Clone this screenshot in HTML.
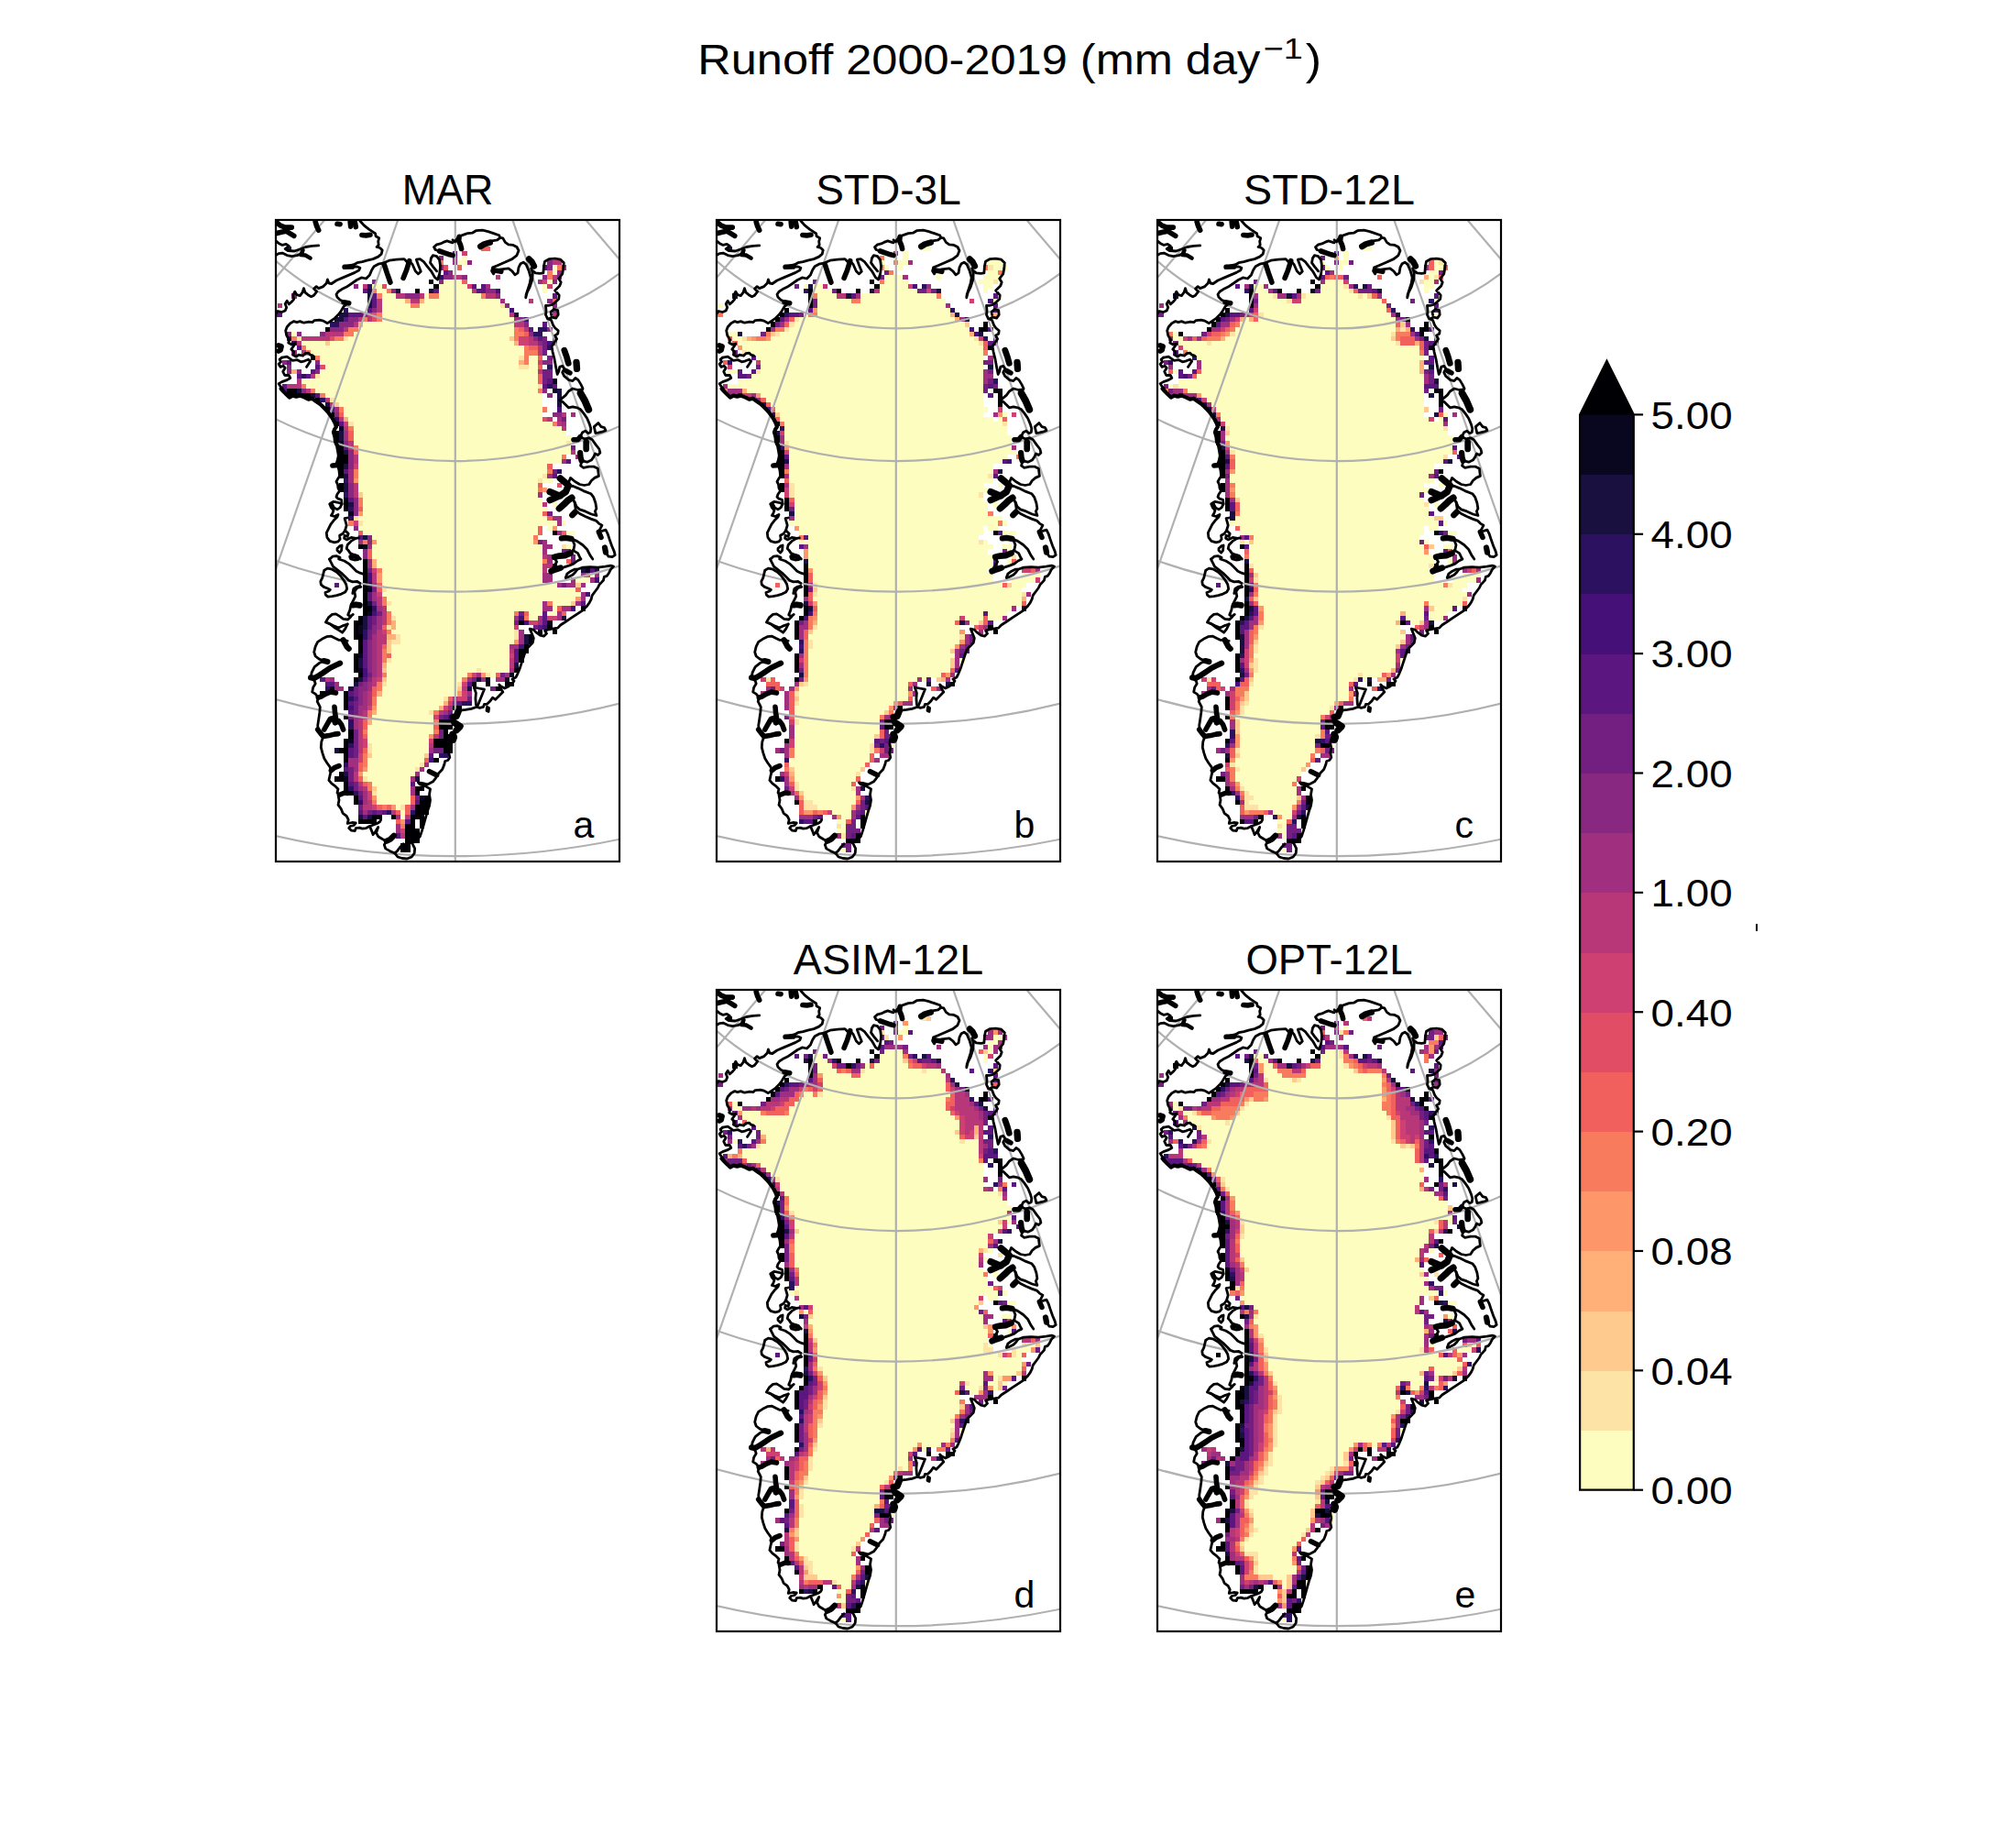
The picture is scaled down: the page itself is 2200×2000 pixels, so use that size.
<!DOCTYPE html>
<html><head><meta charset="utf-8"><title>Runoff 2000-2019</title>
<style>
html,body{margin:0;padding:0;background:#fff;}
body{width:2200px;height:2000px;overflow:hidden;font-family:"Liberation Sans",sans-serif;}
svg{display:block;position:absolute;left:0;top:0;}
text{font-family:"Liberation Sans",sans-serif;fill:#000;}
</style></head><body>
<svg xmlns="http://www.w3.org/2000/svg" xmlns:xlink="http://www.w3.org/1999/xlink" width="2200" height="2000" viewBox="0 0 2200 2000">
<defs>
<clipPath id="pc"><rect x="0" y="0" width="375" height="700"/></clipPath>

<g id="grat" fill="none" stroke="#b0b0b0" stroke-width="2.2" clip-path="url(#pc)"><circle cx="195.8" cy="-178.8" r="297.2"/><circle cx="195.8" cy="-178.8" r="441.9"/><circle cx="195.8" cy="-178.8" r="584.4"/><circle cx="195.8" cy="-178.8" r="728.6"/><circle cx="195.8" cy="-178.8" r="873.0"/><path d="M195.8 -5V705"/><path d="M135.0 -5L-113.5 705"/><path d="M256.6 -5L505.1 705"/><path d="M52.4 1L0 63"/><path d="M52.4 1L57.5 -5"/><path d="M339.2 1L375 43"/><path d="M339.2 1L334 -5"/></g>
<g id="coast" fill="none" stroke="#000" stroke-width="2.8" stroke-linejoin="round" stroke-linecap="round" clip-path="url(#pc)"><path d="M91.9 1.0 L95.9 5.6 L101.5 10.2 L106.1 13.2 L108.6 14.7 L109.1 17.8 L112.7 19.8 L111.7 23.4 L112.2 27.4 L110.1 29.5 L113.7 30.5 L116.2 33.0 L115.2 37.1 L111.7 40.1 L106.1 42.6 L99.5 44.2 L94.4 45.7 L88.8 46.7 L85.3 48.7 L80.2 49.8 L75.1 51.3 L81.2 51.6 L88.3 50.8 L91.9 52.3 L90.9 54.8 L86.3 57.4 L79.2 60.4 L72.1 63.4 L66.0 66.0 L60.9 69.5 L57.9 69.0 L56.4 65.0 L55.3 69.0 L51.8 72.6 L46.7 74.6 L44.2 72.6 L41.6 75.1 L44.7 78.2 L41.6 82.2 L38.6 83.7 L35.1 81.7 L32.0 79.2 L30.5 74.6 L29.0 79.2 L26.4 82.7 L22.9 81.7 L20.8 78.2 L18.8 82.2 L19.8 86.3 L16.8 89.8 L14.3 91.9 L12.2 88.3 L10.2 91.4 L11.7 95.4 L10.2 99.0 L6.6 100.5 L2.1 99.5 L0.0 102.5"/><path d="M93.9 16.5 L98.5 16.9 L103.0 16.3" stroke-width="5.6"/><path d="M75.1 51.3 L83.3 51.0" stroke-width="5.6"/><path d="M0.0 2.1 L5.1 6.1 L10.2 8.1 L17.3 8.1" stroke-width="5.6"/><path d="M0.0 14.7 L6.1 13.2 L11.2 12.2 L19.8 17.3" stroke-width="5.6"/><path d="M0.0 22.9 L3.1 25.4 L7.1 27.4 L11.2 26.4 L14.3 28.4 L10.2 31.5 L13.2 33.5 L20.3 34.0 L27.4 31.5 L32.5 29.5 L39.6 28.4 L46.7 27.9"/><path d="M29.5 33.0 L27.4 38.1 L32.5 38.6 L37.6 41.6" stroke-width="4.5"/><path d="M0.0 38.6 L3.1 36.6 L7.1 36.1 L12.2 38.6 L17.3 39.6 L23.4 38.6 L29.5 36.1"/><path d="M43.2 2.1 L44.7 7.1 L46.7 11.2" stroke-width="5.6"/><path d="M67.0 4.3 L70.1 4.7" stroke-width="5.6"/><path d="M81.2 2.1 L81.7 7.1" stroke-width="5.6"/><path d="M86.3 2.6 L87.3 7.6" stroke-width="5.6"/><path d="M79.2 90.5 L74.1 94.4 L71.1 99.5 L68.0 103.5 L64.5 107.1 L59.4 110.6 L56.4 112.7 L51.8 110.1 L47.7 109.1 L42.2 109.6 L40.1 111.6 L36.1 111.1 L30.5 112.2 L26.4 110.6 L22.9 111.6 L19.8 110.6 L15.8 112.7 L12.2 116.7 L10.7 120.8 L11.7 125.9 L14.8 130.9 L13.7 134.0 L17.3 136.0 L20.8 135.0 L18.8 138.5 L16.8 141.1 L19.8 144.1 L18.8 147.2 L22.4 149.2 L24.9 147.2 L29.5 148.2 L32.0 145.6 L35.6 145.1 L37.6 147.2 L40.6 148.2"/><path d="M6.6 150.2 L4.1 152.2 L5.6 154.8 L3.1 157.3 L5.1 160.4 L8.2 159.3 L10.2 161.4 L7.7 165.4 L9.7 169.5 L14.3 169.5 L15.8 172.5 L12.2 174.6 L6.6 176.6 L3.1 178.6 L5.1 181.7 L7.1 184.0"/><path d="M6.6 150.2 L12.2 149.2 L18.3 153.3 L23.4 152.7 L27.4 154.8 L31.5 153.8 L35.6 152.2 L37.6 154.3 L35.6 157.3 L33.5 160.4"/><path d="M3.1 137.0 L6.1 138.0 L5.1 142.1 L3.1 143.1" stroke-width="5.6"/><path d="M74.1 89.8 L79.7 90.8" stroke-width="5.6"/><path d="M77.2 90.3 L70.1 87.3 L67.0 84.3 L66.0 81.2 L68.0 78.2 L72.1 75.6 L77.2 73.1 L83.3 69.0 L88.3 65.5 L93.4 62.9 L98.5 64.0 L102.5 59.9 L104.6 54.8 L107.1 50.8 L111.7 48.2 L116.7 47.2 L123.8 44.2 L132.0 43.2 L140.1 42.6 L143.1 45.7 L145.7 44.7 L149.2 48.7 L152.3 55.8 L155.3 58.9 L158.3 56.3 L155.3 48.7 L153.3 43.2 L157.3 42.6 L161.4 45.7 L165.4 50.8 L169.5 55.8 L173.6 62.9 L176.6 65.0 L178.6 58.9 L179.6 50.8 L178.6 43.7 L175.6 39.6 L171.5 38.6 L169.5 41.6 L168.5 46.7 L171.5 50.8 L175.6 55.8"/><path d="M118.3 48.7 L121.3 57.9 L124.9 68.0" stroke-width="5.6"/><path d="M145.7 44.7 L142.6 54.8 L139.1 63.4" stroke-width="5.6"/><path d="M193.0 24.9 L189.8 23.9 L186.8 22.9 L182.7 24.4 L179.6 25.9 L175.6 26.9 L172.5 29.5 L174.1 32.5 L178.6 34.0"/><path d="M178.6 34.0 L184.7 36.1 L189.8 37.8 L193.0 38.6" stroke-width="5.6"/><path d="M193.0 21.8 L195.5 23.9 L197.1 21.3 L200.1 18.3 L204.2 16.3 L209.2 14.7 L214.3 14.2 L218.4 11.7 L225.5 11.2 L231.6 12.7 L237.6 14.7 L243.7 16.8 L244.8 19.3 L241.7 21.8 L235.6 22.9 L229.5 24.4 L225.5 26.9"/><path d="M223.4 28.9 L227.5 26.4 L233.6 24.6" stroke-width="6.7"/><path d="M244.8 19.3 L247.8 19.8 L250.3 24.4 L253.9 26.9 L259.0 27.4 L263.0 29.5 L265.0 33.5 L263.0 38.6 L257.9 42.6 L249.8 46.2 L241.7 49.8 L236.6 51.8 L235.6 55.8 L237.6 58.9 L239.7 54.8 L245.8 53.8 L253.9 52.8 L257.9 55.8 L261.0 59.9 L264.0 57.9 L265.0 51.8 L267.1 47.7 L270.1 46.2 L273.2 48.7 L276.2 55.8 L278.2 62.9 L277.2 69.0 L275.2 75.1 L273.2 81.2 L272.7 84.8 L274.2 79.2 L277.2 73.1 L279.8 65.0 L280.3 57.9 L278.7 52.8"/><path d="M237.6 54.8 L245.8 56.3" stroke-width="5.6"/><path d="M200.1 18.3 L199.6 22.9 L201.6 27.4 L202.6 31.5" stroke-width="5.6"/><path d="M276.2 42.6 L279.3 45.7 L281.8 50.3" stroke-width="6.7"/><path d="M280.8 55.8 L283.3 57.9 L288.4 58.4 L291.9 57.9 L292.4 50.8 L293.5 45.2 L298.5 42.6 L304.6 42.1 L310.7 43.2 L314.3 46.7 L313.8 52.8 L312.7 58.9 L308.7 64.0 L311.2 68.0 L309.7 72.1 L304.6 77.1 L306.6 79.2 L309.2 82.2 L308.7 86.3 L305.6 89.3 L301.6 92.4 L297.5 93.4 L294.5 93.4 L295.0 99.5 L294.5 103.5 L296.5 107.6 L300.6 109.6 L302.6 114.7 L304.6 117.7 L308.2 120.8 L307.7 124.3 L304.6 125.9 L306.6 129.9 L303.6 134.0 L301.1 138.0 L302.1 144.1 L304.1 152.2 L305.6 160.4 L307.2 168.5 L308.7 165.4 L309.7 160.4 L312.7 159.3 L314.8 162.4 L312.7 166.4 L314.8 170.5 L319.8 174.6 L323.9 175.6 L326.9 172.5 L330.0 174.6 L333.0 179.6 L335.1 184.0"/><path d="M300.6 103.5 L300.1 100.5 L303.6 97.4 L307.7 98.5 L308.2 103.5 L305.6 107.1 L301.6 106.1 L298.5 107.6"/><path d="M314.8 142.1 L317.3 149.2 L319.3 156.3" stroke-width="6.7"/><path d="M328.0 155.3 L328.5 162.4" stroke-width="7.3"/><path d="M316.3 164.4 L320.9 166.9" stroke-width="5.6"/><path d="M5.6 184.0 L8.2 187.0 L12.2 191.1 L14.8 193.6 L18.3 191.6 L22.4 192.6 L26.4 191.6 L31.5 193.6 L35.6 195.7 L39.6 194.7 L43.7 197.7 L48.8 201.3 L52.8 205.3 L56.4 208.9 L59.4 212.9 L61.9 216.5 L64.5 221.5 L66.0 225.6 L64.0 228.6 L63.0 231.7 L64.5 236.8 L65.0 241.8 L67.0 245.9 L68.0 251.0 L69.0 257.1 L68.0 262.1 L67.0 265.2" stroke-width="4.2"/><path d="M61.9 268.0 L68.0 267.4" stroke-width="5.6"/><path d="M67.0 265.2 L69.0 273.3 L69.6 279.4 L68.0 281.9 L66.0 285.5 L67.5 288.5 L68.0 292.6 L69.6 295.6 L67.0 299.2 L66.0 302.2 L68.0 304.2 L71.6 305.3 L72.1 309.8 L70.1 313.9 L67.0 315.9 L63.5 313.9 L60.9 308.8 L58.9 310.3 L60.4 313.9 L63.0 316.9 L61.9 320.0 L60.4 322.5 L64.0 323.5 L68.0 321.5 L67.0 324.0 L63.0 328.1 L59.9 332.1 L57.4 337.2 L55.3 341.3 L55.9 346.4 L58.9 350.4 L64.0 351.9 L68.0 350.9 L70.1 348.4 L69.6 344.3 L73.1 342.3 L75.6 338.7 L77.2 333.2 L76.1 329.1 L75.1 325.6 L78.2 325.0"/><path d="M58.9 309.8 L63.0 307.3 L68.0 308.3 L72.1 309.8"/><path d="M75.6 338.7 L79.2 342.3 L78.2 345.3 L75.1 344.3 L74.6 347.4 L77.2 348.9 L82.2 346.4 L87.3 347.4 L90.4 346.9"/><path d="M87.3 347.4 L82.2 350.4 L78.2 354.5 L77.2 358.5 L79.2 360.6 L81.2 363.6 L85.3 365.6 L89.3 366.6 L92.4 370.0"/><path d="M67.0 358.5 L70.1 355.5 L72.1 355.0 L71.6 360.6 L69.6 363.1 L67.0 360.6 L67.0 358.5"/><path d="M58.9 370.0 L61.9 367.2 L66.0 366.6 L70.1 368.2"/><path d="M82.2 367.7 L85.3 366.6 L88.3 367.7" stroke-width="5.6"/><path d="M334.7 185.0 L329.6 185.5 L324.0 184.0 L319.4 187.0 L316.4 191.1 L312.8 194.1 L309.8 196.7 L312.8 198.2 L315.9 201.3 L319.4 204.8 L324.0 203.8 L328.6 204.8 L332.6 206.8 L336.2 211.4 L339.7 216.5 L342.3 222.6 L343.8 227.6 L343.3 231.7 L340.8 232.7 L337.7 230.2 L334.7 231.7 L332.1 236.8 L336.7 238.8 L341.8 237.8 L345.3 239.8 L348.9 244.9 L352.9 250.0 L353.9 254.0 L351.4 256.6 L348.4 255.0 L346.8 258.6 L344.3 262.1 L339.7 264.2 L335.7 263.1 L332.6 259.1"/><path d="M332.1 236.8 L329.6 239.8 L325.0 239.8" stroke-width="5.6"/><path d="M332.1 254.0 L332.6 259.1 L333.6 262.6" stroke-width="6.2"/><path d="M333.6 264.2 L332.6 268.2 L335.7 270.3 L341.8 269.2 L347.3 269.2 L351.4 271.3 L351.9 275.3 L352.4 279.4 L347.9 281.4 L344.3 284.5 L341.8 288.5 L336.7 289.5 L331.6 288.5 L326.5 285.5 L321.5 281.4 L319.9 285.5 L318.4 289.5 L324.5 290.5 L329.6 292.6 L335.7 295.6 L343.8 298.7 L346.8 302.7 L348.9 308.8 L349.9 314.9 L348.4 317.9 L349.9 322.5 L344.3 321.0 L337.7 317.9 L331.6 315.9 L328.1 312.9 L326.0 307.8 L323.0 303.2"/><path d="M323.0 303.2 L318.9 305.8 L314.4 310.3 L309.3 314.9" stroke-width="7.3"/><path d="M326.0 307.8 L327.1 314.9 L326.5 319.0"/><path d="M326.5 319.0 L323.5 322.0" stroke-width="6.7"/><path d="M327.1 316.9 L331.6 320.5 L337.7 323.5 L343.8 326.1 L349.4 328.1 L352.4 331.1 L356.0 333.2 L353.9 337.2 L352.4 340.3"/><path d="M352.4 340.3 L355.0 346.4" stroke-width="5.6"/><path d="M356.0 339.3 L360.0 338.2 L362.1 342.3 L364.1 348.4 L366.6 355.5 L369.2 361.6 L370.2 365.6 L367.1 367.7 L363.1 367.2 L360.0 362.6"/><path d="M360.0 362.6 L359.0 357.5" stroke-width="6.2"/><path d="M310.3 281.9 L319.4 289.5 L316.4 296.6 L310.3 300.7 L299.1 305.8" stroke-width="7.3"/><path d="M299.1 296.6 L306.3 299.7 L310.3 300.7" stroke-width="7.3"/><path d="M347.3 225.6 L351.9 221.5 L355.0 225.6 L358.5 226.6 L360.0 229.7 L356.0 231.2 L351.9 232.2 L348.9 232.7 L347.3 225.6"/><path d="M332.6 189.1 L337.2 197.2 L341.3 206.8" stroke-width="7.8"/><path d="M338.7 242.3 L338.7 250.0" stroke-width="6.7"/><path d="M311.8 347.4 L316.4 346.9 L322.5 347.9" stroke-width="6.2"/><path d="M322.5 347.9 L328.6 350.4 L334.7 354.5 L339.7 359.5 L342.8 365.6 L345.8 370.0"/><path d="M323.5 348.4 L326.0 354.5 L325.0 359.5 L321.5 363.6"/><path d="M321.5 363.6 L315.4 366.1 L309.3 366.6 L304.2 367.7" stroke-width="6.7"/><path d="M324.5 360.6 L329.6 363.6 L332.6 370.0"/><path d="M52.8 382.2 L56.4 380.1 L61.5 381.2 L66.5 384.2 L70.6 388.3 L73.6 392.3 L76.7 397.4 L77.7 402.5 L75.7 406.0 L71.6 408.1 L66.5 409.6 L61.5 410.6 L56.9 411.1 L54.4 409.1 L53.9 406.5 L57.9 405.0 L59.4 403.5 L56.4 402.0 L52.3 400.4 L49.3 397.9 L48.8 394.4 L50.8 390.3 L51.8 386.2 L52.8 382.2"/><path d="M58.4 370.0 L60.5 374.1 L62.5 378.1 L67.6 382.2 L72.6 386.2 L76.7 390.3 L79.7 393.3 L83.8 394.9 L88.9 394.4 L91.9 396.4"/><path d="M68.6 370.0 L74.7 372.0 L79.7 375.1 L83.8 379.1 L87.9 383.2 L91.9 385.2 L95.0 386.2"/><path d="M81.8 370.0 L85.8 371.0 L89.9 370.5"/><path d="M92.9 400.4 L88.9 401.5 L85.8 405.5 L83.8 407.5 L84.8 402.5 L87.9 400.4 L91.9 399.4"/><path d="M85.8 405.5 L86.8 410.6 L84.3 415.7 L81.8 420.7 L80.8 425.8 L78.7 430.9 L81.8 432.4 L84.3 430.4"/><path d="M84.3 420.2 L87.3 419.7 L91.4 420.4" stroke-width="6.7"/><path d="M81.8 432.9 L78.7 436.0 L73.6 435.4 L69.6 432.4 L65.5 429.9 L61.5 430.4 L57.4 433.9 L54.4 439.0 L59.4 441.0 L64.5 445.1 L69.6 448.1 L72.6 450.2 L75.7 446.1 L78.2 441.0"/><path d="M78.2 441.0 L73.6 442.6 L68.6 445.1 L62.5 442.6 L57.4 440.0"/><path d="M78.2 459.3 L73.6 458.3 L68.6 458.3 L64.5 456.3 L60.5 454.2 L55.4 454.7 L50.3 457.3 L45.7 460.3 L43.2 465.4 L41.7 471.5 L43.2 476.0 L47.3 479.1 L52.3 481.1"/><path d="M73.6 458.3 L75.7 462.3 L77.7 465.9 L79.7 467.9" stroke-width="6.2"/><path d="M52.3 481.1 L56.4 482.1" stroke-width="6.2"/><path d="M52.3 481.1 L47.3 483.6 L42.2 487.7 L39.1 493.8 L38.1 499.4"/><path d="M38.1 499.4 L42.2 499.9 L47.3 496.8 L53.4 492.8 L59.4 488.7 L65.5 485.7 L70.1 483.6" stroke-width="6.2"/><path d="M38.1 499.4 L42.2 502.9 L43.2 506.0 L40.7 510.0 L39.7 515.1 L43.2 517.1 L46.3 521.2"/><path d="M46.3 521.2 L49.3 520.2 L54.4 517.1 L59.4 515.1 L65.5 516.1" stroke-width="5.6"/><path d="M46.3 521.2 L45.2 525.3 L48.3 531.3 L47.8 537.4 L46.8 544.5 L45.7 551.6 L46.3 556.0"/><path d="M64.0 531.3 L64.5 537.4 L65.5 543.5 L65.0 548.6" stroke-width="5.6"/><path d="M52.8 556.0 L56.4 549.6 L59.4 544.5 L62.5 543.5 L64.5 548.6 L68.6 546.6 L71.6 550.6 L73.6 556.0" stroke-width="5.6"/><path d="M304.6 370.0 L306.6 373.0 L304.6 376.1 L302.6 379.1"/><path d="M300.6 383.2 L305.6 381.2 L310.7 379.6" stroke-width="6.7"/><path d="M310.7 379.6 L313.8 379.1 L319.8 377.1 L324.9 375.1 L329.0 372.0 L333.0 370.0"/><path d="M316.3 390.3 L317.8 386.2 L321.9 383.2 L325.9 381.2 L329.0 381.2 L335.1 379.1 L343.2 378.6 L351.3 379.1 L359.4 378.1 L365.5 377.1 L368.5 378.1 L365.5 381.2 L363.5 385.2 L361.4 388.3 L358.4 389.3 L357.4 393.3 L355.4 395.4 L353.3 397.4 L351.3 401.5 L348.3 405.5 L345.2 409.6 L344.2 413.6 L342.2 417.7 L339.1 421.8 L335.1 425.8 L329.0 429.9 L322.9 433.9 L316.8 438.0 L310.7 442.0 L307.7 445.1 L301.6 446.1 L296.5 447.1 L293.5 448.1 L295.5 451.2 L292.4 454.2 L288.4 453.2 L284.3 450.2 L281.3 447.1 L277.2 446.1 L279.3 451.2 L281.3 456.3 L280.3 461.3 L277.2 464.4 L274.2 467.4 L272.1 471.5 L270.1 477.6 L268.1 483.6 L266.1 489.7 L264.0 494.8 L262.0 498.9 L257.9 500.9 L260.0 502.9 L257.9 506.0 L253.9 509.0 L249.8 511.0 L245.8 509.0 L243.7 507.0 L245.8 512.1 L247.8 515.1 L243.7 519.2 L239.7 523.2 L236.6 521.2 L233.6 525.3 L230.5 528.3 L227.5 528.3 L226.5 531.3 L222.4 532.4 L219.4 531.3"/><path d="M316.3 390.3 L319.8 389.3 L323.9 387.3 L326.9 384.2 L329.0 381.2"/><path d="M216.3 510.0 L221.4 511.0 L227.5 512.1 L225.5 517.1 L223.4 522.2 L221.4 527.3 L219.4 531.3 L213.3 533.4 L207.2 534.4 L203.1 534.9 L199.1 536.4"/><path d="M216.3 510.0 L218.4 516.1 L217.9 522.2 L218.4 528.3 L219.4 531.3"/><path d="M193.0 542.5 L197.1 541.5 L199.1 536.4" stroke-width="7.3"/><path d="M195.0 548.6 L201.1 552.6 L197.1 556.7" stroke-width="7.3"/><path d="M230.5 531.3 L230.0 535.4 L232.1 536.4 L232.6 532.4 L230.5 531.3"/><path d="M45.7 556.0 L48.8 560.1 L51.8 563.6 L57.9 562.6 L64.0 561.1 L68.0 560.6" stroke-width="5.6"/><path d="M51.8 563.6 L49.8 569.2 L49.3 575.3 L50.8 581.4 L52.8 587.5 L55.9 592.5 L58.9 596.6 L60.4 600.6"/><path d="M60.4 600.6 L64.0 597.6 L69.0 595.6" stroke-width="5.6"/><path d="M60.4 600.6 L58.9 606.7 L57.9 611.3 L60.9 614.9 L65.0 617.9 L68.0 620.9 L67.0 625.0 L70.1 627.0"/><path d="M70.1 627.0 L75.1 625.0 L78.2 625.5" stroke-width="5.6"/><path d="M68.0 627.0 L69.0 633.1 L68.0 638.2 L71.1 642.3 L73.1 647.3 L77.2 650.4 L79.2 654.4 L78.2 658.5 L83.3 657.5 L87.3 658.0 L85.3 660.5 L81.2 661.5 L79.7 663.6 L82.2 666.1 L86.3 666.6 L87.3 663.6 L91.4 663.1 L94.4 664.1 L98.5 663.6 L102.5 661.5 L106.6 660.0 L110.6 658.5 L113.7 656.5 L114.7 654.4"/><path d="M102.5 661.5 L104.6 666.6 L106.1 670.7 L108.6 667.6 L111.7 662.5 L109.6 668.6 L111.7 672.7 L116.7 675.7 L120.8 677.8"/><path d="M120.8 677.8 L124.9 675.7 L128.9 671.7" stroke-width="6.2"/><path d="M120.8 677.8 L118.3 681.8 L119.8 685.9 L124.9 688.9 L129.9 691.0 L133.0 687.9 L136.0 683.9 L139.1 680.8"/><path d="M129.9 691.0 L133.0 695.0 L138.0 696.5 L143.1 697.0 L148.2 695.0 L151.2 691.0 L151.7 685.9 L149.2 680.8 L146.2 677.8"/><path d="M151.2 678.8 L157.3 672.7 L159.4 666.6 L161.4 659.5 L163.4 652.4 L165.4 645.3 L167.5 639.2 L168.5 633.1 L167.5 627.0 L168.5 620.9 L163.4 617.9 L157.3 615.9 L155.3 613.8 L159.4 614.3 L165.4 615.9 L171.5 612.8 L174.6 608.8 L175.6 605.7"/><path d="M167.5 601.7 L171.5 603.7 L175.6 605.7" stroke-width="5.6"/><path d="M175.6 605.7 L177.6 603.7 L181.7 599.6 L183.7 594.6 L184.7 590.5 L187.8 589.5 L189.8 586.4 L188.8 581.4 L189.8 576.3 L188.8 571.2 L189.8 566.1 L191.8 562.1 L193.0 560.1"/><path d="M193.0 561.1 L194.5 564.1 L193.5 567.2" stroke-width="7.3"/></g>
</defs>
<g id="panel-a">
<clipPath id="clip-a"><rect x="301" y="240" width="375" height="700"/></clipPath>
<g clip-path="url(#clip-a)" shape-rendering="crispEdges"><path fill="#fcfdbf" d="M417 320H432V326H417ZM463 320H468V326H463ZM479 320H525V326H479ZM417 331H448V336H417ZM458 331H546V336H458ZM417 341H556V346H417ZM504 279H510V284H504ZM499 284H510V289H499ZM603 289H608V295H603ZM603 295H608V300H603ZM484 305H504V310H484ZM597 305H603V310H597ZM406 310H417V315H406ZM479 310H510V315H479ZM592 310H597V315H592ZM411 315H422V320H411ZM479 315H515V320H479ZM592 315H597V320H592ZM417 326H442V331H417ZM463 326H546V331H463ZM417 336H556V341H417ZM417 346H561V351H417ZM396 351H561V357H396ZM391 357H561V362H391ZM318 362H324V367H318ZM386 362H561V367H386ZM380 367H556V372H380ZM329 372H355V377H329ZM360 372H561V377H360ZM334 377H572V382H334ZM339 382H572V388H339ZM349 388H566V393H349ZM577 388H587V393H577ZM349 393H566V398H349ZM577 393H587V398H577ZM355 398H566V403H355ZM577 398H587V403H577ZM349 403H587V408H349ZM349 408H587V413H349ZM329 413H587V419H329ZM334 419H587V424H334ZM344 424H587V429H344ZM355 429H592V434H355ZM365 434H592V439H365ZM370 439H592V444H370ZM375 444H592V450H375ZM375 450H592V455H375ZM380 455H592V460H380ZM386 460H603V465H386ZM386 465H613V470H386ZM386 470H618V475H386ZM386 475H623V481H386ZM386 481H618V486H386ZM391 486H623V491H391ZM391 491H623V496H391ZM391 496H613V501H391ZM391 501H613V506H391ZM391 506H597V512H391ZM391 512H597V517H391ZM391 517H592V522H391ZM391 522H587V527H391ZM592 522H603V527H592ZM391 527H587V532H391ZM391 532H587V537H391ZM396 537H587V543H396ZM396 543H592V548H396ZM396 548H592V553H396ZM603 548H608V553H603ZM396 553H597V558H396ZM396 558H592V563H396ZM391 563H597V568H391ZM396 568H608V574H396ZM613 568H618V574H613ZM391 574H587V579H391ZM597 574H603V579H597ZM396 579H587V584H396ZM618 579H628V584H618ZM406 584H582V589H406ZM411 589H582V594H411ZM406 594H592V599H406ZM618 594H623V599H618ZM406 599H592V605H406ZM406 605H592V610H406ZM411 610H592V615H411ZM411 615H592V620H411ZM417 620H592V625H417ZM417 625H592V630H417ZM644 625H649V630H644ZM417 630H592V636H417ZM628 630H644V636H628ZM417 636H608V641H417ZM422 641H628V646H422ZM417 646H634V651H417ZM422 651H628V656H422ZM427 656H592V661H427ZM603 656H623V661H603ZM422 661H592V667H422ZM603 661H608V667H603ZM427 667H561V672H427ZM577 667H592V672H577ZM597 667H608V672H597ZM432 672H561V677H432ZM577 672H587V677H577ZM432 677H561V682H432ZM432 682H561V687H432ZM427 687H561V692H427ZM437 692H561V698H437ZM437 698H561V703H437ZM427 703H556V708H427ZM427 708H556V713H427ZM427 713H556V718H427ZM427 718H556V723H427ZM422 723H556V729H422ZM422 729H520V734H422ZM525 729H556V734H525ZM422 734H510V739H422ZM535 734H541V739H535ZM422 739H504V744H422ZM422 744H499V749H422ZM417 749H499V754H417ZM417 754H499V760H417ZM411 760H484V765H411ZM411 765H484V770H411ZM411 770H479V775H411ZM411 775H468V780H411ZM406 780H473V785H406ZM406 785H473V791H406ZM401 791H473V796H401ZM401 796H473V801H401ZM401 801H468V806H401ZM401 806H468V811H401ZM406 811H468V816H406ZM406 816H468V822H406ZM406 822H463V827H406ZM401 827H463V832H401ZM401 832H458V837H401ZM401 837H453V842H401ZM396 842H453V847H396ZM401 847H448V853H401ZM406 853H448V858H406ZM411 858H448V863H411ZM411 863H448V868H411ZM411 868H448V873H411ZM411 873H448V878H411ZM432 878H437V884H432ZM437 884H442V889H437ZM437 889H442V894H437Z"/>
<path fill="#fde3a5" d="M546 331H551V336H546ZM324 367H329V372H324ZM375 367H380V372H375ZM566 388H572V393H566ZM566 398H577V403H566ZM344 408H349V413H344ZM587 419H592V424H587ZM360 434H365V439H360ZM380 460H386V465H380ZM618 481H623V486H618ZM592 517H597V522H592ZM587 522H592V527H587ZM386 563H391V568H386ZM391 568H396V574H391ZM613 594H618V599H613ZM417 641H422V646H417ZM422 656H427V661H422ZM427 672H432V677H427ZM422 682H427V687H422ZM561 687H566V692H561ZM432 692H437V698H432ZM561 692H566V698H561ZM427 698H437V703H427ZM422 718H427V723H422ZM520 729H525V734H520ZM530 734H535V739H530ZM417 744H422V749H417ZM499 744H504V749H499ZM484 760H489V765H484ZM468 775H473V780H468ZM401 811H406V816H401ZM401 816H406V822H401ZM458 832H463V837H458ZM453 837H458V842H453ZM396 847H401V853H396ZM406 863H411V868H406ZM437 878H442V884H437Z"/>
<path fill="#feca8d" d="M556 367H561V372H556ZM355 372H360V377H355ZM365 439H370V444H365ZM391 537H396V543H391ZM628 636H634V641H628ZM623 656H628V661H623ZM422 698H427V703H422ZM422 703H427V708H422ZM422 708H427V713H422ZM417 729H422V734H417ZM417 739H422V744H417ZM499 749H504V754H499ZM401 822H406V827H401ZM463 822H468V827H463ZM406 858H411V863H406Z"/>
<path fill="#feb078" d="M442 326H448V331H442ZM458 326H463V331H458ZM391 351H396V357H391ZM561 372H566V377H561ZM566 393H572V398H566ZM318 403H324V408H318ZM375 455H380V460H375ZM406 610H411V615H406ZM406 615H411V620H406ZM427 677H432V682H427ZM427 682H432V687H427ZM422 692H432V698H422ZM417 723H422V729H417ZM411 754H417V760H411ZM484 765H489V770H484ZM479 770H484V775H479ZM406 775H411V780H406ZM401 785H406V791H401Z"/>
<path fill="#fd9668" d="M386 522H391V527H386ZM592 532H597V537H592ZM391 558H396V563H391ZM603 574H608V579H603ZM406 589H411V594H406ZM582 589H587V594H582ZM411 625H417V630H411ZM411 630H417V636H411ZM628 651H634V656H628ZM561 698H566V703H561ZM525 734H530V739H525ZM499 754H504V760H499ZM406 770H411V775H406ZM468 801H473V806H468ZM396 837H401V842H396ZM391 842H396V847H391ZM406 868H411V873H406ZM427 878H432V884H427ZM437 894H442V899H437Z"/>
<path fill="#f97b5d" d="M411 320H417V326H411ZM468 320H479V326H468ZM525 320H530V326H525ZM448 331H458V336H448ZM411 341H417V346H411ZM479 284H484V289H479ZM608 289H613V295H608ZM597 295H603V300H597ZM597 300H603V305H597ZM406 315H411V320H406ZM422 315H427V320H422ZM396 346H401V351H396ZM411 346H417V351H411ZM380 357H391V362H380ZM561 357H566V362H561ZM375 362H386V367H375ZM561 362H572V367H561ZM318 367H324V372H318ZM365 367H375V372H365ZM561 367H566V372H561ZM329 377H334V382H329ZM572 377H577V382H572ZM334 382H339V388H334ZM572 382H587V388H572ZM344 388H349V393H344ZM572 388H577V393H572ZM572 393H577V398H572ZM329 419H334V424H329ZM339 424H344V429H339ZM587 424H592V429H587ZM349 429H355V434H349ZM370 444H375V450H370ZM592 444H597V450H592ZM603 460H608V465H603ZM380 465H386V470H380ZM386 486H391V491H386ZM613 496H618V501H613ZM386 512H391V517H386ZM597 512H603V517H597ZM386 517H391V522H386ZM587 532H592V537H587ZM391 543H396V548H391ZM391 548H396V553H391ZM380 568H386V574H380ZM582 584H587V589H582ZM396 589H401V594H396ZM592 610H597V615H592ZM411 620H417V625H411ZM417 651H422V656H417ZM417 656H422V661H417ZM597 656H603V661H597ZM422 667H427V672H422ZM561 667H566V672H561ZM422 672H427V677H422ZM572 672H577V677H572ZM422 677H427V682H422ZM422 687H427V692H422ZM417 708H422V713H417ZM417 713H422V718H417ZM417 718H422V723H417ZM417 734H422V739H417ZM510 734H515V739H510ZM504 739H510V744H504ZM411 744H417V749H411ZM411 749H417V754H411ZM406 760H411V765H406ZM406 765H411V770H406ZM401 775H406V780H401ZM473 775H479V780H473ZM401 780H406V785H401ZM473 785H479V791H473ZM396 796H401V801H396ZM473 796H479V801H473ZM396 822H401V827H396ZM396 827H401V832H396ZM396 832H401V837H396ZM401 853H406V858H401ZM401 858H406V863H401ZM406 873H411V878H406ZM417 878H422V884H417ZM437 899H442V904H437Z"/>
<path fill="#f1605d" d="M525 269H535V274H525ZM499 289H504V295H499ZM504 305H510V310H504ZM603 326H608V331H603ZM566 357H572V362H566ZM572 362H577V367H572ZM577 377H587V382H577ZM587 388H592V393H587ZM587 398H592V403H587ZM587 408H592V413H587ZM587 413H592V419H587ZM370 450H375V455H370ZM380 470H386V475H380ZM380 475H386V481H380ZM386 491H391V496H386ZM597 506H603V512H597ZM587 527H592V532H587ZM391 553H396V558H391ZM592 558H597V563H592ZM597 563H603V568H597ZM587 574H592V579H587ZM391 579H396V584H391ZM587 579H592V584H587ZM613 579H618V584H613ZM401 599H406V605H401ZM401 605H406V610H401ZM618 610H623V615H618ZM411 636H417V641H411ZM411 641H417V646H411ZM628 641H634V646H628ZM608 661H613V667H608ZM572 667H577V672H572ZM613 667H618V672H613ZM417 682H422V687H417ZM417 703H422V708H417ZM422 713H427V718H422ZM541 734H546V739H541ZM406 749H411V754H406ZM406 754H411V760H406ZM489 760H494V765H489ZM396 785H401V791H396ZM396 791H401V796H396ZM473 791H479V796H473ZM396 801H401V806H396ZM396 816H401V822H396ZM463 827H468V832H463ZM391 832H396V837H391ZM391 837H396V842H391ZM391 847H396V853H391ZM396 853H401V858H396ZM448 868H453V873H448ZM448 873H453V878H448ZM411 878H417V884H411ZM422 878H427V884H422ZM442 878H448V884H442ZM432 884H437V889H432ZM442 884H448V889H442ZM432 894H437V899H432Z"/>
<path fill="#e24d66" d="M406 341H411V346H406ZM484 289H489V295H484ZM417 310H422V315H417ZM406 346H411V351H406ZM360 367H365V372H360ZM349 398H355V403H349ZM592 455H597V460H592ZM608 527H613V532H608Z"/>
<path fill="#cd4071" d="M592 305H597V310H592ZM510 310H515V315H510ZM597 310H603V315H597ZM566 367H577V372H566ZM566 372H577V377H566ZM587 393H592V398H587ZM504 274H510V279H504ZM375 460H380V465H375ZM386 506H391V512H386ZM386 568H391V574H386ZM406 620H411V625H406ZM639 625H644V630H639ZM411 646H417V651H411ZM597 672H608V677H597ZM577 677H587V682H577ZM561 682H566V687H561ZM417 687H422V692H417ZM556 713H561V718H556ZM515 734H520V739H515ZM411 739H417V744H411ZM504 744H510V749H504ZM504 754H510V760H504ZM499 760H510V765H499ZM489 765H494V770H489ZM401 770H406V775H401ZM484 770H489V775H484ZM473 780H479V785H473ZM396 806H401V811H396ZM468 806H473V811H468ZM396 811H401V816H396ZM391 822H396V827H391ZM391 827H396V832H391ZM401 863H406V868H401ZM401 868H406V873H401ZM406 878H411V884H406ZM437 904H442V909H437Z"/>
<path fill="#b73779" d="M432 320H442V326H432ZM458 320H463V326H458ZM530 320H541V326H530ZM303 331H308V336H303ZM411 331H417V336H411ZM401 341H406V346H401ZM556 341H561V346H556ZM603 341H608V346H603ZM603 284H613V289H603ZM494 300H504V305H494ZM541 300H546V305H541ZM603 300H608V305H603ZM396 310H401V315H396ZM515 315H520V320H515ZM411 326H417V331H411ZM448 326H458V331H448ZM577 326H582V331H577ZM411 336H417V341H411ZM391 346H396V351H391ZM401 346H406V351H401ZM386 351H391V357H386ZM561 351H572V357H561ZM375 357H380V362H375ZM572 357H577V362H572ZM355 362H375V367H355ZM329 367H360V372H329ZM577 367H582V372H577ZM324 372H329V377H324ZM577 372H587V377H577ZM587 377H592V382H587ZM329 382H334V388H329ZM587 382H592V388H587ZM587 403H592V408H587ZM339 408H344V413H339ZM324 413H329V419H324ZM313 419H329V424H313ZM334 424H339V429H334ZM355 434H360V439H355ZM360 439H365V444H360ZM613 450H618V455H613ZM370 455H375V460H370ZM597 455H603V460H597ZM608 460H613V465H608ZM375 465H380V470H375ZM613 465H618V470H613ZM380 481H386V486H380ZM380 486H386V491H380ZM623 491H628V496H623ZM386 496H391V501H386ZM386 501H391V506H386ZM386 527H391V532H386ZM386 532H391V537H386ZM386 537H391V543H386ZM592 548H597V553H592ZM592 605H597V610H592ZM592 615H603V620H592ZM592 620H597V625H592ZM406 625H411V630H406ZM406 630H411V636H406ZM411 651H417V656H411ZM411 656H417V661H411ZM417 661H422V667H417ZM417 667H422V672H417ZM417 672H422V677H417ZM417 677H422V682H417ZM411 687H417V692H411ZM411 692H422V698H411ZM411 698H422V703H411ZM411 703H417V708H411ZM411 708H417V713H411ZM556 708H561V713H556ZM411 713H417V718H411ZM411 718H417V723H411ZM556 718H561V723H556ZM411 723H417V729H411ZM556 723H561V729H556ZM411 729H417V734H411ZM411 734H417V739H411ZM355 739H360V744H355ZM406 739H411V744H406ZM406 744H411V749H406ZM504 749H510V754H504ZM401 754H406V760H401ZM401 760H406V765H401ZM401 765H406V770H401ZM396 775H401V780H396ZM479 775H484V780H479ZM396 780H401V785H396ZM391 785H396V791H391ZM391 791H396V796H391ZM391 796H396V801H391ZM391 801H396V806H391ZM473 801H479V806H473ZM391 806H396V811H391ZM391 811H396V816H391ZM468 811H473V816H468ZM391 816H396V822H391ZM386 842H391V847H386ZM386 847H391V853H386ZM391 853H396V858H391ZM396 858H401V863H396ZM401 873H406V878H401ZM396 878H406V884H396ZM427 884H432V889H427ZM442 889H448V894H442ZM437 909H442V915H437Z"/>
<path fill="#a02f7f" d="M613 289H618V295H613ZM587 305H592V310H587ZM530 310H535V315H530ZM546 326H551V331H546ZM561 346H566V351H561ZM365 444H370V450H365ZM623 450H628V455H623ZM608 455H613V460H608ZM613 460H618V465H613ZM375 470H380V475H375ZM375 475H380V481H375ZM628 496H634V501H628ZM613 501H618V506H613ZM380 512H386V517H380ZM380 517H386V522H380ZM597 517H603V522H597ZM380 522H386V527H380ZM587 537H592V543H587ZM603 563H613V568H603ZM608 568H613V574H608ZM608 579H613V584H608ZM391 589H396V594H391ZM592 589H597V594H592ZM401 594H406V599H401ZM592 594H603V599H592ZM592 599H597V605H592ZM597 605H603V610H597ZM401 610H406V615H401ZM597 610H603V615H597ZM401 615H406V620H401ZM592 625H603V630H592ZM634 625H639V630H634ZM649 625H654V630H649ZM592 630H603V636H592ZM623 630H628V636H623ZM644 630H649V636H644ZM406 636H411V641H406ZM608 636H613V641H608ZM618 636H628V641H618ZM634 636H639V641H634ZM406 646H411V651H406ZM634 646H639V651H634ZM406 651H411V656H406ZM634 651H639V656H634ZM592 656H597V661H592ZM628 656H634V661H628ZM411 661H417V667H411ZM592 661H603V667H592ZM613 661H623V667H613ZM608 667H613V672H608ZM411 672H417V677H411ZM561 672H566V677H561ZM587 672H592V677H587ZM608 672H613V677H608ZM411 677H417V682H411ZM587 677H592V682H587ZM411 682H417V687H411ZM566 687H572V692H566ZM406 692H411V698H406ZM566 692H572V698H566ZM406 698H411V703H406ZM566 698H572V703H566ZM406 703H411V708H406ZM556 703H566V708H556ZM406 708H411V713H406ZM406 713H411V718H406ZM406 718H411V723H406ZM406 723H411V729H406ZM406 729H411V734H406ZM556 729H561V734H556ZM406 734H411V739H406ZM520 734H525V739H520ZM551 734H556V739H551ZM360 739H365V744H360ZM510 739H515V744H510ZM525 739H530V744H525ZM541 739H551V744H541ZM365 744H370V749H365ZM401 744H406V749H401ZM365 749H375V754H365ZM401 749H406V754H401ZM396 754H401V760H396ZM510 754H515V760H510ZM396 760H401V765H396ZM494 760H499V765H494ZM396 765H401V770H396ZM391 770H401V775H391ZM489 770H494V775H489ZM391 775H396V780H391ZM484 775H489V780H484ZM386 780H396V785H386ZM386 785H391V791H386ZM386 791H391V796H386ZM468 816H473V822H468ZM380 827H391V832H380ZM380 832H391V837H380ZM463 832H468V837H463ZM386 837H391V842H386ZM458 837H463V842H458ZM453 842H458V847H453ZM448 847H453V853H448ZM391 858H396V863H391ZM448 858H453V863H448ZM396 863H401V868H396ZM448 863H453V868H448ZM396 868H401V873H396ZM396 873H401V878H396ZM448 878H453V884H448ZM396 884H401V889H396ZM432 889H437V894H432ZM432 899H437V904H432ZM432 904H437V909H432Z"/>
<path fill="#892881" d="M318 320H324V326H318ZM442 320H458V326H442ZM541 320H546V326H541ZM551 331H556V336H551ZM603 331H608V336H603ZM396 341H401V346H396ZM479 279H484V284H479ZM494 279H499V284H494ZM494 284H499V289H494ZM510 284H515V289H510ZM597 284H603V289H597ZM479 289H484V295H479ZM597 289H603V295H597ZM489 295H494V300H489ZM608 295H613V300H608ZM484 300H494V305H484ZM504 300H510V305H504ZM592 300H597V305H592ZM608 300H613V305H608ZM406 305H411V310H406ZM479 305H484V310H479ZM603 305H608V310H603ZM386 310H391V315H386ZM427 315H432V320H427ZM530 315H541V320H530ZM597 326H603V331H597ZM406 336H411V341H406ZM603 336H608V341H603ZM380 346H391V351H380ZM566 346H572V351H566ZM370 351H386V357H370ZM572 351H577V357H572ZM360 357H375V362H360ZM597 357H603V362H597ZM313 362H318V367H313ZM324 362H329V367H324ZM349 362H355V367H349ZM577 362H582V367H577ZM582 367H587V372H582ZM603 367H608V372H603ZM587 372H592V377H587ZM603 372H608V377H603ZM318 382H324V388H318ZM308 393H313V398H308ZM344 393H349V398H344ZM592 393H603V398H592ZM313 398H318V403H313ZM313 403H318V408H313ZM324 403H329V408H324ZM344 403H349V408H344ZM329 424H334V429H329ZM592 424H597V429H592ZM597 429H603V434H597ZM365 450H370V455H365ZM603 450H613V455H603ZM375 481H380V486H375ZM380 491H386V496H380ZM380 496H386V501H380ZM380 501H386V506H380ZM380 506H386V512H380ZM380 527H386V532H380ZM380 532H386V537H380ZM380 537H386V543H380ZM386 543H391V548H386ZM386 548H391V553H386ZM386 553H391V558H386ZM386 558H391V563H386ZM386 574H391V579H386ZM401 584H406V589H401ZM401 589H406V594H401ZM396 599H401V605H396ZM396 605H401V610H396ZM406 682H411V687H406ZM406 687H411V692H406ZM401 698H406V703H401ZM401 703H406V708H401ZM401 708H406V713H401ZM401 713H406V718H401ZM401 718H406V723H401ZM401 723H406V729H401ZM401 729H406V734H401ZM401 739H406V744H401ZM396 744H401V749H396ZM391 749H401V754H391ZM391 754H396V760H391ZM391 760H396V765H391ZM391 765H396V770H391Z"/>
<path fill="#721f81" d="M592 367H597V372H592ZM592 372H597V377H592ZM592 377H597V382H592ZM592 382H597V388H592ZM597 388H603V393H597ZM592 403H603V408H592ZM592 408H603V413H592ZM592 413H597V419H592ZM613 455H618V460H613ZM623 486H628V491H623ZM603 512H608V517H603ZM597 558H603V563H597ZM587 589H592V594H587ZM613 599H623V605H613ZM623 605H628V610H623ZM623 610H628V615H623ZM401 620H406V625H401ZM613 636H618V641H613ZM406 641H411V646H406ZM406 656H411V661H406ZM411 667H417V672H411ZM566 667H572V672H566ZM406 672H411V677H406ZM406 677H411V682H406ZM561 677H566V682H561ZM582 682H587V687H582ZM401 687H406V692H401ZM401 692H406V698H401ZM401 734H406V739H401ZM546 734H551V739H546ZM515 739H520V744H515ZM391 744H396V749H391ZM386 749H391V754H386ZM535 749H541V754H535ZM386 754H391V760H386ZM510 760H515V765H510ZM386 765H391V770H386ZM494 765H499V770H494ZM386 770H391V775H386ZM386 775H391V780H386ZM489 775H494V780H489ZM380 780H386V785H380ZM479 780H484V785H479ZM386 796H391V801H386ZM479 796H484V801H479ZM386 801H391V806H386ZM479 801H484V806H479ZM386 806H391V811H386ZM386 811H391V816H386ZM386 816H391V822H386ZM473 816H484V822H473ZM386 822H391V827H386ZM380 837H386V842H380ZM380 842H386V847H380ZM380 847H386V853H380ZM386 853H391V858H386ZM386 858H391V863H386ZM391 863H396V868H391ZM453 868H458V873H453ZM391 878H396V884H391ZM401 884H406V889H401ZM411 884H417V889H411Z"/>
<path fill="#5c167f" d="M406 320H411V326H406ZM603 320H608V326H603ZM406 331H411V336H406ZM298 341H308V346H298ZM380 341H396V346H380ZM592 289H597V295H592ZM484 295H489V300H484ZM515 310H520V315H515ZM525 310H530V315H525ZM396 315H401V320H396ZM473 315H479V320H473ZM520 315H530V320H520ZM406 326H411V331H406ZM401 336H406V341H401ZM375 346H380V351H375ZM592 351H597V357H592ZM577 357H582V362H577ZM587 367H592V372H587ZM324 377H329V382H324ZM313 393H318V398H313ZM344 398H349V403H344ZM339 403H344V408H339ZM324 408H329V413H324ZM334 408H339V413H334ZM597 413H603V419H597ZM308 419H313V424H308ZM592 419H597V424H592ZM603 419H608V424H603ZM494 274H499V279H494ZM308 424H313V429H308ZM344 429H349V434H344ZM360 444H365V450H360ZM370 460H375V465H370ZM375 486H380V491H375ZM618 501H623V506H618ZM375 512H380V517H375ZM603 517H608V522H603ZM380 543H386V548H380ZM391 584H396V589H391ZM644 620H649V625H644ZM365 636H370V641H365ZM401 646H406V651H401ZM401 651H406V656H401ZM634 656H639V661H634ZM592 667H597V672H592ZM401 672H406V677H401ZM592 672H597V677H592ZM401 677H406V682H401ZM592 677H597V682H592ZM401 682H406V687H401ZM587 682H592V687H587ZM396 698H401V703H396ZM396 703H401V708H396ZM396 708H401V713H396ZM561 708H566V713H561ZM396 713H401V718H396ZM561 713H566V718H561ZM396 718H401V723H396ZM561 718H566V723H561ZM396 723H401V729H396ZM349 739H355V744H349ZM396 739H401V744H396ZM355 744H365V749H355ZM510 744H515V749H510ZM380 754H386V760H380ZM386 760H391V765H386ZM380 765H386V770H380ZM499 765H504V770H499ZM380 775H386V780H380ZM484 780H489V785H484ZM380 816H386V822H380ZM380 822H386V827H380ZM468 822H473V827H468ZM375 837H380V842H375ZM380 853H386V858H380ZM448 853H453V858H448ZM391 868H396V873H391ZM453 873H458V878H453ZM391 884H396V889H391ZM406 884H411V889H406ZM417 884H422V889H417ZM396 889H401V894H396ZM442 894H448V899H442ZM432 909H437V915H432Z"/>
<path fill="#451077" d="M541 315H546V320H541ZM556 336H561V341H556ZM572 346H577V351H572ZM597 372H603V377H597ZM608 444H613V450H608ZM401 625H406V630H401ZM401 630H406V636H401ZM649 630H654V636H649ZM639 646H644V651H639ZM623 661H628V667H623ZM406 667H411V672H406ZM566 672H572V677H566ZM572 677H577V682H572ZM592 682H597V687H592ZM566 703H572V708H566ZM396 729H401V734H396ZM396 734H401V739H396ZM380 770H386V775H380ZM489 780H494V785H489ZM468 827H473V832H468Z"/>
<path fill="#2d1161" d="M479 300H484V305H479ZM401 310H406V315H401ZM375 336H380V341H375ZM360 351H370V357H360ZM587 357H597V362H587ZM582 362H592V367H582ZM313 367H318V372H313ZM318 372H324V377H318ZM597 377H603V382H597ZM597 398H603V403H597ZM329 408H334V413H329ZM597 419H603V424H597ZM349 434H355V439H349ZM365 455H370V460H365ZM608 512H613V517H608ZM375 522H380V527H375ZM375 537H380V543H375ZM380 553H386V558H380ZM380 563H386V568H380ZM406 661H411V667H406ZM396 687H401V692H396ZM396 692H401V698H396ZM355 749H360V754H355ZM380 760H386V765H380ZM504 765H515V770H504ZM380 785H386V791H380ZM380 791H386V796H380ZM380 811H386V816H380ZM479 822H489V827H479ZM375 832H380V837H375ZM380 858H386V863H380ZM386 863H391V868H386ZM391 873H396V878H391ZM422 884H427V889H422ZM448 884H453V889H448Z"/>
<path fill="#19103f" d="M313 269H318V274H313ZM401 320H406V326H401ZM401 331H406V336H401ZM370 341H380V346H370ZM561 341H566V346H561ZM401 315H406V320H401ZM432 315H437V320H432ZM468 315H473V320H468ZM401 326H406V331H401ZM365 346H375V351H365ZM324 424H329V429H324ZM608 424H613V429H608ZM339 429H344V434H339ZM608 429H613V434H608ZM608 434H613V439H608ZM355 439H360V444H355ZM608 439H613V444H608ZM370 470H375V475H370ZM370 475H375V481H370ZM375 491H380V496H375ZM375 506H380V512H375ZM375 517H380V522H375ZM375 527H380V532H375ZM375 532H380V537H375ZM380 548H386V553H380ZM396 584H401V589H396ZM603 615H608V620H603ZM634 620H639V625H634ZM649 620H654V625H649ZM401 636H406V641H401ZM401 656H406V661H401ZM396 672H401V677H396ZM613 672H618V677H613ZM396 677H401V682H396ZM396 682H401V687H396ZM572 692H577V698H572ZM572 698H577V703H572ZM391 718H396V723H391ZM391 723H396V729H391ZM561 723H566V729H561ZM391 739H396V744H391ZM520 739H525V744H520ZM386 744H391V749H386ZM380 749H386V754H380ZM510 749H515V754H510ZM365 816H370V822H365ZM375 842H380V847H375ZM453 847H458V853H453ZM391 889H396V894H391ZM401 889H406V894H401Z"/>
<path fill="#090720" d="M603 413H608V419H603ZM603 424H608V429H603ZM370 465H375V470H370ZM370 481H375V486H370ZM380 558H386V563H380ZM396 594H401V599H396ZM639 620H644V625H639ZM401 641H406V646H401ZM401 667H406V672H401ZM597 677H603V682H597ZM391 682H396V687H391ZM391 687H396V692H391ZM391 713H396V718H391ZM391 729H396V734H391ZM556 734H561V739H556ZM530 739H535V744H530ZM551 739H556V744H551ZM360 749H365V754H360ZM380 806H386V811H380ZM375 847H380V853H375ZM453 863H458V868H453ZM458 868H463V873H458Z"/>
<path fill="#000004" d="M468 305H473V310H468ZM473 310H479V315H473ZM453 315H458V320H453ZM355 357H360V362H355ZM339 388H344V393H339ZM313 424H324V429H313ZM313 429H339V434H313ZM344 434H349V439H344ZM355 444H360V450H355ZM360 450H365V455H360ZM365 460H370V465H365ZM365 470H370V475H365ZM365 475H370V481H365ZM365 481H370V486H365ZM370 486H375V491H370ZM370 491H375V496H370ZM370 496H380V501H370ZM370 501H380V506H370ZM370 506H375V512H370ZM370 512H375V517H370ZM370 517H375V522H370ZM370 527H375V532H370ZM370 532H375V537H370ZM375 543H380V548H375ZM375 548H380V553H375ZM375 553H380V558H375ZM603 579H608V584H603ZM391 594H396V599H391ZM396 610H401V615H396ZM396 615H401V620H396ZM396 620H401V625H396ZM396 625H401V630H396ZM396 630H401V636H396ZM396 636H401V641H396ZM396 641H401V646H396ZM396 646H401V651H396ZM396 651H401V656H396ZM396 656H401V661H396ZM396 661H406V667H396ZM634 661H639V667H634ZM396 667H401V672H396ZM391 672H396V677H391ZM386 677H396V682H386ZM566 677H572V682H566ZM386 682H391V687H386ZM597 682H603V687H597ZM386 687H391V692H386ZM587 687H592V692H587ZM603 687H608V692H603ZM386 692H396V698H386ZM577 692H582V698H577ZM391 698H396V703H391ZM577 698H582V703H577ZM391 703H396V708H391ZM572 703H577V708H572ZM391 708H396V713H391ZM566 708H577V713H566ZM386 713H391V718H386ZM566 713H572V718H566ZM386 718H391V723H386ZM566 718H572V723H566ZM386 723H391V729H386ZM386 729H391V734H386ZM561 729H566V734H561ZM391 734H396V739H391ZM386 739H391V744H386ZM515 744H520V749H515ZM530 744H535V749H530ZM551 744H561V749H551ZM541 749H546V754H541ZM349 754H355V760H349ZM375 754H380V760H375ZM375 760H380V765H375ZM375 765H380V770H375ZM375 770H380V775H375ZM494 770H504V775H494ZM375 780H380V785H375ZM479 785H494V791H479ZM479 791H494V796H479ZM380 796H386V801H380ZM484 796H489V801H484ZM380 801H386V806H380ZM484 801H494V806H484ZM375 806H380V811H375ZM473 806H494V811H473ZM375 811H380V816H375ZM473 811H494V816H473ZM370 816H380V822H370ZM484 816H494V822H484ZM375 822H380V827H375ZM375 827H380V832H375ZM473 827H479V832H473ZM370 842H375V847H370ZM365 847H375V853H365ZM375 853H380V858H375ZM375 858H380V863H375ZM453 858H463V863H453ZM380 863H386V868H380ZM386 868H391V873H386ZM463 868H468V873H463ZM386 873H391V878H386ZM458 873H468V878H458ZM453 878H468V884H453ZM453 884H468V889H453ZM406 889H417V894H406ZM427 889H432V894H427ZM448 889H463V894H448ZM391 894H411V899H391ZM448 894H453V899H448ZM458 894H463V899H458ZM442 899H453V904H442ZM458 899H463V904H458ZM442 904H458V909H442ZM442 909H458V915H442ZM442 915H458V920H442ZM437 920H448V925H437ZM437 925H448V930H437Z"/></g>
<use xlink:href="#grat" href="#grat" x="301" y="240"/>
<use xlink:href="#coast" href="#coast" x="301" y="240"/>
<rect x="301" y="240" width="375" height="700" fill="none" stroke="#000" stroke-width="2.2"/>
</g>
<g id="panel-b">
<clipPath id="clip-b"><rect x="782" y="240" width="375" height="700"/></clipPath>
<g clip-path="url(#clip-b)" shape-rendering="crispEdges"><path fill="#fcfdbf" d="M1006 269H1016V274H1006ZM892 320H913V326H892ZM939 320H1022V326H939ZM784 331H789V336H784ZM892 331H1032V336H892ZM877 341H882V346H877ZM892 341H1037V346H892ZM975 279H980V284H975ZM985 279H991V284H985ZM960 284H965V289H960ZM980 284H991V289H980ZM1078 284H1094V289H1078ZM965 289H970V295H965ZM980 289H985V295H980ZM1084 289H1099V295H1084ZM1078 295H1089V300H1078ZM965 300H985V305H965ZM1022 300H1027V305H1022ZM1073 300H1094V305H1073ZM965 305H991V310H965ZM1068 305H1084V310H1068ZM877 310H882V315H877ZM887 310H898V315H887ZM960 310H991V315H960ZM1073 310H1084V315H1073ZM887 315H908V320H887ZM960 315H1001V320H960ZM1073 315H1078V320H1073ZM892 326H929V331H892ZM939 326H1032V331H939ZM1084 326H1089V331H1084ZM892 336H1037V341H892ZM872 346H1042V351H872ZM867 351H1053V357H867ZM861 357H1058V362H861ZM794 362H805V367H794ZM851 362H1058V367H851ZM799 367H810V372H799ZM841 367H1063V372H841ZM805 372H1068V377H805ZM810 377H1073V382H810ZM815 382H1073V388H815ZM825 388H1073V393H825ZM830 393H1073V398H830ZM830 398H1073V403H830ZM794 403H805V408H794ZM830 403H1073V408H830ZM820 408H1073V413H820ZM805 413H1073V419H805ZM794 419H1073V424H794ZM985 274H991V279H985ZM815 424H1073V429H815ZM830 429H1073V434H830ZM836 434H1073V439H836ZM841 439H1073V444H841ZM846 444H1078V450H846ZM851 450H1073V455H851ZM1094 450H1099V455H1094ZM851 455H1084V460H851ZM1089 455H1094V460H1089ZM856 460H1094V465H856ZM856 465H1099V470H856ZM856 470H1099V475H856ZM856 475H1104V481H856ZM861 481H1104V486H861ZM861 486H1104V491H861ZM861 491H1109V496H861ZM861 496H1099V501H861ZM861 501H1094V506H861ZM861 506H1084V512H861ZM861 512H1084V517H861ZM861 517H1078V522H861ZM861 522H1084V527H861ZM867 527H1073V532H867ZM1089 527H1094V532H1089ZM867 532H1078V537H867ZM867 537H1068V543H867ZM867 543H1073V548H867ZM867 548H1078V553H867ZM1084 548H1089V553H1084ZM867 553H1078V558H867ZM867 558H1078V563H867ZM867 563H1094V568H867ZM861 568H1089V574H861ZM1094 568H1099V574H1094ZM872 574H1073V579H872ZM1078 574H1089V579H1078ZM872 579H1073V584H872ZM1094 579H1109V584H1094ZM882 584H1068V589H882ZM872 589H1068V594H872ZM1073 589H1078V594H1073ZM882 594H1084V599H882ZM1094 594H1104V599H1094ZM882 599H1078V605H882ZM1099 599H1104V605H1099ZM882 605H1084V610H882ZM882 610H1084V615H882ZM1099 610H1104V615H1099ZM882 615H1084V620H882ZM887 620H1078V625H887ZM887 625H1084V630H887ZM1115 625H1135V630H1115ZM887 630H1084V636H887ZM1104 630H1130V636H1104ZM892 636H1094V641H892ZM1104 636H1120V641H1104ZM892 641H1115V646H892ZM892 646H1115V651H892ZM887 651H1115V656H887ZM892 656H1115V661H892ZM892 661H1104V667H892ZM892 667H1073V672H892ZM1078 667H1099V672H1078ZM892 672H1047V677H892ZM1053 672H1073V677H1053ZM1078 672H1094V677H1078ZM892 677H1042V682H892ZM1058 677H1068V682H1058ZM892 682H1047V687H892ZM887 687H1047V692H887ZM882 692H1047V698H882ZM887 698H1047V703H887ZM887 703H1042V708H887ZM882 708H1037V713H882ZM882 713H1042V718H882ZM882 718H1037V723H882ZM1047 718H1053V723H1047ZM882 723H1037V729H882ZM882 729H1037V734H882ZM882 734H1027V739H882ZM882 739H1001V744H882ZM1006 739H1011V744H1006ZM882 744H991V749H882ZM872 749H991V754H872ZM872 754H991V760H872ZM872 760H991V765H872ZM872 765H975V770H872ZM867 770H970V775H867ZM867 775H965V780H867ZM867 780H960V785H867ZM872 785H960V791H872ZM867 791H960V796H867ZM867 796H960V801H867ZM867 801H954V806H867ZM867 806H954V811H867ZM867 811H949V816H867ZM970 811H975V816H970ZM867 816H949V822H867ZM867 822H949V827H867ZM861 827H949V832H861ZM861 832H944V837H861ZM867 837H939V842H867ZM867 842H934V847H867ZM867 847H934V853H867ZM872 853H929V858H872ZM872 858H929V863H872ZM877 863H934V868H877ZM877 868H934V873H877ZM887 873H934V878H887ZM892 878H929V884H892ZM908 884H929V889H908ZM944 884H949V889H944ZM918 889H929V894H918ZM913 894H923V899H913ZM918 899H923V904H918ZM913 904H923V909H913ZM918 925H923V930H918Z"/>
<path fill="#fde3a5" d="M1078 289H1084V295H1078ZM1084 305H1089V310H1084ZM867 346H872V351H867ZM861 351H867V357H861ZM856 357H861V362H856ZM846 362H851V367H846ZM810 367H815V372H810ZM1063 367H1068V372H1063ZM1068 372H1073V377H1068ZM810 382H815V388H810ZM825 403H830V408H825ZM1094 460H1099V465H1094ZM856 481H861V486H856ZM1078 517H1084V522H1078ZM861 527H867V532H861ZM861 532H867V537H861ZM861 537H867V543H861ZM1068 537H1073V543H1068ZM1068 589H1073V594H1068ZM1104 605H1109V610H1104ZM887 636H892V641H887ZM887 646H892V651H887ZM1115 646H1120V651H1115ZM887 682H892V687H887ZM1047 692H1053V698H1047ZM882 698H887V703H882ZM882 703H887V708H882ZM836 739H841V744H836ZM877 744H882V749H877ZM867 754H872V760H867ZM867 765H872V770H867ZM867 785H872V791H867ZM949 811H954V816H949ZM949 816H954V822H949ZM934 842H939V847H934ZM867 853H872V858H867ZM867 858H872V863H867ZM929 858H934V863H929ZM877 873H887V878H877ZM877 878H892V884H877ZM913 899H918V904H913ZM918 909H923V915H918Z"/>
<path fill="#feca8d" d="M1053 351H1058V357H1053ZM841 362H846V367H841ZM846 450H851V455H846ZM1099 636H1104V641H1099ZM887 641H892V646H887ZM1068 677H1073V682H1068ZM882 687H887V692H882ZM1037 708H1042V713H1037ZM1037 718H1042V723H1037ZM1037 723H1042V729H1037ZM1022 739H1027V744H1022ZM872 744H877V749H872ZM867 760H872V765H867ZM965 775H970V780H965ZM954 801H960V806H954ZM861 837H867V842H861ZM939 837H944V842H939ZM872 863H877V868H872Z"/>
<path fill="#feb078" d="M1037 341H1042V346H1037ZM1084 341H1089V346H1084ZM1042 346H1047V351H1042ZM1058 362H1063V367H1058ZM815 367H820V372H815ZM810 424H815V429H810ZM1115 651H1120V656H1115ZM887 677H892V682H887ZM1027 739H1032V744H1027ZM861 842H867V847H861Z"/>
<path fill="#fd9668" d="M960 289H965V295H960ZM887 336H892V341H887ZM820 367H825V372H820ZM836 367H841V372H836ZM805 377H810V382H805ZM825 429H830V434H825ZM1089 450H1094V455H1089ZM856 486H861V491H856ZM867 574H872V579H867ZM877 599H882V605H877ZM877 605H882V610H877ZM882 620H887V625H882ZM887 656H892V661H887ZM887 672H892V677H887ZM1047 687H1053V692H1047ZM1047 698H1053V703H1047ZM1042 703H1047V708H1042ZM1032 734H1037V739H1032ZM877 739H882V744H877ZM867 749H872V754H867ZM991 754H996V760H991ZM975 765H980V770H975ZM970 770H975V775H970ZM861 847H867V853H861ZM872 868H877V873H872ZM934 868H939V873H934ZM929 878H934V884H929ZM877 884H887V889H877ZM913 889H918V894H913Z"/>
<path fill="#f97b5d" d="M887 320H892V326H887ZM1022 320H1027V326H1022ZM779 341H789V346H779ZM882 341H892V346H882ZM960 279H965V284H960ZM975 284H980V289H975ZM1073 289H1078V295H1073ZM970 295H975V300H970ZM1089 295H1094V300H1089ZM960 305H965V310H960ZM929 326H939V331H929ZM846 357H856V362H846ZM836 362H841V367H836ZM825 367H836V372H825ZM1073 382H1078V388H1073ZM789 424H794V429H789ZM851 460H856V465H851ZM1109 496H1115V501H1109ZM856 512H861V517H856ZM1078 558H1084V563H1078ZM1089 568H1094V574H1089ZM872 584H877V589H872ZM887 667H892V672H887ZM882 672H887V677H882ZM882 677H887V682H882ZM882 682H887V687H882ZM877 698H882V703H877ZM877 703H882V708H877ZM877 708H882V713H877ZM877 713H882V718H877ZM877 718H882V723H877ZM877 723H882V729H877ZM877 729H882V734H877ZM877 734H882V739H877ZM970 775H975V780H970ZM960 780H965V785H960ZM861 816H867V822H861ZM954 816H960V822H954ZM861 822H867V827H861ZM856 837H861V842H856ZM892 884H898V889H892Z"/>
<path fill="#f1605d" d="M861 346H867V351H861ZM856 351H861V357H856ZM794 367H799V372H794ZM799 372H805V377H799ZM1073 372H1078V377H1073ZM1073 377H1078V382H1073ZM789 393H794V398H789ZM830 434H836V439H830ZM836 439H841V444H836ZM841 444H846V450H841ZM846 455H851V460H846ZM1094 455H1099V460H1094ZM856 522H861V527H856ZM861 543H867V548H861ZM1104 610H1109V615H1104ZM1125 620H1130V625H1125ZM882 625H887V630H882ZM882 630H887V636H882ZM846 636H851V641H846ZM1094 636H1099V641H1094ZM882 646H887V651H882ZM882 651H887V656H882ZM1115 656H1120V661H1115ZM887 661H892V667H887ZM1073 672H1078V677H1073ZM1042 677H1047V682H1042ZM1073 677H1078V682H1073ZM1063 682H1068V687H1063ZM877 687H882V692H877ZM877 692H882V698H877ZM1037 729H1042V734H1037ZM1027 734H1032V739H1027ZM841 739H846V744H841ZM836 744H851V749H836ZM991 744H996V749H991ZM846 749H851V754H846ZM1016 749H1022V754H1016ZM861 754H867V760H861ZM861 760H867V765H861ZM991 760H996V765H991ZM861 765H867V770H861ZM980 765H985V770H980ZM861 770H867V775H861ZM861 775H867V780H861ZM861 780H867V785H861ZM960 796H965V801H960ZM960 801H965V806H960ZM949 822H954V827H949ZM949 827H954V832H949ZM856 832H861V837H856ZM944 832H949V837H944ZM934 847H939V853H934ZM861 853H867V858H861ZM929 853H934V858H929ZM867 863H872V868H867ZM872 873H877V878H872ZM934 873H939V878H934ZM872 878H877V884H872ZM872 884H877V889H872ZM887 884H892V889H887ZM898 884H903V889H898ZM923 894H929V899H923Z"/>
<path fill="#cd4071" d="M991 310H996V315H991ZM1011 315H1016V320H1011ZM1058 326H1063V331H1058ZM1068 367H1073V372H1068ZM825 393H830V398H825ZM794 398H799V403H794ZM810 429H820V434H810ZM1089 444H1094V450H1089ZM1104 450H1109V455H1104ZM851 470H856V475H851ZM856 491H861V496H856ZM856 532H861V537H856ZM856 537H861V543H856ZM861 548H867V553H861ZM1115 620H1125V625H1115ZM1130 630H1135V636H1130ZM882 656H887V661H882ZM1047 672H1053V677H1047ZM1068 682H1073V687H1068ZM872 718H877V723H872ZM830 739H836V744H830ZM851 749H856V754H851ZM861 785H867V791H861ZM861 806H867V811H861ZM861 811H867V816H861ZM960 816H965V822H960ZM856 842H861V847H856ZM861 858H867V863H861ZM903 884H908V889H903Z"/>
<path fill="#b73779" d="M913 320H923V326H913ZM898 310H903V315H898ZM954 315H960V320H954Z"/>
<path fill="#a02f7f" d="M934 320H939V326H934ZM1032 331H1037V336H1032ZM991 284H996V289H991ZM985 300H991V305H985ZM1011 310H1016V315H1011ZM856 346H861V351H856ZM1047 346H1053V351H1047ZM851 351H856V357H851ZM841 357H846V362H841ZM1078 388H1084V393H1078ZM1073 403H1078V408H1073ZM1073 408H1084V413H1073ZM1073 413H1078V419H1073ZM789 419H794V424H789ZM975 274H980V279H975ZM794 424H810V429H794ZM794 429H805V434H794ZM820 429H825V434H820ZM825 434H830V439H825ZM1084 450H1089V455H1084ZM851 475H856V481H851ZM851 481H856V486H851ZM1104 486H1109V491H1104ZM856 506H861V512H856ZM1084 512H1089V517H1084ZM856 517H861V522H856ZM856 527H861V532H856ZM861 563H867V568H861ZM877 594H882V599H877ZM1130 620H1135V625H1130ZM882 636H887V641H882ZM1120 646H1125V651H1120ZM877 651H882V656H877ZM1104 661H1109V667H1104ZM1094 672H1099V677H1094ZM877 677H882V682H877ZM1053 677H1058V682H1053ZM872 682H882V687H872ZM1073 682H1078V687H1073ZM872 687H877V692H872ZM1068 687H1073V692H1068ZM872 692H877V698H872ZM1053 692H1058V698H1053ZM1053 698H1058V703H1053ZM1047 703H1053V708H1047ZM1042 708H1047V713H1042ZM872 713H877V718H872ZM1042 713H1047V718H1042ZM1042 718H1047V723H1042ZM872 723H877V729H872ZM1042 723H1047V729H1042ZM1037 734H1042V739H1037ZM1001 739H1006V744H1001ZM1032 739H1037V744H1032ZM867 744H872V749H867ZM996 744H1001V749H996ZM836 749H841V754H836ZM861 749H867V754H861ZM991 749H996V754H991ZM1022 749H1027V754H1022ZM830 754H836V760H830ZM856 754H861V760H856ZM996 754H1001V760H996ZM856 760H861V765H856ZM856 765H861V770H856ZM985 765H996V770H985ZM856 770H861V775H856ZM975 770H980V775H975ZM965 780H975V785H965ZM861 791H867V796H861ZM861 796H867V801H861ZM861 801H867V806H861ZM856 811H861V816H856ZM846 816H851V822H846ZM856 816H861V822H856ZM856 822H861V827H856ZM960 822H970V827H960ZM954 827H960V832H954ZM851 842H856V847H851ZM856 847H861V853H856ZM856 853H861V858H856ZM934 858H939V863H934ZM861 863H867V868H861ZM934 863H939V868H934ZM867 868H872V873H867ZM939 868H944V873H939ZM934 878H939V884H934ZM929 884H934V889H929ZM872 889H887V894H872ZM908 889H913V894H908ZM929 889H934V894H929ZM913 909H918V915H913Z"/>
<path fill="#721f81" d="M887 331H892V336H887ZM872 341H877V346H872ZM965 295H970V300H965ZM960 300H965V305H960ZM887 305H892V310H887ZM867 310H872V315H867ZM908 315H913V320H908ZM1001 315H1011V320H1001ZM1016 315H1022V320H1016ZM887 326H892V331H887ZM846 351H851V357H846ZM830 362H836V367H830ZM799 382H805V388H799ZM1073 393H1084V398H1073ZM825 398H830V403H825ZM1078 403H1084V408H1078ZM815 408H820V413H815ZM1078 413H1084V419H1078ZM1073 419H1078V424H1073ZM1084 419H1089V424H1084ZM1073 424H1078V429H1073ZM861 553H867V558H861ZM1094 599H1099V605H1094ZM882 641H887V646H882ZM872 677H877V682H872ZM1058 692H1063V698H1058ZM1058 698H1063V703H1058ZM1053 703H1058V708H1053ZM1047 708H1053V713H1047ZM872 729H877V734H872ZM872 739H877V744H872ZM841 749H846V754H841ZM856 780H861V785H856ZM960 785H965V791H960ZM965 796H970V801H965ZM965 801H975V806H965ZM960 806H965V811H960ZM954 811H960V816H954ZM965 811H970V816H965ZM851 816H856V822H851ZM965 816H975V822H965ZM856 858H861V863H856ZM939 873H944V878H939ZM939 878H944V884H939ZM934 884H939V889H934ZM887 889H892V894H887ZM929 894H934V899H929ZM923 899H934V904H923ZM923 904H939V909H923ZM923 909H929V915H923ZM918 920H929V925H918ZM923 925H929V930H923Z"/>
<path fill="#5c167f" d="M929 320H934V326H929ZM1084 320H1089V326H1084ZM1084 331H1089V336H1084ZM861 341H872V346H861ZM882 336H887V341H882ZM1084 336H1089V341H1084ZM851 346H856V351H851ZM1078 357H1084V362H1078ZM1084 367H1089V372H1084ZM1078 372H1089V377H1078ZM820 388H825V393H820ZM805 403H810V408H805ZM820 403H825V408H820ZM805 408H815V413H805ZM1078 419H1084V424H1078ZM1078 429H1084V434H1078ZM836 444H841V450H836ZM856 496H861V501H856ZM1094 501H1099V506H1094ZM1084 517H1089V522H1084ZM1089 579H1094V584H1089ZM877 584H882V589H877ZM872 594H877V599H872ZM1084 610H1089V615H1084ZM1084 615H1089V620H1084ZM1073 667H1078V672H1073ZM1078 677H1084V682H1078ZM1053 708H1058V713H1053ZM1047 713H1053V718H1047ZM1042 729H1047V734H1042ZM1011 739H1016V744H1011ZM960 791H965V796H960ZM954 806H960V811H954ZM965 806H975V811H965ZM944 878H949V884H944ZM939 884H944V889H939ZM892 889H898V894H892ZM934 889H939V894H934ZM877 894H887V899H877ZM929 909H934V915H929Z"/>
<path fill="#451077" d="M996 310H1001V315H996ZM1078 326H1084V331H1078ZM1058 357H1063V362H1058ZM1063 362H1068V367H1063ZM1099 501H1104V506H1099ZM882 667H887V672H882ZM877 672H882V677H877ZM872 703H877V708H872Z"/>
<path fill="#2d1161" d="M856 341H861V346H856ZM1006 310H1011V315H1006ZM877 315H882V320H877ZM1037 336H1042V341H1037ZM1073 367H1078V372H1073ZM794 393H799V398H794ZM1084 413H1089V419H1084ZM805 429H810V434H805ZM830 439H836V444H830ZM841 450H846V455H841ZM851 465H856V470H851ZM851 486H856V491H851ZM872 698H877V703H872ZM872 708H877V713H872ZM960 811H965V816H960ZM856 827H861V832H856ZM851 847H856V853H851ZM944 868H949V873H944ZM872 894H877V899H872Z"/>
<path fill="#19103f" d="M794 269H799V274H794ZM799 320H805V326H799ZM923 320H929V326H923ZM1042 341H1047V346H1042ZM882 310H887V315H882ZM949 315H954V320H949ZM1022 315H1027V320H1022ZM1053 346H1058V351H1053ZM805 362H810V367H805ZM1068 362H1073V367H1068ZM1078 398H1084V403H1078ZM846 470H851V475H846ZM856 501H861V506H856ZM1089 512H1094V517H1089ZM861 558H867V563H861ZM877 610H882V615H877ZM877 656H882V661H877ZM882 661H887V667H882ZM1115 661H1120V667H1115ZM1047 677H1053V682H1047ZM872 734H877V739H872ZM1011 744H1016V749H1011ZM1032 744H1037V749H1032ZM939 858H944V863H939ZM944 873H949V878H944Z"/>
<path fill="#000004" d="M882 320H887V326H882ZM882 331H887V336H882ZM851 341H856V346H851ZM949 305H954V310H949ZM954 310H960V315H954ZM882 315H887V320H882ZM913 315H918V320H913ZM934 315H939V320H934ZM882 326H887V331H882ZM856 336H861V341H856ZM846 346H851V351H846ZM841 351H846V357H841ZM1073 351H1078V357H1073ZM836 357H841V362H836ZM1068 357H1078V362H1068ZM1078 377H1084V382H1078ZM1084 424H1094V429H1084ZM1089 429H1094V434H1089ZM1089 434H1094V439H1089ZM1089 439H1094V444H1089ZM846 460H851V465H846ZM846 475H851V481H846ZM846 481H851V486H846ZM851 491H856V496H851ZM851 496H856V501H851ZM851 501H856V506H851ZM851 506H856V512H851ZM851 512H856V517H851ZM851 517H856V522H851ZM851 527H856V532H851ZM851 532H856V537H851ZM856 543H861V548H856ZM856 548H861V553H856ZM856 553H861V558H856ZM1084 579H1089V584H1084ZM877 615H882V620H877ZM877 620H882V625H877ZM877 625H882V630H877ZM877 630H882V636H877ZM877 636H882V641H877ZM877 641H882V646H877ZM877 646H882V651H877ZM877 661H882V667H877ZM877 667H882V672H877ZM872 672H877V677H872ZM867 677H872V682H867ZM867 682H872V687H867ZM1078 682H1084V687H1078ZM867 687H872V692H867ZM1084 687H1089V692H1084ZM867 692H872V698H867ZM867 713H872V718H867ZM867 718H872V723H867ZM867 723H872V729H867ZM867 729H872V734H867ZM867 739H872V744H867ZM1037 744H1042V749H1037ZM980 770H985V775H980ZM965 785H975V791H965ZM965 791H975V796H965ZM856 806H861V811H856ZM846 847H851V853H846ZM867 873H872V878H867ZM939 889H944V894H939ZM887 894H892V899H887ZM939 894H944V899H939ZM939 899H944V904H939ZM934 909H939V915H934ZM923 915H939V920H923Z"/></g>
<use xlink:href="#grat" href="#grat" x="782" y="240"/>
<use xlink:href="#coast" href="#coast" x="782" y="240"/>
<rect x="782" y="240" width="375" height="700" fill="none" stroke="#000" stroke-width="2.2"/>
</g>
<g id="panel-c">
<clipPath id="clip-c"><rect x="1263" y="240" width="375" height="700"/></clipPath>
<g clip-path="url(#clip-c)" shape-rendering="crispEdges"><path fill="#fcfdbf" d="M1487 269H1497V274H1487ZM1373 320H1389V326H1373ZM1425 320H1482V326H1425ZM1487 320H1492V326H1487ZM1373 331H1513V336H1373ZM1379 341H1518V346H1379ZM1565 341H1570V346H1565ZM1466 279H1472V284H1466ZM1441 284H1446V289H1441ZM1461 284H1472V289H1461ZM1565 284H1570V289H1565ZM1446 289H1451V295H1446ZM1461 289H1466V295H1461ZM1565 289H1575V295H1565ZM1559 295H1570V300H1559ZM1559 300H1565V305H1559ZM1446 305H1466V310H1446ZM1554 305H1565V310H1554ZM1368 310H1379V315H1368ZM1441 310H1466V315H1441ZM1554 310H1565V315H1554ZM1368 315H1384V320H1368ZM1441 315H1472V320H1441ZM1554 315H1559V320H1554ZM1373 326H1404V331H1373ZM1420 326H1508V331H1420ZM1565 326H1570V331H1565ZM1373 336H1513V341H1373ZM1358 346H1363V351H1358ZM1373 346H1523V351H1373ZM1353 351H1523V357H1353ZM1348 357H1523V362H1348ZM1280 362H1286V367H1280ZM1348 362H1518V367H1348ZM1280 367H1291V372H1280ZM1337 367H1518V372H1337ZM1286 372H1317V377H1286ZM1322 372H1523V377H1322ZM1291 377H1549V382H1291ZM1296 382H1549V388H1296ZM1306 388H1554V393H1306ZM1311 393H1549V398H1311ZM1311 398H1549V403H1311ZM1280 403H1286V408H1280ZM1311 403H1549V408H1311ZM1306 408H1554V413H1306ZM1286 413H1554V419H1286ZM1275 419H1280V424H1275ZM1286 419H1554V424H1286ZM1466 274H1472V279H1466ZM1296 424H1554V429H1296ZM1311 429H1554V434H1311ZM1317 434H1554V439H1317ZM1322 439H1554V444H1322ZM1327 444H1554V450H1327ZM1332 450H1554V455H1332ZM1575 450H1580V455H1575ZM1332 455H1559V460H1332ZM1570 455H1575V460H1570ZM1337 460H1575V465H1337ZM1342 465H1575V470H1342ZM1342 470H1580V475H1342ZM1337 475H1585V481H1337ZM1342 481H1585V486H1342ZM1342 486H1585V491H1342ZM1348 491H1585V496H1348ZM1348 496H1575V501H1348ZM1348 501H1575V506H1348ZM1348 506H1565V512H1348ZM1348 512H1565V517H1348ZM1342 517H1559V522H1342ZM1342 522H1565V527H1342ZM1348 527H1554V532H1348ZM1570 527H1575V532H1570ZM1348 532H1559V537H1348ZM1348 537H1549V543H1348ZM1353 543H1554V548H1353ZM1353 548H1554V553H1353ZM1565 548H1570V553H1565ZM1353 553H1559V558H1353ZM1353 558H1559V563H1353ZM1348 563H1565V568H1348ZM1342 568H1570V574H1342ZM1575 568H1580V574H1575ZM1353 574H1554V579H1353ZM1559 574H1570V579H1559ZM1353 579H1554V584H1353ZM1580 579H1590V584H1580ZM1368 584H1549V589H1368ZM1358 589H1363V594H1358ZM1368 589H1549V594H1368ZM1554 589H1559V594H1554ZM1363 594H1554V599H1363ZM1575 594H1585V599H1575ZM1363 599H1554V605H1363ZM1363 605H1565V610H1363ZM1363 610H1565V615H1363ZM1580 610H1585V615H1580ZM1368 615H1559V620H1368ZM1368 620H1559V625H1368ZM1373 625H1565V630H1373ZM1596 625H1616V630H1596ZM1373 630H1565V636H1373ZM1585 630H1611V636H1585ZM1373 636H1575V641H1373ZM1585 636H1601V641H1585ZM1373 641H1596V646H1373ZM1373 646H1601V651H1373ZM1373 651H1596V656H1373ZM1373 656H1554V661H1373ZM1559 656H1596V661H1559ZM1379 661H1554V667H1379ZM1565 661H1585V667H1565ZM1379 667H1528V672H1379ZM1534 667H1554V672H1534ZM1559 667H1580V672H1559ZM1379 672H1528V677H1379ZM1534 672H1554V677H1534ZM1559 672H1575V677H1559ZM1379 677H1523V682H1379ZM1539 677H1549V682H1539ZM1379 682H1528V687H1379ZM1373 687H1528V692H1373ZM1373 692H1534V698H1373ZM1373 698H1528V703H1373ZM1373 703H1523V708H1373ZM1373 708H1523V713H1373ZM1368 713H1523V718H1368ZM1373 718H1523V723H1373ZM1528 718H1534V723H1528ZM1373 723H1523V729H1373ZM1373 729H1518V734H1373ZM1368 734H1482V739H1368ZM1487 734H1508V739H1487ZM1368 739H1477V744H1368ZM1487 739H1492V744H1487ZM1368 744H1472V749H1368ZM1363 749H1472V754H1363ZM1363 754H1472V760H1363ZM1363 760H1472V765H1363ZM1363 765H1456V770H1363ZM1358 770H1451V775H1358ZM1358 775H1451V780H1358ZM1348 780H1441V785H1348ZM1353 785H1441V791H1353ZM1353 791H1441V796H1353ZM1353 796H1441V801H1353ZM1353 801H1435V806H1353ZM1353 806H1435V811H1353ZM1353 811H1435V816H1353ZM1451 811H1456V816H1451ZM1353 816H1435V822H1353ZM1353 822H1430V827H1353ZM1348 827H1430V832H1348ZM1348 832H1425V837H1348ZM1353 837H1420V842H1353ZM1348 842H1420V847H1348ZM1348 847H1415V853H1348ZM1353 853H1410V858H1353ZM1358 858H1415V863H1358ZM1363 863H1415V868H1363ZM1368 868H1415V873H1368ZM1363 873H1415V878H1363ZM1373 878H1410V884H1373ZM1389 884H1410V889H1389ZM1425 884H1430V889H1425ZM1399 889H1410V894H1399ZM1394 894H1404V899H1394ZM1399 899H1404V904H1399ZM1394 904H1404V909H1394ZM1399 909H1404V915H1399ZM1399 925H1404V930H1399Z"/>
<path fill="#fde3a5" d="M1389 320H1394V326H1389ZM1420 320H1425V326H1420ZM1482 320H1487V326H1482ZM1373 341H1379V346H1373ZM1570 284H1575V289H1570ZM1565 300H1570V305H1565ZM1549 305H1554V310H1549ZM1466 310H1472V315H1466ZM1472 315H1477V320H1472ZM1404 326H1410V331H1404ZM1528 357H1534V362H1528ZM1342 362H1348V367H1342ZM1518 362H1523V367H1518ZM1317 372H1322V377H1317ZM1523 372H1528V377H1523ZM1280 419H1286V424H1280ZM1337 465H1342V470H1337ZM1575 465H1580V470H1575ZM1342 491H1348V496H1342ZM1575 496H1580V501H1575ZM1554 548H1559V553H1554ZM1353 589H1358V594H1353ZM1363 615H1368V620H1363ZM1559 615H1565V620H1559ZM1368 630H1373V636H1368ZM1580 636H1585V641H1580ZM1596 651H1601V656H1596ZM1373 682H1379V687H1373ZM1368 703H1373V708H1368ZM1368 708H1373V713H1368ZM1368 718H1373V723H1368ZM1368 723H1373V729H1368ZM1368 729H1373V734H1368ZM1482 734H1487V739H1482ZM1317 739H1322V744H1317ZM1477 739H1482V744H1477ZM1363 744H1368V749H1363ZM1358 765H1363V770H1358ZM1353 770H1358V775H1353ZM1451 770H1456V775H1451ZM1353 775H1358V780H1353ZM1435 801H1441V806H1435ZM1348 816H1353V822H1348ZM1342 832H1348V837H1342ZM1348 837H1353V842H1348ZM1353 858H1358V863H1353ZM1358 863H1363V868H1358ZM1358 868H1368V873H1358ZM1358 873H1363V878H1358ZM1358 878H1373V884H1358ZM1394 899H1399V904H1394Z"/>
<path fill="#feca8d" d="M1492 320H1497V326H1492ZM1528 351H1534V357H1528ZM1518 367H1523V372H1518ZM1554 444H1559V450H1554ZM1337 470H1342V475H1337ZM1348 543H1353V548H1348ZM1565 563H1575V568H1565ZM1363 589H1368V594H1363ZM1559 594H1565V599H1559ZM1368 625H1373V630H1368ZM1368 651H1373V656H1368ZM1559 661H1565V667H1559ZM1549 677H1554V682H1549ZM1528 687H1534V692H1528ZM1368 698H1373V703H1368ZM1528 698H1534V703H1528ZM1523 703H1528V708H1523ZM1363 723H1368V729H1363ZM1363 739H1368V744H1363ZM1358 754H1363V760H1358ZM1358 760H1363V765H1358ZM1353 765H1358V770H1353ZM1348 785H1353V791H1348ZM1348 791H1353V796H1348ZM1348 796H1353V801H1348ZM1348 822H1353V827H1348ZM1420 837H1425V842H1420ZM1415 868H1420V873H1415Z"/>
<path fill="#feb078" d="M1456 279H1461V284H1456ZM1554 300H1559V305H1554ZM1353 346H1358V351H1353ZM1363 346H1368V351H1363ZM1523 357H1528V362H1523ZM1534 357H1539V362H1534ZM1332 367H1337V372H1332ZM1544 372H1549V377H1544ZM1549 393H1554V398H1549ZM1549 398H1554V403H1549ZM1549 403H1554V408H1549ZM1528 667H1534V672H1528ZM1523 677H1528V682H1523ZM1518 729H1523V734H1518ZM1503 739H1513V744H1503ZM1456 765H1461V770H1456Z"/>
<path fill="#fd9668" d="M1337 362H1342V367H1337ZM1306 429H1311V434H1306ZM1337 481H1342V486H1337ZM1342 512H1348V517H1342ZM1342 532H1348V537H1342ZM1554 599H1559V605H1554ZM1373 661H1379V667H1373ZM1373 677H1379V682H1373ZM1368 692H1373V698H1368ZM1363 718H1368V723H1363ZM1363 729H1368V734H1363ZM1513 734H1518V739H1513ZM1472 754H1477V760H1472ZM1353 760H1358V765H1353ZM1348 775H1353V780H1348ZM1348 801H1353V806H1348ZM1348 806H1353V811H1348ZM1348 811H1353V816H1348ZM1342 827H1348V832H1342ZM1425 832H1430V837H1425ZM1348 853H1353V858H1348ZM1410 878H1415V884H1410ZM1358 884H1363V889H1358ZM1394 889H1399V894H1394Z"/>
<path fill="#f97b5d" d="M1451 300H1456V305H1451ZM1348 351H1353V357H1348ZM1342 357H1348V362H1342ZM1275 362H1280V367H1275ZM1332 362H1337V367H1332ZM1523 362H1539V367H1523ZM1317 367H1332V372H1317ZM1523 367H1528V372H1523ZM1291 382H1296V388H1291ZM1549 382H1554V388H1549ZM1270 424H1275V429H1270ZM1291 424H1296V429H1291ZM1327 450H1332V455H1327ZM1342 496H1348V501H1342ZM1342 527H1348V532H1342ZM1342 537H1348V543H1342ZM1348 558H1353V563H1348ZM1363 584H1368V589H1363ZM1358 605H1363V610H1358ZM1368 636H1373V641H1368ZM1575 636H1580V641H1575ZM1368 646H1373V651H1368ZM1554 656H1559V661H1554ZM1373 667H1379V672H1373ZM1373 672H1379V677H1373ZM1368 682H1373V687H1368ZM1368 687H1373V692H1368ZM1363 703H1368V708H1363ZM1363 708H1368V713H1363ZM1363 713H1368V718H1363ZM1363 734H1368V739H1363ZM1348 749H1363V754H1348ZM1348 754H1358V760H1348ZM1472 760H1477V765H1472ZM1348 765H1353V770H1348ZM1348 770H1353V775H1348ZM1342 780H1348V785H1342ZM1441 780H1446V785H1441ZM1441 796H1446V801H1441ZM1441 801H1446V806H1441ZM1435 816H1441V822H1435ZM1430 822H1435V827H1430ZM1342 837H1348V842H1342ZM1342 842H1348V847H1342ZM1342 847H1348V853H1342ZM1410 853H1415V858H1410ZM1348 858H1353V863H1348ZM1353 863H1358V868H1353ZM1415 873H1420V878H1415ZM1363 884H1379V889H1363Z"/>
<path fill="#f1605d" d="M1497 320H1503V326H1497ZM1368 341H1373V346H1368ZM1559 284H1565V289H1559ZM1559 289H1565V295H1559ZM1575 289H1580V295H1575ZM1446 300H1451V305H1446ZM1456 300H1466V305H1456ZM1503 300H1508V305H1503ZM1570 300H1575V305H1570ZM1477 315H1482V320H1477ZM1508 326H1513V331H1508ZM1513 336H1518V341H1513ZM1368 346H1373V351H1368ZM1342 351H1348V357H1342ZM1523 351H1528V357H1523ZM1337 357H1342V362H1337ZM1322 362H1332V367H1322ZM1301 367H1306V372H1301ZM1311 367H1317V372H1311ZM1528 367H1544V372H1528ZM1528 372H1544V377H1528ZM1549 372H1554V377H1549ZM1549 377H1554V382H1549ZM1275 403H1280V408H1275ZM1306 403H1311V408H1306ZM1301 408H1306V413H1301ZM1570 450H1575V455H1570ZM1585 491H1590V496H1585ZM1342 501H1348V506H1342ZM1342 506H1348V512H1342ZM1348 548H1353V553H1348ZM1348 553H1353V558H1348ZM1348 574H1353V579H1348ZM1554 594H1559V599H1554ZM1358 599H1363V605H1358ZM1580 599H1585V605H1580ZM1363 620H1368V625H1363ZM1606 620H1611V625H1606ZM1368 641H1373V646H1368ZM1363 651H1368V656H1363ZM1368 656H1373V661H1368ZM1596 656H1601V661H1596ZM1544 682H1549V687H1544ZM1363 687H1368V692H1363ZM1363 692H1368V698H1363ZM1363 698H1368V703H1363ZM1508 734H1513V739H1508ZM1358 739H1363V744H1358ZM1317 744H1332V749H1317ZM1353 744H1363V749H1353ZM1472 744H1477V749H1472ZM1327 749H1332V754H1327ZM1497 749H1503V754H1497ZM1348 760H1353V765H1348ZM1461 765H1466V770H1461ZM1342 775H1348V780H1342ZM1451 775H1456V780H1451ZM1342 816H1348V822H1342ZM1441 816H1446V822H1441ZM1342 822H1348V827H1342ZM1430 827H1435V832H1430ZM1337 837H1342V842H1337ZM1353 868H1358V873H1353ZM1353 878H1358V884H1353ZM1353 884H1358V889H1353ZM1379 884H1384V889H1379ZM1404 894H1410V899H1404Z"/>
<path fill="#cd4071" d="M1363 341H1368V346H1363ZM1466 305H1472V310H1466ZM1410 326H1420V331H1410ZM1368 336H1373V341H1368ZM1348 346H1353V351H1348ZM1332 357H1337V362H1332ZM1317 362H1322V367H1317ZM1291 367H1296V372H1291ZM1286 377H1291V382H1286ZM1311 434H1317V439H1311ZM1322 444H1327V450H1322ZM1559 455H1565V460H1559ZM1332 460H1337V465H1332ZM1337 486H1342V491H1337ZM1601 620H1606V625H1601ZM1363 630H1368V636H1363ZM1549 682H1554V687H1549ZM1358 708H1363V713H1358ZM1358 713H1363V718H1358ZM1523 713H1528V718H1523ZM1358 718H1363V723H1358ZM1523 718H1528V723H1523ZM1358 723H1363V729H1358ZM1311 739H1317V744H1311ZM1322 739H1327V744H1322ZM1332 749H1337V754H1332ZM1342 754H1348V760H1342ZM1342 760H1348V765H1342ZM1342 765H1348V770H1342ZM1342 770H1348V775H1342ZM1446 780H1451V785H1446ZM1337 832H1342V837H1337ZM1415 847H1420V853H1415ZM1342 853H1348V858H1342ZM1410 884H1415V889H1410Z"/>
<path fill="#a02f7f" d="M1368 320H1373V326H1368ZM1394 320H1404V326H1394ZM1415 320H1420V326H1415ZM1503 320H1508V326H1503ZM1265 331H1270V336H1265ZM1368 331H1373V336H1368ZM1358 341H1363V346H1358ZM1518 341H1523V346H1518ZM1554 289H1559V295H1554ZM1451 295H1456V300H1451ZM1441 305H1446V310H1441ZM1565 305H1570V310H1565ZM1358 310H1363V315H1358ZM1379 310H1384V315H1379ZM1472 310H1477V315H1472ZM1384 315H1389V320H1384ZM1342 346H1348V351H1342ZM1523 346H1528V351H1523ZM1332 351H1342V357H1332ZM1534 351H1539V357H1534ZM1322 357H1332V362H1322ZM1539 362H1544V367H1539ZM1275 367H1280V372H1275ZM1296 367H1301V372H1296ZM1306 367H1311V372H1306ZM1544 367H1549V372H1544ZM1306 393H1311V398H1306ZM1275 398H1280V403H1275ZM1306 398H1311V403H1306ZM1554 408H1559V413H1554ZM1554 413H1559V419H1554ZM1280 424H1291V429H1280ZM1275 429H1286V434H1275ZM1291 429H1306V434H1291ZM1317 439H1322V444H1317ZM1585 450H1590V455H1585ZM1327 455H1332V460H1327ZM1575 460H1580V465H1575ZM1332 470H1337V475H1332ZM1332 475H1337V481H1332ZM1337 491H1342V496H1337ZM1337 512H1342V517H1337ZM1559 517H1565V522H1559ZM1337 522H1342V527H1337ZM1337 527H1342V532H1337ZM1337 532H1342V537H1337ZM1337 537H1342V543H1337ZM1342 543H1348V548H1342ZM1353 584H1358V589H1353ZM1585 605H1590V610H1585ZM1585 610H1590V615H1585ZM1596 620H1601V625H1596ZM1611 620H1616V625H1611ZM1363 625H1368V630H1363ZM1611 630H1616V636H1611ZM1363 646H1368V651H1363ZM1601 646H1606V651H1601ZM1363 656H1368V661H1363ZM1554 661H1559V667H1554ZM1368 672H1373V677H1368ZM1575 672H1580V677H1575ZM1363 677H1373V682H1363ZM1554 677H1559V682H1554ZM1363 682H1368V687H1363ZM1554 682H1559V687H1554ZM1358 687H1363V692H1358ZM1358 692H1363V698H1358ZM1534 692H1539V698H1534ZM1358 698H1363V703H1358ZM1534 698H1539V703H1534ZM1358 703H1363V708H1358ZM1528 703H1534V708H1528ZM1523 708H1528V713H1523ZM1353 718H1358V723H1353ZM1523 723H1528V729H1523ZM1358 729H1363V734H1358ZM1518 734H1523V739H1518ZM1317 749H1322V754H1317ZM1342 749H1348V754H1342ZM1472 749H1477V754H1472ZM1311 754H1317V760H1311ZM1337 754H1342V760H1337ZM1466 765H1477V770H1466ZM1456 770H1461V775H1456ZM1451 780H1456V785H1451ZM1342 785H1348V791H1342ZM1342 791H1348V796H1342ZM1342 811H1348V816H1342ZM1327 816H1332V822H1327ZM1337 816H1342V822H1337ZM1441 822H1451V827H1441ZM1337 842H1342V847H1337ZM1337 847H1342V853H1337ZM1337 853H1342V858H1337ZM1342 858H1348V863H1342ZM1415 858H1420V863H1415ZM1348 863H1353V868H1348ZM1415 863H1420V868H1415ZM1420 868H1425V873H1420ZM1353 873H1358V878H1353ZM1415 878H1420V884H1415ZM1384 884H1389V889H1384ZM1353 889H1368V894H1353ZM1410 889H1415V894H1410ZM1394 909H1399V915H1394Z"/>
<path fill="#721f81" d="M1513 331H1518V336H1513ZM1260 341H1270V346H1260ZM1353 341H1358V346H1353ZM1441 279H1446V284H1441ZM1456 284H1461V289H1456ZM1472 284H1477V289H1472ZM1441 289H1446V295H1441ZM1570 295H1575V300H1570ZM1466 300H1472V305H1466ZM1368 305H1373V310H1368ZM1492 310H1497V315H1492ZM1435 315H1441V320H1435ZM1482 315H1497V320H1482ZM1368 326H1373V331H1368ZM1539 326H1544V331H1539ZM1337 346H1342V351H1337ZM1528 346H1534V351H1528ZM1311 362H1317V367H1311ZM1549 367H1554V372H1549ZM1280 372H1286V377H1280ZM1554 372H1559V377H1554ZM1554 377H1559V382H1554ZM1554 382H1559V388H1554ZM1270 393H1275V398H1270ZM1554 403H1559V408H1554ZM1296 408H1301V413H1296ZM1559 408H1565V413H1559ZM1559 413H1565V419H1559ZM1270 419H1275V424H1270ZM1275 424H1280V429H1275ZM1554 424H1559V429H1554ZM1570 444H1575V450H1570ZM1332 481H1337V486H1332ZM1565 512H1570V517H1565ZM1337 517H1342V522H1337ZM1549 537H1554V543H1549ZM1575 579H1580V584H1575ZM1549 589H1554V594H1549ZM1554 672H1559V677H1554ZM1549 687H1554V692H1549ZM1539 698H1544V703H1539ZM1534 703H1539V708H1534ZM1523 729H1528V734H1523ZM1358 734H1363V739H1358ZM1513 739H1518V744H1513ZM1322 749H1327V754H1322ZM1477 754H1482V760H1477ZM1441 785H1446V791H1441ZM1446 801H1456V806H1446ZM1435 811H1441V816H1435ZM1332 816H1337V822H1332ZM1446 816H1456V822H1446ZM1332 842H1337V847H1332ZM1420 873H1425V878H1420ZM1415 884H1420V889H1415ZM1368 889H1373V894H1368ZM1404 899H1415V904H1404ZM1404 904H1420V909H1404ZM1404 909H1410V915H1404ZM1399 920H1410V925H1399ZM1404 925H1410V930H1404Z"/>
<path fill="#5c167f" d="M1410 320H1415V326H1410ZM1565 320H1570V326H1565ZM1565 331H1570V336H1565ZM1342 341H1353V346H1342ZM1446 295H1451V300H1446ZM1441 300H1446V305H1441ZM1348 310H1353V315H1348ZM1389 315H1394V320H1389ZM1497 315H1503V320H1497ZM1363 336H1368V341H1363ZM1565 336H1570V341H1565ZM1332 346H1337V351H1332ZM1327 351H1332V357H1327ZM1559 357H1565V362H1559ZM1544 362H1549V367H1544ZM1565 367H1570V372H1565ZM1559 372H1570V377H1559ZM1280 382H1286V388H1280ZM1559 388H1565V393H1559ZM1554 393H1565V398H1554ZM1286 403H1291V408H1286ZM1301 403H1306V408H1301ZM1559 403H1565V408H1559ZM1286 408H1291V413H1286ZM1554 419H1570V424H1554ZM1456 274H1461V279H1456ZM1306 434H1311V439H1306ZM1575 455H1580V460H1575ZM1585 486H1590V491H1585ZM1337 496H1342V501H1337ZM1590 496H1596V501H1590ZM1575 501H1580V506H1575ZM1337 506H1342V512H1337ZM1565 517H1570V522H1565ZM1342 548H1348V553H1342ZM1342 553H1348V558H1342ZM1559 558H1565V563H1559ZM1570 568H1575V574H1570ZM1358 584H1363V589H1358ZM1358 594H1363V599H1358ZM1575 599H1580V605H1575ZM1327 636H1332V641H1327ZM1363 636H1368V641H1363ZM1368 661H1373V667H1368ZM1585 661H1590V667H1585ZM1368 667H1373V672H1368ZM1554 667H1559V672H1554ZM1363 672H1368V677H1363ZM1528 672H1534V677H1528ZM1358 677H1363V682H1358ZM1534 677H1539V682H1534ZM1353 682H1363V687H1353ZM1353 687H1358V692H1353ZM1539 692H1544V698H1539ZM1528 708H1534V713H1528ZM1528 713H1534V718H1528ZM1353 723H1358V729H1353ZM1353 739H1358V744H1353ZM1477 744H1482V749H1477ZM1441 791H1446V796H1441ZM1446 796H1451V801H1446ZM1342 806H1348V811H1342ZM1446 806H1456V811H1446ZM1435 827H1441V832H1435ZM1420 878H1425V884H1420ZM1358 894H1368V899H1358ZM1410 909H1415V915H1410Z"/>
<path fill="#451077" d="M1291 408H1296V413H1291ZM1348 744H1353V749H1348Z"/>
<path fill="#2d1161" d="M1477 310H1482V315H1477ZM1358 315H1363V320H1358ZM1559 326H1565V331H1559ZM1518 336H1523V341H1518ZM1539 357H1544V362H1539ZM1301 388H1306V393H1301ZM1275 393H1280V398H1275ZM1570 579H1575V584H1570ZM1363 641H1368V646H1363ZM1363 667H1368V672H1363ZM1353 677H1358V682H1353ZM1353 713H1358V718H1353ZM1353 729H1358V734H1353ZM1482 739H1487V744H1482ZM1503 749H1508V754H1503ZM1342 796H1348V801H1342ZM1342 801H1348V806H1342ZM1441 806H1446V811H1441ZM1337 811H1342V816H1337ZM1342 863H1348V868H1342ZM1348 868H1353V873H1348ZM1420 884H1425V889H1420ZM1389 889H1394V894H1389ZM1410 894H1415V899H1410Z"/>
<path fill="#19103f" d="M1280 320H1286V326H1280ZM1404 320H1410V326H1404ZM1337 341H1342V346H1337ZM1523 341H1528V346H1523ZM1363 310H1368V315H1363ZM1487 310H1492V315H1487ZM1503 315H1508V320H1503ZM1554 367H1559V372H1554ZM1559 398H1565V403H1559ZM1565 413H1570V419H1565ZM1286 429H1291V434H1286ZM1559 429H1565V434H1559ZM1311 439H1317V444H1311ZM1317 444H1322V450H1317ZM1322 450H1327V455H1322ZM1565 450H1570V455H1565ZM1332 465H1337V470H1332ZM1332 486H1337V491H1332ZM1337 501H1342V506H1337ZM1580 501H1585V506H1580ZM1342 558H1348V563H1342ZM1342 563H1348V568H1342ZM1358 610H1363V615H1358ZM1358 651H1363V656H1358ZM1363 661H1368V667H1363ZM1358 672H1363V677H1358ZM1559 677H1565V682H1559ZM1353 692H1358V698H1353ZM1353 698H1358V703H1353ZM1353 703H1358V708H1353ZM1353 708H1358V713H1353ZM1534 708H1539V713H1534ZM1353 734H1358V739H1353ZM1492 739H1497V744H1492ZM1435 806H1441V811H1435ZM1337 822H1342V827H1337ZM1425 878H1430V884H1425ZM1415 889H1420V894H1415Z"/>
<path fill="#090720" d="M1430 315H1435V320H1430Z"/>
<path fill="#000004" d="M1275 269H1280V274H1275ZM1363 320H1368V326H1363ZM1363 331H1368V336H1363ZM1332 341H1337V346H1332ZM1430 305H1435V310H1430ZM1435 310H1441V315H1435ZM1363 315H1368V320H1363ZM1394 315H1399V320H1394ZM1415 315H1420V320H1415ZM1363 326H1368V331H1363ZM1337 336H1342V341H1337ZM1327 346H1332V351H1327ZM1534 346H1539V351H1534ZM1322 351H1327V357H1322ZM1554 351H1559V357H1554ZM1317 357H1322V362H1317ZM1549 357H1559V362H1549ZM1286 362H1291V367H1286ZM1549 362H1554V367H1549ZM1559 377H1565V382H1559ZM1565 424H1575V429H1565ZM1570 429H1575V434H1570ZM1570 434H1575V439H1570ZM1570 439H1575V444H1570ZM1327 460H1332V465H1327ZM1327 470H1332V475H1327ZM1327 475H1332V481H1327ZM1327 481H1332V486H1327ZM1332 491H1337V496H1332ZM1332 496H1337V501H1332ZM1332 501H1337V506H1332ZM1332 506H1337V512H1332ZM1332 512H1337V517H1332ZM1570 512H1575V517H1570ZM1332 517H1337V522H1332ZM1332 527H1337V532H1332ZM1332 532H1337V537H1332ZM1337 543H1342V548H1337ZM1337 548H1342V553H1337ZM1337 553H1342V558H1337ZM1565 579H1570V584H1565ZM1353 594H1358V599H1353ZM1358 615H1363V620H1358ZM1565 615H1570V620H1565ZM1358 620H1363V625H1358ZM1358 625H1363V630H1358ZM1358 630H1363V636H1358ZM1358 636H1363V641H1358ZM1358 641H1363V646H1358ZM1358 646H1363V651H1358ZM1358 656H1363V661H1358ZM1358 661H1363V667H1358ZM1596 661H1601V667H1596ZM1358 667H1363V672H1358ZM1353 672H1358V677H1353ZM1348 677H1353V682H1348ZM1528 677H1534V682H1528ZM1348 682H1353V687H1348ZM1559 682H1565V687H1559ZM1348 687H1353V692H1348ZM1565 687H1570V692H1565ZM1348 692H1353V698H1348ZM1348 713H1353V718H1348ZM1348 718H1353V723H1348ZM1348 723H1353V729H1348ZM1348 729H1353V734H1348ZM1348 739H1353V744H1348ZM1492 744H1497V749H1492ZM1513 744H1523V749H1513ZM1337 760H1342V765H1337ZM1337 765H1342V770H1337ZM1337 770H1342V775H1337ZM1461 770H1466V775H1461ZM1337 780H1342V785H1337ZM1446 785H1456V791H1446ZM1446 791H1456V796H1446ZM1337 806H1342V811H1337ZM1441 811H1451V816H1441ZM1337 827H1342V832H1337ZM1327 847H1337V853H1327ZM1337 858H1342V863H1337ZM1420 858H1425V863H1420ZM1425 868H1430V873H1425ZM1348 873H1353V878H1348ZM1425 873H1430V878H1425ZM1373 889H1379V894H1373ZM1420 889H1425V894H1420ZM1353 894H1358V899H1353ZM1368 894H1373V899H1368ZM1420 894H1425V899H1420ZM1420 899H1425V904H1420ZM1415 909H1420V915H1415ZM1404 915H1420V920H1404Z"/></g>
<use xlink:href="#grat" href="#grat" x="1263" y="240"/>
<use xlink:href="#coast" href="#coast" x="1263" y="240"/>
<rect x="1263" y="240" width="375" height="700" fill="none" stroke="#000" stroke-width="2.2"/>
</g>
<g id="panel-d">
<clipPath id="clip-d"><rect x="782" y="1080" width="375" height="700"/></clipPath>
<g clip-path="url(#clip-d)" shape-rendering="crispEdges"><path fill="#fcfdbf" d="M892 1160H908V1166H892ZM944 1160H949V1166H944ZM954 1160H991V1166H954ZM898 1171H929V1176H898ZM939 1171H1032V1176H939ZM898 1181H1032V1186H898ZM985 1119H991V1124H985ZM980 1124H991V1129H980ZM1084 1129H1094V1135H1084ZM1078 1135H1089V1140H1078ZM1078 1140H1084V1145H1078ZM965 1145H985V1150H965ZM1078 1145H1084V1150H1078ZM887 1150H898V1155H887ZM960 1150H985V1155H960ZM1073 1150H1078V1155H1073ZM887 1155H903V1160H887ZM960 1155H985V1160H960ZM1073 1155H1078V1160H1073ZM892 1166H913V1171H892ZM944 1166H1006V1171H944ZM1011 1166H1027V1171H1011ZM898 1176H1032V1181H898ZM898 1186H1032V1191H898ZM877 1191H887V1197H877ZM898 1191H1037V1197H898ZM872 1197H1032V1202H872ZM799 1202H805V1207H799ZM867 1202H1032V1207H867ZM799 1207H810V1212H799ZM861 1207H1032V1212H861ZM810 1212H830V1217H810ZM861 1212H1037V1217H861ZM810 1217H1042V1222H810ZM815 1222H1047V1228H815ZM825 1228H1047V1233H825ZM830 1233H1042V1238H830ZM836 1238H1047V1243H836ZM799 1243H805V1248H799ZM836 1243H1047V1248H836ZM1053 1243H1068V1248H1053ZM830 1248H1068V1253H830ZM810 1253H1068V1259H810ZM810 1259H1068V1264H810ZM815 1264H1068V1269H815ZM830 1269H1073V1274H830ZM836 1274H1073V1279H836ZM841 1279H1073V1284H841ZM851 1284H1073V1290H851ZM851 1290H1073V1295H851ZM851 1295H1073V1300H851ZM856 1300H1089V1305H856ZM861 1305H1094V1310H861ZM861 1310H1099V1315H861ZM861 1315H1104V1321H861ZM867 1321H1099V1326H867ZM867 1326H1104V1331H867ZM867 1331H1089V1336H867ZM1099 1331H1104V1336H1099ZM867 1336H1094V1341H867ZM872 1341H1089V1346H872ZM867 1346H1078V1352H867ZM867 1352H1078V1357H867ZM867 1357H1078V1362H867ZM867 1362H1068V1367H867ZM1078 1362H1084V1367H1078ZM867 1367H1068V1372H867ZM867 1372H1068V1377H867ZM1073 1372H1078V1377H1073ZM867 1377H1068V1383H867ZM872 1383H1073V1388H872ZM872 1388H1073V1393H872ZM1084 1388H1089V1393H1084ZM872 1393H1078V1398H872ZM872 1398H1078V1403H872ZM867 1403H1084V1408H867ZM861 1408H867V1414H861ZM872 1408H1089V1414H872ZM1094 1408H1099V1414H1094ZM872 1414H1068V1419H872ZM1078 1414H1089V1419H1078ZM872 1419H1068V1424H872ZM1099 1419H1109V1424H1099ZM887 1424H1063V1429H887ZM877 1429H882V1434H877ZM887 1429H1068V1434H887ZM887 1434H1073V1439H887ZM1094 1434H1104V1439H1094ZM882 1439H1073V1445H882ZM887 1445H1073V1450H887ZM887 1450H1078V1455H887ZM1099 1450H1104V1455H1099ZM887 1455H1078V1460H887ZM892 1460H1078V1465H892ZM892 1465H1073V1470H892ZM1078 1465H1084V1470H1078ZM1120 1465H1130V1470H1120ZM892 1470H1073V1476H892ZM1109 1470H1125V1476H1109ZM892 1476H1089V1481H892ZM1109 1476H1115V1481H1109ZM892 1481H1115V1486H892ZM892 1486H1115V1491H892ZM898 1491H1115V1496H898ZM898 1496H1073V1501H898ZM1084 1496H1109V1501H1084ZM903 1501H1073V1507H903ZM1084 1501H1089V1507H1084ZM903 1507H1047V1512H903ZM1058 1507H1073V1512H1058ZM1078 1507H1089V1512H1078ZM1094 1507H1099V1512H1094ZM903 1512H1047V1517H903ZM1053 1512H1068V1517H1053ZM1084 1512H1089V1517H1084ZM903 1517H1042V1522H903ZM1058 1517H1068V1522H1058ZM903 1522H1047V1527H903ZM903 1527H1047V1532H903ZM903 1532H1047V1538H903ZM898 1538H1047V1543H898ZM898 1543H1042V1548H898ZM898 1548H1037V1553H898ZM898 1553H1042V1558H898ZM892 1558H1037V1563H892ZM1047 1558H1053V1563H1047ZM892 1563H1037V1569H892ZM892 1569H1037V1574H892ZM892 1574H1001V1579H892ZM1006 1574H1027V1579H1006ZM892 1579H996V1584H892ZM1006 1579H1011V1584H1006ZM887 1584H991V1589H887ZM887 1589H991V1594H887ZM887 1594H991V1600H887ZM887 1600H980V1605H887ZM985 1600H991V1605H985ZM882 1605H975V1610H882ZM882 1610H970V1615H882ZM882 1615H965V1620H882ZM877 1620H960V1625H877ZM877 1625H960V1631H877ZM877 1631H960V1636H877ZM872 1636H960V1641H872ZM877 1641H954V1646H877ZM877 1646H954V1651H877ZM877 1651H954V1656H877ZM970 1651H975V1656H970ZM872 1656H954V1662H872ZM872 1662H949V1667H872ZM872 1667H949V1672H872ZM872 1672H944V1677H872ZM872 1677H939V1682H872ZM872 1682H934V1687H872ZM872 1687H929V1693H872ZM872 1693H929V1698H872ZM882 1698H934V1703H882ZM887 1703H934V1708H887ZM887 1708H934V1713H887ZM887 1713H934V1718H887ZM892 1718H929V1724H892ZM913 1724H929V1729H913ZM944 1724H949V1729H944ZM918 1729H929V1734H918ZM913 1734H923V1739H913ZM918 1739H923V1744H918ZM913 1744H923V1749H913ZM918 1765H923V1770H918Z"/>
<path fill="#fde3a5" d="M1006 1109H1011V1114H1006ZM960 1124H965V1129H960ZM965 1129H970V1135H965ZM939 1166H944V1171H939ZM1006 1166H1011V1171H1006ZM892 1191H898V1197H892ZM1047 1243H1053V1248H1047ZM825 1248H830V1253H825ZM846 1284H851V1290H846ZM1089 1300H1094V1305H1089ZM861 1321H867V1326H861ZM1073 1362H1078V1367H1073ZM1089 1367H1094V1372H1089ZM867 1408H872V1414H867ZM1073 1465H1078V1470H1073ZM1115 1465H1120V1470H1115ZM1073 1470H1084V1476H1073ZM1104 1470H1109V1476H1104ZM1089 1476H1094V1481H1089ZM1104 1476H1109V1481H1104ZM892 1491H898V1496H892ZM1089 1501H1094V1507H1089ZM1053 1507H1058V1512H1053ZM1068 1512H1073V1517H1068ZM898 1527H903V1532H898ZM898 1532H903V1538H898ZM892 1553H898V1558H892ZM1037 1558H1042V1563H1037ZM887 1579H892V1584H887ZM882 1589H887V1594H882ZM882 1594H887V1600H882ZM882 1600H887V1605H882ZM980 1600H985V1605H980ZM877 1615H882V1620H877ZM965 1615H970V1620H965ZM872 1625H877V1631H872ZM872 1631H877V1636H872ZM872 1641H877V1646H872ZM872 1646H877V1651H872ZM872 1651H877V1656H872ZM867 1682H872V1687H867ZM867 1687H872V1693H867ZM929 1687H934V1693H929ZM877 1698H882V1703H877ZM877 1703H887V1708H877ZM882 1708H887V1713H882ZM882 1713H887V1718H882ZM908 1724H913V1729H908Z"/>
<path fill="#feca8d" d="M1011 1109H1016V1114H1011ZM1073 1145H1078V1150H1073ZM985 1155H991V1160H985ZM1084 1166H1089V1171H1084ZM1042 1233H1047V1238H1042ZM1063 1238H1068V1243H1063ZM1089 1331H1094V1336H1089ZM867 1341H872V1346H867ZM1068 1419H1073V1424H1068ZM882 1434H887V1439H882ZM1073 1445H1078V1450H1073ZM887 1460H892V1465H887ZM1130 1465H1135V1470H1130ZM1109 1496H1115V1501H1109ZM898 1501H903V1507H898ZM1089 1507H1094V1512H1089ZM1089 1512H1094V1517H1089ZM898 1522H903V1527H898ZM1047 1532H1053V1538H1047ZM892 1548H898V1553H892ZM1037 1548H1042V1553H1037ZM1037 1563H1042V1569H1037ZM887 1574H892V1579H887ZM877 1610H882V1615H877ZM872 1620H877V1625H872ZM867 1667H872V1672H867ZM867 1672H872V1677H867ZM934 1682H939V1687H934ZM877 1708H882V1713H877ZM877 1718H892V1724H877ZM918 1749H923V1755H918Z"/>
<path fill="#feb078" d="M1063 1228H1068V1233H1063ZM1063 1233H1068V1238H1063ZM830 1238H836V1243H830ZM794 1259H799V1264H794ZM805 1259H810V1264H805ZM1068 1362H1073V1367H1068ZM882 1445H887V1450H882ZM836 1579H841V1584H836ZM954 1641H960V1646H954Z"/>
<path fill="#fd9668" d="M892 1171H898V1176H892ZM1084 1124H1089V1129H1084ZM980 1129H985V1135H980ZM805 1212H810V1217H805ZM1042 1217H1047V1222H1042ZM985 1114H991V1119H985ZM856 1315H861V1321H856ZM1063 1424H1068V1429H1063ZM872 1429H877V1434H872ZM1078 1445H1084V1450H1078ZM1104 1445H1109V1450H1104ZM882 1450H887V1455H882ZM1078 1450H1084V1455H1078ZM887 1470H892V1476H887ZM1125 1470H1130V1476H1125ZM1115 1486H1120V1491H1115ZM892 1496H898V1501H892ZM1078 1496H1084V1501H1078ZM1094 1501H1104V1507H1094ZM898 1507H903V1512H898ZM1078 1512H1084V1517H1078ZM898 1517H903V1522H898ZM1068 1517H1073V1522H1068ZM892 1532H898V1538H892ZM892 1543H898V1548H892ZM887 1569H892V1574H887ZM1001 1574H1006V1579H1001ZM996 1579H1001V1584H996ZM970 1610H975V1615H970ZM872 1615H877V1620H872ZM867 1631H872V1636H867ZM861 1672H867V1677H861ZM867 1677H872V1682H867ZM939 1677H944V1682H939ZM872 1698H877V1703H872ZM934 1708H939V1713H934ZM877 1713H882V1718H877ZM913 1739H918V1744H913Z"/>
<path fill="#f97b5d" d="M991 1160H996V1166H991ZM985 1150H991V1155H985ZM918 1166H923V1171H918ZM877 1186H882V1191H877ZM872 1191H877V1197H872ZM887 1191H892V1197H887ZM1032 1197H1037V1202H1032ZM830 1212H836V1217H830ZM856 1212H861V1217H856ZM830 1243H836V1248H830ZM805 1253H810V1259H805ZM799 1259H805V1264H799ZM1068 1264H1073V1269H1068ZM1094 1290H1099V1295H1094ZM1089 1295H1094V1300H1089ZM856 1305H861V1310H856ZM856 1310H861V1315H856ZM861 1326H867V1331H861ZM861 1357H867V1362H861ZM861 1362H867V1367H861ZM867 1383H872V1388H867ZM1073 1388H1078V1393H1073ZM882 1455H887V1460H882ZM887 1465H892V1470H887ZM887 1491H892V1496H887ZM898 1512H903V1517H898ZM892 1527H898V1532H892ZM1047 1527H1053V1532H1047ZM887 1538H898V1543H887ZM1047 1538H1053V1543H1047ZM887 1543H892V1548H887ZM1042 1543H1047V1548H1042ZM887 1548H892V1553H887ZM887 1553H892V1558H887ZM887 1558H892V1563H887ZM887 1563H892V1569H887ZM1037 1569H1042V1574H1037ZM1032 1574H1037V1579H1032ZM882 1579H887V1584H882ZM1022 1579H1032V1584H1022ZM882 1584H887V1589H882ZM877 1594H882V1600H877ZM991 1594H996V1600H991ZM877 1600H882V1605H877ZM991 1600H996V1605H991ZM872 1605H882V1610H872ZM872 1610H877V1615H872ZM867 1615H872V1620H867ZM867 1620H872V1625H867ZM867 1625H872V1631H867ZM960 1636H965V1641H960ZM867 1656H872V1662H867ZM867 1662H872V1667H867ZM861 1667H867V1672H861ZM867 1693H872V1698H867ZM929 1718H934V1724H929ZM877 1724H882V1729H877Z"/>
<path fill="#f1605d" d="M949 1160H954V1166H949ZM996 1160H1006V1166H996ZM929 1171H939V1176H929ZM1032 1181H1037V1186H1032ZM1084 1181H1089V1186H1084ZM1068 1145H1073V1150H1068ZM991 1155H996V1160H991ZM913 1166H918V1171H913ZM923 1166H929V1171H923ZM892 1176H898V1181H892ZM882 1186H887V1191H882ZM892 1186H898V1191H892ZM1032 1186H1037V1191H1032ZM867 1191H872V1197H867ZM1037 1191H1042V1197H1037ZM861 1197H872V1202H861ZM1037 1197H1042V1202H1037ZM794 1202H799V1207H794ZM856 1202H867V1207H856ZM1032 1202H1042V1207H1032ZM846 1207H861V1212H846ZM1032 1207H1037V1212H1032ZM836 1212H856V1217H836ZM1037 1212H1042V1217H1037ZM810 1222H815V1228H810ZM1047 1238H1053V1243H1047ZM810 1264H815V1269H810ZM825 1269H830V1274H825ZM856 1321H861V1326H856ZM861 1352H867V1357H861ZM1078 1352H1084V1357H1078ZM861 1367H867V1372H861ZM861 1372H867V1377H861ZM861 1377H867V1383H861ZM867 1388H872V1393H867ZM1084 1403H1089V1408H1084ZM882 1429H887V1434H882ZM1073 1429H1078V1434H1073ZM1078 1455H1084V1460H1078ZM1125 1460H1130V1465H1125ZM887 1476H892V1481H887ZM1099 1476H1104V1481H1099ZM1115 1476H1120V1481H1115ZM887 1486H892V1491H887ZM1115 1491H1120V1496H1115ZM892 1501H898V1507H892ZM892 1517H898V1522H892ZM1042 1517H1047V1522H1042ZM892 1522H898V1527H892ZM887 1527H892V1532H887ZM887 1532H892V1538H887ZM882 1553H887V1558H882ZM882 1558H887V1563H882ZM882 1563H887V1569H882ZM882 1574H887V1579H882ZM846 1589H851V1594H846ZM872 1589H882V1594H872ZM872 1594H877V1600H872ZM872 1600H877V1605H872ZM867 1605H872V1610H867ZM975 1605H980V1610H975ZM867 1610H872V1615H867ZM970 1615H975V1620H970ZM861 1620H867V1625H861ZM960 1620H965V1625H960ZM867 1636H872V1641H867ZM867 1641H872V1646H867ZM960 1641H965V1646H960ZM867 1646H872V1651H867ZM867 1651H872V1656H867ZM954 1656H960V1662H954ZM949 1662H954V1667H949ZM944 1672H949V1677H944ZM861 1677H867V1682H861ZM861 1682H867V1687H861ZM861 1687H867V1693H861ZM929 1693H934V1698H929ZM867 1698H872V1703H867ZM872 1703H877V1708H872ZM934 1713H939V1718H934ZM882 1724H898V1729H882ZM913 1729H918V1734H913ZM923 1734H929V1739H923Z"/>
<path fill="#cd4071" d="M908 1160H913V1166H908ZM1006 1160H1011V1166H1006ZM892 1181H898V1186H892ZM1078 1150H1084V1155H1078ZM996 1155H1001V1160H996ZM872 1186H877V1191H872ZM887 1186H892V1191H887ZM1037 1186H1042V1191H1037ZM851 1202H856V1207H851ZM841 1207H846V1212H841ZM1037 1207H1042V1212H1037ZM1042 1212H1047V1217H1042ZM1047 1217H1053V1222H1047ZM1047 1222H1053V1228H1047ZM1047 1228H1053V1233H1047ZM1047 1233H1053V1238H1047ZM1058 1233H1063V1238H1058ZM1053 1238H1063V1243H1053ZM1068 1259H1073V1264H1068ZM846 1290H851V1295H846ZM861 1331H867V1336H861ZM1094 1331H1099V1336H1094ZM861 1336H867V1341H861ZM1094 1336H1099V1341H1094ZM1089 1341H1094V1346H1089ZM1078 1346H1084V1352H1078ZM1068 1367H1073V1372H1068ZM1089 1403H1094V1408H1089ZM1068 1414H1073V1419H1068ZM882 1424H887V1429H882ZM1099 1439H1104V1445H1099ZM877 1445H882V1450H877ZM882 1460H887V1465H882ZM1094 1476H1099V1481H1094ZM887 1481H892V1486H887ZM887 1496H892V1501H887ZM892 1507H898V1512H892ZM1047 1507H1053V1512H1047ZM892 1512H898V1517H892ZM887 1522H892V1527H887ZM882 1532H887V1538H882ZM882 1543H887V1548H882ZM882 1548H887V1553H882ZM882 1569H887V1574H882ZM836 1584H851V1589H836ZM877 1584H882V1589H877ZM991 1584H996V1589H991ZM867 1594H872V1600H867ZM867 1600H872V1605H867ZM861 1615H867V1620H861ZM872 1718H877V1724H872Z"/>
<path fill="#b73779" d="M1011 1160H1022V1166H1011ZM1027 1166H1032V1171H1027ZM1032 1176H1037V1181H1032ZM1042 1191H1053V1197H1042ZM851 1197H861V1202H851ZM1042 1197H1058V1202H1042ZM836 1202H851V1207H836ZM1042 1202H1058V1207H1042ZM820 1207H825V1212H820ZM830 1207H841V1212H830ZM1042 1207H1063V1212H1042ZM1047 1212H1068V1217H1047ZM1053 1217H1068V1222H1053ZM1053 1222H1073V1228H1053ZM1053 1228H1063V1233H1053ZM1068 1228H1073V1233H1068ZM1053 1233H1058V1238H1053ZM1068 1233H1073V1238H1068ZM1068 1238H1073V1243H1068ZM1068 1243H1073V1248H1068ZM1068 1248H1073V1253H1068ZM1068 1253H1073V1259H1068ZM830 1274H836V1279H830ZM846 1295H851V1300H846ZM1073 1295H1078V1300H1073ZM851 1300H856V1305H851ZM1094 1305H1099V1310H1094ZM1099 1321H1104V1326H1099ZM861 1346H867V1352H861ZM1068 1372H1073V1377H1068ZM867 1393H872V1398H867ZM867 1398H872V1403H867ZM867 1414H872V1419H867ZM1115 1460H1125V1465H1115ZM882 1465H887V1470H882ZM882 1470H887V1476H882ZM1115 1496H1120V1501H1115ZM882 1527H887V1532H882ZM882 1538H887V1543H882ZM877 1543H882V1548H877ZM877 1548H882V1553H877ZM877 1553H882V1558H877ZM877 1558H882V1563H877ZM830 1579H836V1584H830ZM841 1579H846V1584H841ZM872 1584H877V1589H872ZM851 1589H856V1594H851ZM867 1589H872V1594H867ZM1016 1589H1022V1594H1016ZM861 1594H867V1600H861ZM861 1600H867V1605H861ZM861 1605H867V1610H861ZM980 1605H985V1610H980ZM861 1610H867V1615H861ZM965 1620H975V1625H965ZM861 1656H867V1662H861ZM861 1662H867V1667H861ZM949 1667H954V1672H949ZM856 1672H861V1677H856ZM856 1677H861V1682H856ZM856 1682H861V1687H856ZM934 1687H939V1693H934ZM861 1693H867V1698H861ZM861 1698H867V1703H861ZM867 1703H872V1708H867ZM872 1708H877V1713H872ZM872 1713H877V1718H872ZM872 1724H877V1729H872ZM898 1724H908V1729H898ZM929 1724H934V1729H929ZM877 1729H882V1734H877ZM913 1749H918V1755H913Z"/>
<path fill="#a02f7f" d="M939 1160H944V1166H939ZM1022 1160H1027V1166H1022ZM784 1171H789V1176H784ZM887 1171H892V1176H887ZM1032 1171H1037V1176H1032ZM877 1181H892V1186H877ZM1037 1181H1042V1186H1037ZM975 1119H980V1124H975ZM1078 1124H1084V1129H1078ZM1089 1124H1094V1129H1089ZM1073 1129H1084V1135H1073ZM1094 1129H1099V1135H1094ZM1089 1135H1094V1140H1089ZM965 1140H985V1145H965ZM1022 1140H1027V1145H1022ZM1073 1140H1078V1145H1073ZM1084 1140H1094V1145H1084ZM985 1145H991V1150H985ZM1084 1145H1089V1150H1084ZM903 1155H908V1160H903ZM929 1166H939V1171H929ZM887 1176H892V1181H887ZM861 1186H872V1191H861ZM1042 1186H1047V1191H1042ZM851 1191H867V1197H851ZM1053 1191H1058V1197H1053ZM841 1197H851V1202H841ZM1058 1202H1063V1207H1058ZM794 1207H799V1212H794ZM810 1207H820V1212H810ZM825 1207H830V1212H825ZM1063 1207H1068V1212H1063ZM1068 1212H1073V1217H1068ZM805 1217H810V1222H805ZM1068 1217H1073V1222H1068ZM794 1243H799V1248H794ZM825 1243H830V1248H825ZM820 1248H825V1253H820ZM1073 1248H1078V1253H1073ZM789 1264H794V1269H789ZM810 1269H815V1274H810ZM820 1269H825V1274H820ZM836 1279H841V1284H836ZM841 1284H846V1290H841ZM1073 1284H1078V1290H1073ZM1089 1290H1094V1295H1089ZM1078 1295H1084V1300H1078ZM1094 1300H1099V1305H1094ZM856 1326H861V1331H856ZM1104 1331H1109V1336H1104ZM861 1341H867V1346H861ZM856 1352H861V1357H856ZM1084 1352H1089V1357H1084ZM1078 1357H1084V1362H1078ZM856 1377H861V1383H856ZM1068 1377H1073V1383H1068ZM861 1383H867V1388H861ZM872 1424H877V1429H872ZM1073 1434H1084V1439H1073ZM877 1439H882V1445H877ZM1073 1439H1078V1445H1073ZM1130 1460H1135V1465H1130ZM882 1486H887V1491H882ZM882 1491H887V1496H882ZM1073 1496H1078V1501H1073ZM1073 1501H1084V1507H1073ZM887 1512H892V1517H887ZM887 1517H892V1522H887ZM1073 1517H1078V1522H1073ZM882 1522H887V1527H882ZM1063 1522H1078V1527H1063ZM1053 1532H1058V1538H1053ZM877 1538H882V1543H877ZM1053 1538H1058V1543H1053ZM1047 1543H1053V1548H1047ZM1042 1548H1047V1553H1042ZM1042 1553H1047V1558H1042ZM1042 1558H1047V1563H1042ZM877 1563H882V1569H877ZM1042 1563H1047V1569H1042ZM877 1569H882V1574H877ZM877 1574H882V1579H877ZM1027 1574H1032V1579H1027ZM1037 1574H1042V1579H1037ZM877 1579H882V1584H877ZM836 1589H841V1594H836ZM861 1589H867V1594H861ZM991 1589H996V1594H991ZM830 1594H836V1600H830ZM856 1594H861V1600H856ZM985 1605H996V1610H985ZM861 1625H867V1631H861ZM861 1631H867V1636H861ZM861 1651H867V1656H861ZM846 1656H851V1662H846ZM960 1656H965V1662H960ZM960 1662H970V1667H960ZM856 1687H861V1693H856ZM856 1693H861V1698H856ZM934 1698H939V1703H934ZM934 1703H939V1708H934ZM939 1708H944V1713H939ZM934 1718H939V1724H934ZM872 1729H877V1734H872ZM882 1729H892V1734H882ZM929 1729H934V1734H929Z"/>
<path fill="#721f81" d="M887 1160H892V1166H887ZM913 1160H923V1166H913ZM934 1160H939V1166H934ZM779 1181H789V1186H779ZM872 1181H877V1186H872ZM960 1119H965V1124H960ZM975 1124H980V1129H975ZM960 1129H965V1135H960ZM970 1135H975V1140H970ZM985 1140H991V1145H985ZM887 1145H892V1150H887ZM960 1145H965V1150H960ZM877 1150H882V1155H877ZM898 1150H903V1155H898ZM991 1150H996V1155H991ZM954 1155H960V1160H954ZM1006 1155H1016V1160H1006ZM887 1166H892V1171H887ZM856 1186H861V1191H856ZM1047 1186H1053V1191H1047ZM830 1202H836V1207H830ZM1068 1207H1073V1212H1068ZM799 1212H805V1217H799ZM1073 1212H1078V1217H1073ZM1073 1217H1078V1222H1073ZM1073 1222H1078V1228H1073ZM789 1233H794V1238H789ZM825 1233H830V1238H825ZM794 1238H799V1243H794ZM825 1238H830V1243H825ZM1073 1243H1084V1248H1073ZM815 1248H820V1253H815ZM1078 1248H1084V1253H1078ZM1073 1253H1078V1259H1073ZM975 1114H980V1119H975ZM794 1264H810V1269H794ZM794 1269H805V1274H794ZM815 1269H820V1274H815ZM1089 1284H1094V1290H1089ZM851 1310H856V1315H851ZM851 1315H856V1321H851ZM851 1321H856V1326H851ZM856 1331H861V1336H856ZM856 1357H861V1362H856ZM856 1362H861V1367H856ZM856 1367H861V1372H856ZM856 1372H861V1377H856ZM861 1388H867V1393H861ZM1078 1398H1084V1403H1078ZM1094 1419H1099V1424H1094ZM1068 1429H1073V1434H1068ZM877 1434H882V1439H877ZM1130 1470H1135V1476H1130ZM882 1481H887V1486H882ZM1120 1486H1125V1491H1120ZM882 1496H887V1501H882ZM887 1501H892V1507H887ZM887 1507H892V1512H887ZM882 1512H887V1517H882ZM1047 1512H1053V1517H1047ZM1073 1512H1078V1517H1073ZM1094 1512H1099V1517H1094ZM882 1517H887V1522H882ZM877 1527H882V1532H877ZM1068 1527H1073V1532H1068ZM877 1532H882V1538H877ZM1058 1538H1063V1543H1058ZM1053 1543H1058V1548H1053ZM872 1553H877V1558H872ZM872 1558H877V1563H872ZM872 1563H877V1569H872ZM872 1569H877V1574H872ZM872 1579H877V1584H872ZM841 1589H846V1594H841ZM996 1594H1001V1600H996ZM975 1610H980V1615H975ZM960 1625H965V1631H960ZM965 1641H975V1646H965ZM861 1646H867V1651H861ZM954 1651H960V1656H954ZM856 1656H861V1662H856ZM965 1656H975V1662H965ZM851 1682H856V1687H851ZM939 1713H944V1718H939ZM923 1739H929V1744H923ZM923 1744H934V1749H923Z"/>
<path fill="#5c167f" d="M1084 1160H1089V1166H1084ZM1084 1171H1089V1176H1084ZM861 1181H872V1186H861ZM991 1124H996V1129H991ZM965 1135H970V1140H965ZM960 1140H965V1145H960ZM867 1150H872V1155H867ZM1011 1150H1016V1155H1011ZM1001 1155H1006V1160H1001ZM1016 1155H1022V1160H1016ZM1058 1166H1063V1171H1058ZM882 1176H887V1181H882ZM1084 1176H1089V1181H1084ZM851 1186H856V1191H851ZM846 1191H851V1197H846ZM1078 1197H1084V1202H1078ZM1063 1202H1068V1207H1063ZM1084 1207H1089V1212H1084ZM1078 1212H1089V1217H1078ZM799 1222H805V1228H799ZM820 1228H825V1233H820ZM1078 1228H1084V1233H1078ZM1073 1233H1084V1238H1073ZM820 1243H825V1248H820ZM805 1248H810V1253H805ZM1078 1253H1084V1259H1078ZM789 1259H794V1264H789ZM1073 1259H1089V1264H1073ZM1073 1264H1078V1269H1073ZM825 1274H830V1279H825ZM1104 1290H1109V1295H1104ZM1094 1295H1099V1300H1094ZM851 1305H856V1310H851ZM1104 1326H1109V1331H1104ZM856 1336H861V1341H856ZM1109 1336H1115V1341H1109ZM1094 1341H1099V1346H1094ZM856 1346H861V1352H856ZM1084 1357H1089V1362H1084ZM861 1393H867V1398H861ZM1089 1408H1094V1414H1089ZM1089 1419H1094V1424H1089ZM877 1424H882V1429H877ZM1094 1439H1099V1445H1094ZM1104 1450H1109V1455H1104ZM846 1476H851V1481H846ZM882 1476H887V1481H882ZM1104 1501H1109V1507H1104ZM882 1507H887V1512H882ZM1073 1507H1078V1512H1073ZM877 1512H882V1517H877ZM872 1517H882V1522H872ZM1053 1517H1058V1522H1053ZM872 1522H882V1527H872ZM872 1527H877V1532H872ZM872 1532H877V1538H872ZM1058 1532H1063V1538H1058ZM872 1543H877V1548H872ZM1047 1553H1053V1558H1047ZM1042 1569H1047V1574H1042ZM1001 1579H1006V1584H1001ZM1032 1579H1037V1584H1032ZM867 1584H872V1589H867ZM996 1584H1001V1589H996ZM960 1631H965V1636H960ZM861 1636H867V1641H861ZM965 1636H970V1641H965ZM861 1641H867V1646H861ZM965 1646H975V1651H965ZM856 1651H861V1656H856ZM851 1656H856V1662H851ZM856 1662H861V1667H856ZM954 1667H960V1672H954ZM861 1703H867V1708H861ZM867 1708H872V1713H867ZM939 1718H944V1724H939ZM934 1724H939V1729H934ZM908 1729H913V1734H908ZM929 1739H934V1744H929ZM934 1744H939V1749H934ZM923 1749H929V1755H923ZM918 1760H929V1765H918ZM923 1765H929V1770H923Z"/>
<path fill="#2d1161" d="M929 1160H934V1166H929ZM856 1181H861V1186H856ZM996 1150H1001V1155H996ZM908 1155H913V1160H908ZM1078 1166H1084V1171H1078ZM1037 1176H1042V1181H1037ZM1058 1197H1063V1202H1058ZM794 1233H799V1238H794ZM1078 1238H1084V1243H1078ZM805 1243H810V1248H805ZM810 1248H815V1253H810ZM1084 1253H1089V1259H1084ZM805 1269H810V1274H805ZM1078 1269H1084V1274H1078ZM830 1279H836V1284H830ZM836 1284H841V1290H836ZM841 1290H846V1295H841ZM1084 1290H1089V1295H1084ZM851 1326H856V1331H851ZM1099 1341H1104V1346H1099ZM861 1398H867V1403H861ZM861 1403H867V1408H861ZM877 1491H882V1496H877ZM882 1501H887V1507H882ZM1078 1517H1084V1522H1078ZM872 1538H877V1543H872ZM872 1548H877V1553H872ZM1047 1548H1053V1553H1047ZM872 1574H877V1579H872ZM1011 1579H1016V1584H1011ZM1022 1589H1027V1594H1022ZM939 1724H944V1729H939ZM877 1734H882V1739H877ZM929 1734H934V1739H929ZM929 1749H934V1755H929Z"/>
<path fill="#19103f" d="M1042 1181H1047V1186H1042ZM882 1150H887V1155H882ZM1006 1150H1011V1155H1006ZM877 1155H882V1160H877ZM949 1155H954V1160H949ZM1022 1155H1027V1160H1022ZM1068 1202H1073V1207H1068ZM1073 1207H1078V1212H1073ZM846 1310H851V1315H846ZM856 1341H861V1346H856ZM1089 1352H1094V1357H1089ZM872 1434H877V1439H872ZM877 1450H882V1455H877ZM1084 1455H1089V1460H1084ZM877 1496H882V1501H877ZM1047 1517H1053V1522H1047ZM1053 1548H1058V1553H1053ZM954 1646H965V1651H954ZM856 1667H861V1672H856ZM944 1718H949V1724H944ZM934 1729H939V1734H934ZM882 1734H887V1739H882Z"/>
<path fill="#000004" d="M794 1109H799V1114H794ZM799 1160H805V1166H799ZM882 1160H887V1166H882ZM923 1160H929V1166H923ZM882 1171H887V1176H882ZM851 1181H856V1186H851ZM949 1145H954V1150H949ZM954 1150H960V1155H954ZM882 1155H887V1160H882ZM913 1155H918V1160H913ZM934 1155H939V1160H934ZM882 1166H887V1171H882ZM856 1176H861V1181H856ZM846 1186H851V1191H846ZM1053 1186H1058V1191H1053ZM841 1191H846V1197H841ZM1073 1191H1078V1197H1073ZM836 1197H841V1202H836ZM1068 1197H1078V1202H1068ZM805 1202H810V1207H805ZM1078 1217H1084V1222H1078ZM1084 1264H1094V1269H1084ZM1089 1269H1094V1274H1089ZM1089 1274H1094V1279H1089ZM1089 1279H1094V1284H1089ZM846 1300H851V1305H846ZM846 1315H851V1321H846ZM846 1321H851V1326H846ZM851 1331H856V1336H851ZM851 1336H856V1341H851ZM851 1341H856V1346H851ZM851 1346H856V1352H851ZM851 1352H856V1357H851ZM851 1357H856V1362H851ZM851 1367H856V1372H851ZM851 1372H856V1377H851ZM856 1383H861V1388H856ZM856 1388H861V1393H856ZM856 1393H861V1398H856ZM1084 1419H1089V1424H1084ZM877 1455H882V1460H877ZM877 1460H882V1465H877ZM877 1465H882V1470H877ZM877 1470H882V1476H877ZM877 1476H882V1481H877ZM877 1481H882V1486H877ZM877 1486H882V1491H877ZM877 1501H882V1507H877ZM1115 1501H1120V1507H1115ZM877 1507H882V1512H877ZM872 1512H877V1517H872ZM867 1517H872V1522H867ZM867 1522H872V1527H867ZM1078 1522H1084V1527H1078ZM867 1527H872V1532H867ZM1084 1527H1089V1532H1084ZM867 1532H872V1538H867ZM867 1553H872V1558H867ZM867 1558H872V1563H867ZM867 1563H872V1569H867ZM867 1569H872V1574H867ZM867 1579H872V1584H867ZM1011 1584H1016V1589H1011ZM1032 1584H1042V1589H1032ZM856 1600H861V1605H856ZM856 1605H861V1610H856ZM856 1610H861V1615H856ZM980 1610H985V1615H980ZM856 1620H861V1625H856ZM965 1625H975V1631H965ZM965 1631H975V1636H965ZM856 1646H861V1651H856ZM960 1651H970V1656H960ZM846 1687H856V1693H846ZM856 1698H861V1703H856ZM939 1698H944V1703H939ZM944 1708H949V1713H944ZM867 1713H872V1718H867ZM944 1713H949V1718H944ZM892 1729H898V1734H892ZM939 1729H944V1734H939ZM872 1734H877V1739H872ZM887 1734H892V1739H887ZM939 1734H944V1739H939ZM939 1739H944V1744H939ZM934 1749H939V1755H934ZM923 1755H939V1760H923Z"/></g>
<use xlink:href="#grat" href="#grat" x="782" y="1080"/>
<use xlink:href="#coast" href="#coast" x="782" y="1080"/>
<rect x="782" y="1080" width="375" height="700" fill="none" stroke="#000" stroke-width="2.2"/>
</g>
<g id="panel-e">
<clipPath id="clip-e"><rect x="1263" y="1080" width="375" height="700"/></clipPath>
<g clip-path="url(#clip-e)" shape-rendering="crispEdges"><path fill="#fcfdbf" d="M1379 1160H1389V1166H1379ZM1441 1160H1466V1166H1441ZM1379 1171H1399V1176H1379ZM1425 1171H1508V1176H1425ZM1384 1181H1508V1186H1384ZM1466 1119H1472V1124H1466ZM1446 1145H1461V1150H1446ZM1368 1150H1379V1155H1368ZM1441 1150H1461V1155H1441ZM1373 1155H1384V1160H1373ZM1441 1155H1466V1160H1441ZM1379 1166H1394V1171H1379ZM1425 1166H1477V1171H1425ZM1384 1176H1410V1181H1384ZM1420 1176H1508V1181H1420ZM1384 1186H1508V1191H1384ZM1384 1191H1508V1197H1384ZM1384 1197H1508V1202H1384ZM1280 1202H1286V1207H1280ZM1363 1202H1508V1207H1363ZM1280 1207H1286V1212H1280ZM1358 1207H1508V1212H1358ZM1565 1207H1570V1212H1565ZM1291 1212H1301V1217H1291ZM1353 1212H1513V1217H1353ZM1296 1217H1322V1222H1296ZM1348 1217H1513V1222H1348ZM1296 1222H1337V1228H1296ZM1342 1222H1518V1228H1342ZM1311 1228H1518V1233H1311ZM1311 1233H1518V1238H1311ZM1317 1238H1518V1243H1317ZM1322 1243H1518V1248H1322ZM1317 1248H1528V1253H1317ZM1291 1253H1544V1259H1291ZM1291 1259H1544V1264H1291ZM1301 1264H1544V1269H1301ZM1311 1269H1554V1274H1311ZM1322 1274H1549V1279H1322ZM1327 1279H1554V1284H1327ZM1337 1284H1554V1290H1337ZM1337 1290H1549V1295H1337ZM1342 1295H1549V1300H1342ZM1342 1300H1565V1305H1342ZM1348 1305H1570V1310H1348ZM1348 1310H1580V1315H1348ZM1348 1315H1580V1321H1348ZM1353 1321H1580V1326H1353ZM1353 1326H1585V1331H1353ZM1358 1331H1565V1336H1358ZM1580 1331H1585V1336H1580ZM1358 1336H1570V1341H1358ZM1358 1341H1559V1346H1358ZM1358 1346H1559V1352H1358ZM1353 1352H1559V1357H1353ZM1353 1357H1554V1362H1353ZM1353 1362H1549V1367H1353ZM1559 1362H1565V1367H1559ZM1353 1367H1549V1372H1353ZM1358 1372H1544V1377H1358ZM1358 1377H1549V1383H1358ZM1363 1383H1554V1388H1363ZM1358 1388H1549V1393H1358ZM1358 1393H1559V1398H1358ZM1358 1398H1554V1403H1358ZM1358 1403H1559V1408H1358ZM1358 1408H1570V1414H1358ZM1575 1408H1580V1414H1575ZM1353 1414H1549V1419H1353ZM1358 1419H1549V1424H1358ZM1580 1419H1590V1424H1580ZM1368 1424H1544V1429H1368ZM1373 1429H1544V1434H1373ZM1373 1434H1554V1439H1373ZM1580 1434H1585V1439H1580ZM1368 1439H1554V1445H1368ZM1373 1445H1554V1450H1373ZM1373 1450H1554V1455H1373ZM1379 1455H1554V1460H1379ZM1379 1460H1554V1465H1379ZM1379 1465H1554V1470H1379ZM1559 1465H1565V1470H1559ZM1606 1465H1611V1470H1606ZM1384 1470H1549V1476H1384ZM1590 1470H1606V1476H1590ZM1384 1476H1570V1481H1384ZM1384 1481H1590V1486H1384ZM1384 1486H1596V1491H1384ZM1384 1491H1559V1496H1384ZM1565 1491H1590V1496H1565ZM1389 1496H1549V1501H1389ZM1565 1496H1585V1501H1565ZM1389 1501H1554V1507H1389ZM1394 1507H1528V1512H1394ZM1539 1507H1554V1512H1539ZM1559 1507H1570V1512H1559ZM1394 1512H1523V1517H1394ZM1539 1512H1549V1517H1539ZM1394 1517H1523V1522H1394ZM1399 1522H1523V1527H1399ZM1399 1527H1528V1532H1399ZM1399 1532H1528V1538H1399ZM1399 1538H1523V1543H1399ZM1394 1543H1518V1548H1394ZM1394 1548H1518V1553H1394ZM1394 1553H1518V1558H1394ZM1394 1558H1518V1563H1394ZM1528 1558H1534V1563H1528ZM1394 1563H1518V1569H1394ZM1394 1569H1518V1574H1394ZM1394 1574H1477V1579H1394ZM1497 1574H1503V1579H1497ZM1389 1579H1472V1584H1389ZM1389 1584H1466V1589H1389ZM1389 1589H1466V1594H1389ZM1389 1594H1466V1600H1389ZM1384 1600H1451V1605H1384ZM1384 1605H1446V1610H1384ZM1379 1610H1441V1615H1379ZM1379 1615H1435V1620H1379ZM1373 1620H1435V1625H1373ZM1373 1625H1435V1631H1373ZM1368 1631H1435V1636H1368ZM1363 1636H1435V1641H1363ZM1363 1641H1435V1646H1363ZM1368 1646H1430V1651H1368ZM1451 1646H1456V1651H1451ZM1368 1651H1430V1656H1368ZM1451 1651H1456V1656H1451ZM1368 1656H1430V1662H1368ZM1451 1656H1456V1662H1451ZM1368 1662H1430V1667H1368ZM1373 1667H1425V1672H1373ZM1368 1672H1420V1677H1368ZM1363 1677H1420V1682H1363ZM1358 1682H1415V1687H1358ZM1358 1687H1410V1693H1358ZM1373 1693H1410V1698H1373ZM1373 1698H1410V1703H1373ZM1373 1703H1410V1708H1373ZM1373 1708H1415V1713H1373ZM1373 1713H1415V1718H1373ZM1389 1718H1404V1724H1389ZM1399 1724H1404V1729H1399ZM1425 1724H1430V1729H1425ZM1399 1729H1404V1734H1399ZM1399 1765H1404V1770H1399Z"/>
<path fill="#fde3a5" d="M1466 1160H1472V1166H1466ZM1461 1124H1466V1129H1461ZM1461 1145H1466V1150H1461ZM1461 1150H1466V1155H1461ZM1379 1176H1384V1181H1379ZM1415 1176H1420V1181H1415ZM1358 1202H1363V1207H1358ZM1286 1207H1291V1212H1286ZM1353 1207H1358V1212H1353ZM1301 1212H1306V1217H1301ZM1513 1217H1518V1222H1513ZM1337 1222H1342V1228H1337ZM1306 1228H1311V1233H1306ZM1317 1243H1322V1248H1317ZM1518 1243H1523V1248H1518ZM1534 1248H1539V1253H1534ZM1332 1284H1337V1290H1332ZM1337 1295H1342V1300H1337ZM1353 1331H1358V1336H1353ZM1565 1331H1570V1336H1565ZM1353 1346H1358V1352H1353ZM1565 1388H1570V1393H1565ZM1348 1403H1353V1408H1348ZM1368 1434H1373V1439H1368ZM1373 1455H1379V1460H1373ZM1379 1470H1384V1476H1379ZM1549 1470H1554V1476H1549ZM1565 1501H1570V1507H1565ZM1389 1507H1394V1512H1389ZM1394 1522H1399V1527H1394ZM1394 1527H1399V1532H1394ZM1394 1532H1399V1538H1394ZM1394 1538H1399V1543H1394ZM1523 1538H1528V1543H1523ZM1389 1543H1394V1548H1389ZM1389 1548H1394V1553H1389ZM1389 1553H1394V1558H1389ZM1389 1558H1394V1563H1389ZM1389 1563H1394V1569H1389ZM1389 1569H1394V1574H1389ZM1389 1574H1394V1579H1389ZM1384 1584H1389V1589H1384ZM1384 1589H1389V1594H1384ZM1384 1594H1389V1600H1384ZM1466 1594H1472V1600H1466ZM1379 1600H1384V1605H1379ZM1451 1600H1456V1605H1451ZM1379 1605H1384V1610H1379ZM1446 1605H1451V1610H1446ZM1373 1610H1379V1615H1373ZM1441 1610H1446V1615H1441ZM1373 1615H1379V1620H1373ZM1435 1615H1441V1620H1435ZM1368 1620H1373V1625H1368ZM1363 1625H1373V1631H1363ZM1363 1631H1368V1636H1363ZM1358 1636H1363V1641H1358ZM1435 1636H1441V1641H1435ZM1358 1641H1363V1646H1358ZM1363 1646H1368V1651H1363ZM1368 1667H1373V1672H1368ZM1363 1672H1368V1677H1363ZM1420 1672H1425V1677H1420ZM1358 1677H1363V1682H1358ZM1353 1682H1358V1687H1353ZM1358 1693H1373V1698H1358ZM1368 1698H1373V1703H1368ZM1368 1708H1373V1713H1368ZM1368 1713H1373V1718H1368Z"/>
<path fill="#feca8d" d="M1565 1129H1570V1135H1565ZM1477 1166H1482V1171H1477ZM1410 1176H1415V1181H1410ZM1363 1197H1368V1202H1363ZM1348 1212H1353V1217H1348ZM1518 1222H1523V1228H1518ZM1518 1228H1523V1233H1518ZM1518 1233H1523V1238H1518ZM1518 1238H1523V1243H1518ZM1528 1248H1534V1253H1528ZM1539 1248H1544V1253H1539ZM1332 1290H1337V1295H1332ZM1580 1315H1585V1321H1580ZM1353 1336H1358V1341H1353ZM1353 1341H1358V1346H1353ZM1565 1341H1570V1346H1565ZM1353 1372H1358V1377H1353ZM1358 1383H1363V1388H1358ZM1549 1388H1554V1393H1549ZM1559 1414H1565V1419H1559ZM1601 1465H1606V1470H1601ZM1379 1476H1384V1481H1379ZM1379 1481H1384V1486H1379ZM1590 1491H1596V1496H1590ZM1384 1496H1389V1501H1384ZM1585 1496H1590V1501H1585ZM1389 1538H1394V1543H1389ZM1466 1584H1472V1589H1466ZM1466 1589H1472V1594H1466ZM1379 1594H1384V1600H1379ZM1373 1605H1379V1610H1373ZM1451 1605H1456V1610H1451ZM1446 1610H1451V1615H1446ZM1368 1615H1373V1620H1368ZM1441 1615H1446V1620H1441ZM1435 1620H1441V1625H1435ZM1435 1631H1441V1636H1435ZM1430 1646H1435V1651H1430ZM1363 1651H1368V1656H1363ZM1430 1651H1435V1656H1430ZM1363 1662H1368V1667H1363ZM1363 1667H1368V1672H1363ZM1425 1667H1430V1672H1425ZM1353 1687H1358V1693H1353ZM1368 1703H1373V1708H1368ZM1373 1718H1389V1724H1373ZM1404 1718H1410V1724H1404ZM1404 1724H1410V1729H1404ZM1404 1729H1410V1734H1404ZM1399 1734H1404V1739H1399ZM1399 1739H1404V1744H1399ZM1399 1744H1404V1749H1399Z"/>
<path fill="#feb078" d="M1508 1197H1513V1202H1508ZM1549 1274H1554V1279H1549ZM1549 1295H1554V1300H1549ZM1544 1372H1549V1377H1544ZM1554 1450H1559V1455H1554ZM1549 1496H1554V1501H1549Z"/>
<path fill="#fd9668" d="M1373 1160H1379V1166H1373ZM1472 1160H1477V1166H1472ZM1559 1140H1565V1145H1559ZM1559 1145H1565V1150H1559ZM1373 1166H1379V1171H1373ZM1508 1176H1513V1181H1508ZM1508 1186H1513V1191H1508ZM1508 1191H1513V1197H1508ZM1358 1197H1363V1202H1358ZM1379 1197H1384V1202H1379ZM1306 1212H1311V1217H1306ZM1322 1217H1327V1222H1322ZM1342 1217H1348V1222H1342ZM1322 1279H1327V1284H1322ZM1342 1305H1348V1310H1342ZM1348 1321H1353V1326H1348ZM1353 1408H1358V1414H1353ZM1353 1419H1358V1424H1353ZM1575 1434H1580V1439H1575ZM1368 1445H1373V1450H1368ZM1368 1450H1373V1455H1368ZM1368 1455H1373V1460H1368ZM1373 1460H1379V1465H1373ZM1590 1476H1596V1481H1590ZM1379 1486H1384V1491H1379ZM1379 1491H1384V1496H1379ZM1575 1507H1580V1512H1575ZM1389 1512H1394V1517H1389ZM1544 1517H1549V1522H1544ZM1389 1522H1394V1527H1389ZM1518 1543H1523V1548H1518ZM1384 1553H1389V1558H1384ZM1518 1553H1523V1558H1518ZM1384 1558H1389V1563H1384ZM1384 1563H1389V1569H1384ZM1384 1574H1389V1579H1384ZM1477 1574H1482V1579H1477ZM1492 1574H1497V1579H1492ZM1384 1579H1389V1584H1384ZM1472 1579H1477V1584H1472ZM1379 1584H1384V1589H1379ZM1379 1589H1384V1594H1379ZM1373 1600H1379V1605H1373ZM1456 1600H1472V1605H1456ZM1368 1610H1373V1615H1368ZM1363 1620H1368V1625H1363ZM1435 1625H1441V1631H1435ZM1358 1631H1363V1636H1358ZM1358 1646H1363V1651H1358ZM1363 1656H1368V1662H1363ZM1430 1656H1435V1662H1430ZM1358 1667H1363V1672H1358ZM1410 1687H1415V1693H1410ZM1363 1698H1368V1703H1363ZM1410 1703H1415V1708H1410ZM1394 1724H1399V1729H1394ZM1394 1734H1399V1739H1394ZM1394 1744H1399V1749H1394ZM1399 1749H1404V1755H1399Z"/>
<path fill="#f97b5d" d="M1477 1160H1482V1166H1477ZM1399 1171H1425V1176H1399ZM1508 1171H1513V1176H1508ZM1508 1181H1513V1186H1508ZM1466 1124H1472V1129H1466ZM1559 1135H1570V1140H1559ZM1466 1150H1472V1155H1466ZM1554 1150H1559V1155H1554ZM1466 1155H1477V1160H1466ZM1554 1155H1559V1160H1554ZM1394 1166H1410V1171H1394ZM1482 1166H1487V1171H1482ZM1492 1166H1508V1171H1492ZM1368 1191H1384V1197H1368ZM1513 1191H1518V1197H1513ZM1368 1197H1379V1202H1368ZM1513 1197H1518V1202H1513ZM1353 1202H1358V1207H1353ZM1508 1202H1518V1207H1508ZM1332 1207H1353V1212H1332ZM1508 1207H1518V1212H1508ZM1322 1212H1348V1217H1322ZM1513 1212H1518V1217H1513ZM1291 1217H1296V1222H1291ZM1327 1217H1342V1222H1327ZM1523 1243H1528V1248H1523ZM1311 1248H1317V1253H1311ZM1544 1248H1549V1253H1544ZM1317 1274H1322V1279H1317ZM1332 1295H1337V1300H1332ZM1342 1310H1348V1315H1342ZM1342 1315H1348V1321H1342ZM1348 1352H1353V1357H1348ZM1353 1377H1358V1383H1353ZM1353 1403H1358V1408H1353ZM1342 1408H1348V1414H1342ZM1358 1429H1363V1434H1358ZM1368 1429H1373V1434H1368ZM1363 1445H1368V1450H1363ZM1373 1465H1379V1470H1373ZM1373 1470H1379V1476H1373ZM1379 1496H1384V1501H1379ZM1384 1501H1389V1507H1384ZM1534 1512H1539V1517H1534ZM1549 1512H1554V1517H1549ZM1565 1512H1570V1517H1565ZM1389 1517H1394V1522H1389ZM1523 1522H1528V1527H1523ZM1389 1527H1394V1532H1389ZM1389 1532H1394V1538H1389ZM1384 1538H1389V1543H1384ZM1384 1543H1389V1548H1384ZM1384 1548H1389V1553H1384ZM1379 1553H1384V1558H1379ZM1379 1558H1384V1563H1379ZM1384 1569H1389V1574H1384ZM1503 1574H1508V1579H1503ZM1379 1579H1384V1584H1379ZM1373 1594H1379V1600H1373ZM1368 1605H1373V1610H1368ZM1363 1615H1368V1620H1363ZM1358 1620H1363V1625H1358ZM1358 1625H1363V1631H1358ZM1358 1651H1363V1656H1358ZM1358 1662H1363V1667H1358ZM1358 1672H1363V1677H1358ZM1353 1677H1358V1682H1353ZM1348 1682H1353V1687H1348ZM1410 1698H1415V1703H1410ZM1363 1713H1368V1718H1363ZM1358 1718H1373V1724H1358Z"/>
<path fill="#f1605d" d="M1487 1109H1492V1114H1487ZM1389 1160H1394V1166H1389ZM1430 1160H1441V1166H1430ZM1482 1160H1487V1166H1482ZM1379 1181H1384V1186H1379ZM1513 1181H1518V1186H1513ZM1441 1124H1446V1129H1441ZM1570 1129H1575V1135H1570ZM1368 1155H1373V1160H1368ZM1477 1155H1482V1160H1477ZM1420 1166H1425V1171H1420ZM1487 1166H1492V1171H1487ZM1358 1186H1384V1191H1358ZM1513 1186H1518V1191H1513ZM1353 1191H1368V1197H1353ZM1518 1191H1523V1197H1518ZM1342 1197H1358V1202H1342ZM1518 1197H1523V1202H1518ZM1332 1202H1353V1207H1332ZM1518 1202H1523V1207H1518ZM1322 1207H1332V1212H1322ZM1518 1207H1523V1212H1518ZM1311 1212H1322V1217H1311ZM1518 1212H1523V1217H1518ZM1518 1217H1528V1222H1518ZM1523 1222H1528V1228H1523ZM1523 1228H1528V1233H1523ZM1523 1233H1528V1238H1523ZM1523 1238H1528V1243H1523ZM1280 1243H1286V1248H1280ZM1311 1243H1317V1248H1311ZM1528 1243H1534V1248H1528ZM1544 1243H1549V1248H1544ZM1306 1248H1311V1253H1306ZM1544 1253H1549V1259H1544ZM1544 1259H1549V1264H1544ZM1296 1264H1301V1269H1296ZM1544 1264H1549V1269H1544ZM1327 1284H1332V1290H1327ZM1549 1290H1554V1295H1549ZM1337 1300H1342V1305H1337ZM1570 1305H1575V1310H1570ZM1342 1321H1348V1326H1342ZM1348 1326H1353V1331H1348ZM1570 1331H1575V1336H1570ZM1570 1336H1575V1341H1570ZM1559 1341H1565V1346H1559ZM1348 1346H1353V1352H1348ZM1348 1357H1353V1362H1348ZM1348 1362H1353V1367H1348ZM1570 1367H1575V1372H1570ZM1348 1372H1353V1377H1348ZM1554 1372H1559V1377H1554ZM1353 1398H1358V1403H1353ZM1348 1408H1353V1414H1348ZM1565 1414H1570V1419H1565ZM1363 1439H1368V1445H1363ZM1585 1445H1590V1450H1585ZM1580 1450H1585V1455H1580ZM1596 1465H1601V1470H1596ZM1611 1465H1616V1470H1611ZM1559 1470H1565V1476H1559ZM1585 1470H1590V1476H1585ZM1373 1476H1379V1481H1373ZM1570 1476H1575V1481H1570ZM1585 1476H1590V1481H1585ZM1373 1481H1379V1486H1373ZM1590 1481H1596V1486H1590ZM1373 1486H1379V1491H1373ZM1596 1486H1601V1491H1596ZM1373 1491H1379V1496H1373ZM1559 1491H1565V1496H1559ZM1590 1496H1596V1501H1590ZM1384 1507H1389V1512H1384ZM1570 1507H1575V1512H1570ZM1384 1512H1389V1517H1384ZM1523 1512H1528V1517H1523ZM1570 1512H1575V1517H1570ZM1539 1517H1544V1522H1539ZM1384 1522H1389V1527H1384ZM1384 1527H1389V1532H1384ZM1384 1532H1389V1538H1384ZM1528 1532H1534V1538H1528ZM1379 1543H1384V1548H1379ZM1379 1548H1384V1553H1379ZM1518 1548H1523V1553H1518ZM1518 1558H1523V1563H1518ZM1379 1563H1384V1569H1379ZM1518 1563H1523V1569H1518ZM1379 1569H1384V1574H1379ZM1379 1574H1384V1579H1379ZM1487 1574H1492V1579H1487ZM1487 1579H1492V1584H1487ZM1373 1584H1379V1589H1373ZM1373 1589H1379V1594H1373ZM1368 1594H1373V1600H1368ZM1472 1594H1477V1600H1472ZM1368 1600H1373V1605H1368ZM1363 1610H1368V1615H1363ZM1451 1610H1456V1615H1451ZM1358 1615H1363V1620H1358ZM1446 1615H1451V1620H1446ZM1353 1631H1358V1636H1353ZM1353 1636H1358V1641H1353ZM1353 1641H1358V1646H1353ZM1435 1641H1441V1646H1435ZM1353 1656H1363V1662H1353ZM1353 1662H1358V1667H1353ZM1353 1667H1358V1672H1353ZM1353 1672H1358V1677H1353ZM1420 1677H1425V1682H1420ZM1415 1682H1420V1687H1415ZM1348 1687H1353V1693H1348ZM1353 1693H1358V1698H1353ZM1358 1698H1363V1703H1358ZM1363 1703H1368V1708H1363ZM1363 1708H1368V1713H1363ZM1415 1708H1420V1713H1415ZM1389 1724H1394V1729H1389ZM1394 1739H1399V1744H1394Z"/>
<path fill="#cd4071" d="M1425 1160H1430V1166H1425ZM1487 1160H1492V1166H1487ZM1518 1186H1523V1191H1518ZM1348 1191H1353V1197H1348ZM1286 1212H1291V1217H1286ZM1523 1212H1528V1217H1523ZM1528 1222H1534V1228H1528ZM1528 1228H1534V1233H1528ZM1528 1233H1534V1238H1528ZM1528 1238H1539V1243H1528ZM1544 1238H1549V1243H1544ZM1534 1243H1539V1248H1534ZM1348 1341H1353V1346H1348ZM1348 1367H1353V1372H1348ZM1353 1383H1358V1388H1353ZM1368 1460H1373V1465H1368ZM1606 1470H1611V1476H1606ZM1570 1501H1575V1507H1570ZM1384 1517H1389V1522H1384ZM1549 1517H1554V1522H1549ZM1528 1527H1534V1532H1528ZM1379 1538H1384V1543H1379ZM1528 1538H1534V1543H1528ZM1518 1569H1523V1574H1518ZM1373 1574H1379V1579H1373ZM1317 1579H1322V1584H1317ZM1373 1579H1379V1584H1373ZM1477 1579H1482V1584H1477ZM1363 1605H1368V1610H1363ZM1456 1605H1461V1610H1456ZM1353 1620H1358V1625H1353ZM1353 1625H1358V1631H1353ZM1353 1646H1358V1651H1353ZM1348 1667H1353V1672H1348ZM1348 1672H1353V1677H1348ZM1348 1693H1353V1698H1348ZM1358 1703H1363V1708H1358ZM1358 1708H1363V1713H1358ZM1358 1713H1363V1718H1358ZM1358 1724H1363V1729H1358Z"/>
<path fill="#b73779" d="M1492 1109H1497V1114H1492ZM1492 1160H1503V1166H1492ZM1373 1171H1379V1176H1373ZM1368 1181H1379V1186H1368ZM1456 1119H1461V1124H1456ZM1446 1129H1451V1135H1446ZM1461 1129H1466V1135H1461ZM1466 1145H1472V1150H1466ZM1554 1145H1559V1150H1554ZM1410 1166H1420V1171H1410ZM1508 1166H1513V1171H1508ZM1373 1176H1379V1181H1373ZM1513 1176H1518V1181H1513ZM1348 1186H1358V1191H1348ZM1342 1191H1348V1197H1342ZM1523 1191H1528V1197H1523ZM1332 1197H1342V1202H1332ZM1523 1197H1539V1202H1523ZM1317 1202H1332V1207H1317ZM1523 1202H1539V1207H1523ZM1301 1207H1306V1212H1301ZM1311 1207H1322V1212H1311ZM1523 1207H1534V1212H1523ZM1528 1212H1539V1217H1528ZM1528 1217H1549V1222H1528ZM1534 1222H1549V1228H1534ZM1534 1228H1549V1233H1534ZM1534 1233H1549V1238H1534ZM1311 1238H1317V1243H1311ZM1539 1238H1544V1243H1539ZM1539 1243H1544V1248H1539ZM1549 1243H1554V1248H1549ZM1301 1248H1306V1253H1301ZM1549 1248H1554V1253H1549ZM1286 1253H1291V1259H1286ZM1549 1253H1554V1259H1549ZM1275 1259H1291V1264H1275ZM1549 1259H1554V1264H1549ZM1466 1114H1472V1119H1466ZM1291 1264H1296V1269H1291ZM1549 1264H1554V1269H1549ZM1306 1269H1311V1274H1306ZM1327 1290H1332V1295H1327ZM1575 1290H1580V1295H1575ZM1554 1295H1559V1300H1554ZM1337 1310H1342V1315H1337ZM1337 1315H1342V1321H1337ZM1337 1321H1342V1326H1337ZM1342 1326H1348V1331H1342ZM1348 1331H1353V1336H1348ZM1575 1331H1580V1336H1575ZM1348 1336H1353V1341H1348ZM1575 1336H1580V1341H1575ZM1570 1341H1575V1346H1570ZM1559 1346H1565V1352H1559ZM1342 1352H1348V1357H1342ZM1559 1352H1565V1357H1559ZM1342 1357H1348V1362H1342ZM1554 1357H1559V1362H1554ZM1342 1362H1348V1367H1342ZM1549 1362H1554V1367H1549ZM1342 1367H1348V1372H1342ZM1549 1367H1554V1372H1549ZM1342 1372H1348V1377H1342ZM1348 1377H1353V1383H1348ZM1353 1388H1358V1393H1353ZM1353 1393H1358V1398H1353ZM1544 1424H1549V1429H1544ZM1353 1429H1358V1434H1353ZM1544 1429H1549V1434H1544ZM1559 1445H1565V1450H1559ZM1363 1450H1368V1455H1363ZM1363 1455H1368V1460H1363ZM1368 1465H1373V1470H1368ZM1368 1470H1373V1476H1368ZM1554 1470H1559V1476H1554ZM1580 1476H1585V1481H1580ZM1368 1486H1373V1491H1368ZM1368 1491H1373V1496H1368ZM1596 1491H1601V1496H1596ZM1373 1496H1379V1501H1373ZM1379 1501H1384V1507H1379ZM1580 1501H1585V1507H1580ZM1379 1507H1384V1512H1379ZM1379 1512H1384V1517H1379ZM1559 1512H1565V1517H1559ZM1379 1517H1384V1522H1379ZM1523 1517H1528V1522H1523ZM1379 1522H1384V1527H1379ZM1379 1527H1384V1532H1379ZM1379 1532H1384V1538H1379ZM1373 1538H1379V1543H1373ZM1373 1543H1379V1548H1373ZM1373 1548H1379V1553H1373ZM1373 1553H1379V1558H1373ZM1373 1558H1379V1563H1373ZM1373 1563H1379V1569H1373ZM1373 1569H1379V1574H1373ZM1513 1574H1518V1579H1513ZM1322 1579H1327V1584H1322ZM1503 1579H1513V1584H1503ZM1317 1584H1322V1589H1317ZM1368 1584H1373V1589H1368ZM1327 1589H1332V1594H1327ZM1368 1589H1373V1594H1368ZM1363 1594H1368V1600H1363ZM1363 1600H1368V1605H1363ZM1472 1600H1477V1605H1472ZM1353 1610H1363V1615H1353ZM1348 1615H1358V1620H1348ZM1451 1615H1456V1620H1451ZM1348 1620H1353V1625H1348ZM1441 1620H1446V1625H1441ZM1348 1625H1353V1631H1348ZM1348 1636H1353V1641H1348ZM1441 1636H1446V1641H1441ZM1348 1641H1353V1646H1348ZM1441 1641H1446V1646H1441ZM1353 1651H1358V1656H1353ZM1435 1656H1441V1662H1435ZM1430 1662H1435V1667H1430ZM1342 1667H1348V1672H1342ZM1430 1667H1435V1672H1430ZM1342 1672H1348V1677H1342ZM1425 1672H1430V1677H1425ZM1348 1677H1353V1682H1348ZM1342 1682H1348V1687H1342ZM1342 1687H1348V1693H1342ZM1410 1693H1415V1698H1410ZM1348 1698H1358V1703H1348ZM1415 1713H1420V1718H1415ZM1363 1724H1368V1729H1363ZM1373 1724H1379V1729H1373ZM1404 1734H1410V1739H1404Z"/>
<path fill="#a02f7f" d="M1394 1160H1404V1166H1394ZM1420 1160H1425V1166H1420ZM1503 1160H1508V1166H1503ZM1265 1171H1270V1176H1265ZM1358 1181H1368V1186H1358ZM1518 1181H1523V1186H1518ZM1565 1181H1570V1186H1565ZM1565 1124H1575V1129H1565ZM1446 1140H1466V1145H1446ZM1554 1140H1559V1145H1554ZM1565 1140H1570V1145H1565ZM1549 1145H1554V1150H1549ZM1472 1150H1477V1155H1472ZM1559 1150H1565V1155H1559ZM1384 1155H1389V1160H1384ZM1565 1166H1570V1171H1565ZM1368 1176H1373V1181H1368ZM1342 1186H1348V1191H1342ZM1337 1191H1342V1197H1337ZM1528 1191H1534V1197H1528ZM1322 1197H1332V1202H1322ZM1275 1202H1280V1207H1275ZM1306 1207H1311V1212H1306ZM1534 1207H1544V1212H1534ZM1539 1212H1549V1217H1539ZM1286 1217H1291V1222H1286ZM1291 1222H1296V1228H1291ZM1549 1222H1554V1228H1549ZM1549 1228H1554V1233H1549ZM1549 1233H1554V1238H1549ZM1549 1238H1554V1243H1549ZM1275 1243H1280V1248H1275ZM1306 1243H1311V1248H1306ZM1311 1274H1317V1279H1311ZM1554 1284H1559V1290H1554ZM1565 1300H1575V1305H1565ZM1337 1305H1342V1310H1337ZM1580 1321H1585V1326H1580ZM1342 1331H1348V1336H1342ZM1342 1336H1348V1341H1342ZM1342 1341H1348V1346H1342ZM1342 1346H1348V1352H1342ZM1554 1362H1559V1367H1554ZM1549 1372H1554V1377H1549ZM1342 1377H1348V1383H1342ZM1348 1383H1353V1388H1348ZM1348 1388H1353V1393H1348ZM1554 1388H1559V1393H1554ZM1348 1393H1353V1398H1348ZM1348 1398H1353V1403H1348ZM1554 1398H1559V1403H1554ZM1559 1403H1565V1408H1559ZM1549 1414H1554V1419H1549ZM1549 1419H1554V1424H1549ZM1363 1429H1368V1434H1363ZM1554 1429H1559V1434H1554ZM1363 1434H1368V1439H1363ZM1580 1439H1585V1445H1580ZM1358 1445H1363V1450H1358ZM1554 1445H1559V1450H1554ZM1559 1450H1565V1455H1559ZM1554 1455H1559V1460H1554ZM1554 1460H1559V1465H1554ZM1601 1460H1611V1465H1601ZM1554 1465H1559V1470H1554ZM1368 1476H1373V1481H1368ZM1596 1476H1601V1481H1596ZM1363 1491H1368V1496H1363ZM1559 1496H1565V1501H1559ZM1596 1496H1601V1501H1596ZM1534 1507H1539V1512H1534ZM1373 1512H1379V1517H1373ZM1373 1517H1379V1522H1373ZM1373 1522H1379V1527H1373ZM1544 1522H1554V1527H1544ZM1373 1527H1379V1532H1373ZM1368 1532H1379V1538H1368ZM1368 1538H1373V1543H1368ZM1368 1543H1373V1548H1368ZM1523 1543H1528V1548H1523ZM1368 1548H1373V1553H1368ZM1523 1548H1528V1553H1523ZM1368 1553H1373V1558H1368ZM1523 1553H1528V1558H1523ZM1368 1558H1373V1563H1368ZM1368 1563H1373V1569H1368ZM1368 1569H1373V1574H1368ZM1368 1574H1373V1579H1368ZM1482 1574H1487V1579H1482ZM1311 1579H1317V1584H1311ZM1368 1579H1373V1584H1368ZM1322 1584H1332V1589H1322ZM1472 1584H1477V1589H1472ZM1317 1589H1322V1594H1317ZM1332 1589H1337V1594H1332ZM1363 1589H1368V1594H1363ZM1497 1589H1503V1594H1497ZM1342 1594H1348V1600H1342ZM1358 1594H1363V1600H1358ZM1358 1600H1363V1605H1358ZM1353 1605H1363V1610H1353ZM1461 1605H1466V1610H1461ZM1342 1610H1353V1615H1342ZM1342 1615H1348V1620H1342ZM1342 1620H1348V1625H1342ZM1446 1620H1456V1625H1446ZM1348 1631H1353V1636H1348ZM1348 1651H1353V1656H1348ZM1327 1656H1332V1662H1327ZM1348 1656H1353V1662H1348ZM1441 1656H1446V1662H1441ZM1348 1662H1353V1667H1348ZM1446 1662H1451V1667H1446ZM1337 1677H1348V1682H1337ZM1342 1693H1348V1698H1342ZM1342 1698H1348V1703H1342ZM1353 1718H1358V1724H1353ZM1410 1718H1415V1724H1410ZM1353 1724H1358V1729H1353ZM1368 1724H1373V1729H1368ZM1379 1724H1384V1729H1379ZM1410 1724H1415V1729H1410ZM1358 1729H1363V1734H1358ZM1394 1729H1399V1734H1394ZM1394 1749H1399V1755H1394Z"/>
<path fill="#721f81" d="M1368 1160H1373V1166H1368ZM1415 1160H1420V1166H1415ZM1368 1171H1373V1176H1368ZM1513 1171H1518V1176H1513ZM1565 1171H1570V1176H1565ZM1260 1181H1270V1186H1260ZM1353 1181H1358V1186H1353ZM1441 1119H1446V1124H1441ZM1456 1124H1461V1129H1456ZM1472 1124H1477V1129H1472ZM1559 1124H1565V1129H1559ZM1441 1129H1446V1135H1441ZM1554 1129H1565V1135H1554ZM1575 1129H1580V1135H1575ZM1451 1135H1456V1140H1451ZM1503 1140H1508V1145H1503ZM1570 1140H1575V1145H1570ZM1368 1145H1373V1150H1368ZM1441 1145H1446V1150H1441ZM1565 1145H1570V1150H1565ZM1358 1150H1363V1155H1358ZM1379 1150H1384V1155H1379ZM1435 1155H1441V1160H1435ZM1492 1155H1497V1160H1492ZM1565 1176H1570V1181H1565ZM1337 1186H1342V1191H1337ZM1523 1186H1528V1191H1523ZM1332 1191H1337V1197H1332ZM1534 1191H1539V1197H1534ZM1311 1202H1317V1207H1311ZM1539 1202H1544V1207H1539ZM1275 1207H1280V1212H1275ZM1291 1207H1301V1212H1291ZM1544 1207H1549V1212H1544ZM1280 1212H1286V1217H1280ZM1549 1212H1554V1217H1549ZM1549 1217H1554V1222H1549ZM1554 1222H1559V1228H1554ZM1270 1233H1275V1238H1270ZM1306 1233H1311V1238H1306ZM1306 1238H1311V1243H1306ZM1554 1243H1559V1248H1554ZM1296 1248H1301V1253H1296ZM1554 1248H1559V1253H1554ZM1270 1264H1275V1269H1270ZM1291 1269H1296V1274H1291ZM1301 1269H1306V1274H1301ZM1322 1284H1327V1290H1322ZM1570 1290H1575V1295H1570ZM1559 1295H1565V1300H1559ZM1570 1295H1575V1300H1570ZM1332 1300H1337V1305H1332ZM1575 1305H1580V1310H1575ZM1337 1326H1342V1331H1337ZM1585 1331H1590V1336H1585ZM1337 1346H1342V1352H1337ZM1559 1357H1565V1362H1559ZM1565 1403H1575V1408H1565ZM1348 1414H1353V1419H1348ZM1363 1424H1368V1429H1363ZM1554 1434H1565V1439H1554ZM1358 1439H1363V1445H1358ZM1554 1439H1559V1445H1554ZM1559 1455H1565V1460H1559ZM1363 1460H1368V1465H1363ZM1596 1460H1601V1465H1596ZM1368 1481H1373V1486H1368ZM1368 1496H1373V1501H1368ZM1554 1496H1559V1501H1554ZM1373 1501H1379V1507H1373ZM1559 1501H1565V1507H1559ZM1575 1501H1580V1507H1575ZM1373 1507H1379V1512H1373ZM1528 1507H1534V1512H1528ZM1368 1517H1373V1522H1368ZM1368 1522H1373V1527H1368ZM1554 1522H1559V1527H1554ZM1368 1527H1373V1532H1368ZM1363 1532H1368V1538H1363ZM1534 1532H1539V1538H1534ZM1363 1538H1368V1543H1363ZM1534 1538H1539V1543H1534ZM1363 1543H1368V1548H1363ZM1528 1543H1534V1548H1528ZM1363 1548H1368V1553H1363ZM1358 1553H1368V1558H1358ZM1363 1558H1368V1563H1363ZM1523 1558H1528V1563H1523ZM1363 1563H1368V1569H1363ZM1523 1563H1528V1569H1523ZM1363 1569H1368V1574H1363ZM1363 1574H1368V1579H1363ZM1363 1579H1368V1584H1363ZM1363 1584H1368V1589H1363ZM1322 1589H1327V1594H1322ZM1348 1589H1353V1594H1348ZM1472 1589H1477V1594H1472ZM1311 1594H1317V1600H1311ZM1348 1594H1358V1600H1348ZM1348 1600H1358V1605H1348ZM1342 1605H1353V1610H1342ZM1466 1605H1477V1610H1466ZM1342 1625H1348V1631H1342ZM1348 1646H1353V1651H1348ZM1441 1662H1446V1667H1441ZM1337 1672H1342V1677H1337ZM1353 1703H1358V1708H1353ZM1415 1703H1420V1708H1415ZM1420 1708H1425V1713H1420ZM1353 1729H1358V1734H1353ZM1363 1729H1368V1734H1363ZM1410 1744H1415V1749H1410Z"/>
<path fill="#5c167f" d="M1410 1160H1415V1166H1410ZM1565 1160H1570V1166H1565ZM1342 1181H1353V1186H1342ZM1446 1135H1451V1140H1446ZM1570 1135H1575V1140H1570ZM1441 1140H1446V1145H1441ZM1466 1140H1472V1145H1466ZM1348 1150H1353V1155H1348ZM1492 1150H1497V1155H1492ZM1389 1155H1394V1160H1389ZM1482 1155H1492V1160H1482ZM1497 1155H1503V1160H1497ZM1368 1166H1373V1171H1368ZM1539 1166H1544V1171H1539ZM1363 1176H1368V1181H1363ZM1528 1186H1534V1191H1528ZM1327 1191H1332V1197H1327ZM1559 1197H1565V1202H1559ZM1549 1207H1554V1212H1549ZM1554 1212H1559V1217H1554ZM1565 1212H1570V1217H1565ZM1554 1217H1559V1222H1554ZM1280 1222H1286V1228H1280ZM1554 1233H1565V1238H1554ZM1275 1238H1280V1243H1275ZM1286 1248H1291V1253H1286ZM1559 1248H1565V1253H1559ZM1554 1253H1565V1259H1554ZM1559 1259H1565V1264H1559ZM1456 1114H1461V1119H1456ZM1275 1264H1291V1269H1275ZM1554 1264H1559V1269H1554ZM1275 1269H1286V1274H1275ZM1296 1269H1301V1274H1296ZM1317 1279H1322V1284H1317ZM1327 1295H1332V1300H1327ZM1575 1300H1580V1305H1575ZM1332 1310H1337V1315H1332ZM1332 1315H1337V1321H1332ZM1585 1326H1590V1331H1585ZM1337 1352H1342V1357H1337ZM1565 1352H1570V1357H1565ZM1337 1357H1342V1362H1337ZM1337 1362H1342V1367H1337ZM1337 1367H1342V1372H1337ZM1337 1372H1342V1377H1337ZM1337 1377H1342V1383H1337ZM1549 1377H1554V1383H1549ZM1342 1383H1348V1388H1342ZM1353 1424H1358V1429H1353ZM1549 1429H1554V1434H1549ZM1611 1460H1616V1465H1611ZM1363 1465H1368V1470H1363ZM1363 1470H1368V1476H1363ZM1575 1476H1580V1481H1575ZM1363 1486H1368V1491H1363ZM1554 1501H1559V1507H1554ZM1368 1507H1373V1512H1368ZM1363 1512H1373V1517H1363ZM1363 1517H1368V1522H1363ZM1554 1517H1559V1522H1554ZM1363 1522H1368V1527H1363ZM1363 1527H1368V1532H1363ZM1358 1532H1363V1538H1358ZM1358 1538H1363V1543H1358ZM1358 1543H1363V1548H1358ZM1358 1548H1363V1553H1358ZM1358 1558H1363V1563H1358ZM1358 1563H1363V1569H1358ZM1358 1569H1363V1574H1358ZM1358 1574H1363V1579H1358ZM1508 1574H1513V1579H1508ZM1518 1574H1523V1579H1518ZM1358 1579H1363V1584H1358ZM1353 1584H1363V1589H1353ZM1353 1589H1363V1594H1353ZM1342 1600H1348V1605H1342ZM1456 1610H1461V1615H1456ZM1441 1625H1446V1631H1441ZM1342 1631H1348V1636H1342ZM1441 1631H1446V1636H1441ZM1446 1641H1456V1646H1446ZM1342 1651H1348V1656H1342ZM1342 1656H1348V1662H1342ZM1446 1656H1451V1662H1446ZM1342 1662H1348V1667H1342ZM1337 1682H1342V1687H1337ZM1337 1687H1342V1693H1337ZM1415 1687H1420V1693H1415ZM1415 1698H1420V1703H1415ZM1348 1703H1353V1708H1348ZM1353 1708H1358V1713H1353ZM1353 1713H1358V1718H1353ZM1420 1713H1425V1718H1420ZM1415 1718H1420V1724H1415ZM1384 1724H1389V1729H1384ZM1410 1729H1415V1734H1410ZM1404 1744H1410V1749H1404ZM1404 1749H1410V1755H1404ZM1399 1760H1404V1765H1399Z"/>
<path fill="#2d1161" d="M1477 1150H1482V1155H1477ZM1332 1186H1337V1191H1332ZM1544 1202H1549V1207H1544ZM1559 1212H1565V1217H1559ZM1559 1228H1565V1233H1559ZM1275 1233H1280V1238H1275ZM1286 1243H1291V1248H1286ZM1301 1243H1306V1248H1301ZM1559 1243H1565V1248H1559ZM1291 1248H1296V1253H1291ZM1270 1259H1275V1264H1270ZM1554 1259H1559V1264H1554ZM1565 1259H1570V1264H1565ZM1286 1269H1291V1274H1286ZM1306 1274H1311V1279H1306ZM1570 1284H1575V1290H1570ZM1575 1295H1580V1300H1575ZM1332 1321H1337V1326H1332ZM1337 1341H1342V1346H1337ZM1575 1341H1580V1346H1575ZM1342 1388H1348V1393H1342ZM1559 1398H1565V1403H1559ZM1570 1408H1575V1414H1570ZM1575 1419H1580V1424H1575ZM1585 1450H1590V1455H1585ZM1611 1470H1616V1476H1611ZM1601 1486H1606V1491H1601ZM1363 1496H1368V1501H1363ZM1368 1501H1373V1507H1368ZM1528 1512H1534V1517H1528ZM1554 1512H1559V1517H1554ZM1575 1512H1580V1517H1575ZM1358 1527H1363V1532H1358ZM1539 1538H1544V1543H1539ZM1534 1543H1539V1548H1534ZM1528 1553H1534V1558H1528ZM1353 1558H1358V1563H1353ZM1523 1569H1528V1574H1523ZM1415 1744H1420V1749H1415ZM1404 1760H1410V1765H1404ZM1404 1765H1410V1770H1404Z"/>
<path fill="#19103f" d="M1404 1160H1410V1166H1404ZM1337 1181H1342V1186H1337ZM1363 1150H1368V1155H1363ZM1487 1150H1492V1155H1487ZM1358 1155H1363V1160H1358ZM1430 1155H1435V1160H1430ZM1503 1155H1508V1160H1503ZM1559 1166H1565V1171H1559ZM1518 1176H1523V1181H1518ZM1539 1197H1544V1202H1539ZM1301 1228H1306V1233H1301ZM1559 1269H1565V1274H1559ZM1585 1290H1590V1295H1585ZM1337 1331H1342V1336H1337ZM1590 1336H1596V1341H1590ZM1565 1357H1570V1362H1565ZM1342 1393H1348V1398H1342ZM1570 1419H1575V1424H1570ZM1358 1424H1363V1429H1358ZM1358 1434H1363V1439H1358ZM1575 1439H1580V1445H1575ZM1363 1476H1368V1481H1363ZM1363 1481H1368V1486H1363ZM1585 1501H1590V1507H1585ZM1363 1507H1368V1512H1363ZM1554 1507H1559V1512H1554ZM1358 1512H1363V1517H1358ZM1358 1517H1363V1522H1358ZM1534 1517H1539V1522H1534ZM1358 1522H1363V1527H1358ZM1353 1527H1358V1532H1353ZM1549 1527H1554V1532H1549ZM1353 1553H1358V1558H1353ZM1353 1563H1358V1569H1353ZM1353 1579H1358V1584H1353ZM1513 1579H1518V1584H1513ZM1337 1594H1342V1600H1337ZM1446 1636H1451V1641H1446ZM1342 1646H1348V1651H1342ZM1446 1646H1451V1651H1446ZM1435 1651H1441V1656H1435ZM1337 1656H1342V1662H1337ZM1337 1693H1342V1698H1337ZM1420 1718H1425V1724H1420ZM1368 1729H1373V1734H1368Z"/>
<path fill="#000004" d="M1275 1109H1280V1114H1275ZM1280 1160H1286V1166H1280ZM1363 1160H1368V1166H1363ZM1363 1171H1368V1176H1363ZM1332 1181H1337V1186H1332ZM1523 1181H1528V1186H1523ZM1430 1145H1435V1150H1430ZM1435 1150H1441V1155H1435ZM1363 1155H1368V1160H1363ZM1394 1155H1399V1160H1394ZM1415 1155H1420V1160H1415ZM1363 1166H1368V1171H1363ZM1337 1176H1342V1181H1337ZM1327 1186H1332V1191H1327ZM1534 1186H1539V1191H1534ZM1322 1191H1327V1197H1322ZM1554 1191H1559V1197H1554ZM1317 1197H1322V1202H1317ZM1549 1197H1559V1202H1549ZM1286 1202H1291V1207H1286ZM1549 1202H1554V1207H1549ZM1554 1207H1559V1212H1554ZM1559 1217H1565V1222H1559ZM1559 1238H1565V1243H1559ZM1565 1253H1570V1259H1565ZM1565 1264H1575V1269H1565ZM1570 1269H1575V1274H1570ZM1570 1274H1575V1279H1570ZM1311 1279H1317V1284H1311ZM1570 1279H1575V1284H1570ZM1317 1284H1322V1290H1317ZM1322 1290H1327V1295H1322ZM1565 1290H1570V1295H1565ZM1327 1300H1332V1305H1327ZM1332 1305H1337V1310H1332ZM1327 1310H1332V1315H1327ZM1327 1315H1332V1321H1327ZM1327 1321H1332V1326H1327ZM1332 1326H1337V1331H1332ZM1332 1331H1337V1336H1332ZM1332 1336H1342V1341H1332ZM1332 1341H1337V1346H1332ZM1580 1341H1585V1346H1580ZM1332 1346H1337V1352H1332ZM1332 1352H1337V1357H1332ZM1570 1352H1575V1357H1570ZM1332 1357H1337V1362H1332ZM1332 1367H1337V1372H1332ZM1332 1372H1337V1377H1332ZM1337 1383H1342V1388H1337ZM1337 1388H1342V1393H1337ZM1337 1393H1342V1398H1337ZM1342 1398H1348V1403H1342ZM1342 1403H1348V1408H1342ZM1565 1419H1570V1424H1565ZM1353 1434H1358V1439H1353ZM1358 1450H1363V1455H1358ZM1358 1455H1363V1460H1358ZM1565 1455H1570V1460H1565ZM1358 1460H1363V1465H1358ZM1358 1465H1363V1470H1358ZM1358 1470H1363V1476H1358ZM1327 1476H1332V1481H1327ZM1358 1476H1363V1481H1358ZM1358 1481H1363V1486H1358ZM1358 1486H1363V1491H1358ZM1358 1491H1363V1496H1358ZM1358 1496H1363V1501H1358ZM1358 1501H1368V1507H1358ZM1596 1501H1601V1507H1596ZM1358 1507H1363V1512H1358ZM1353 1512H1358V1517H1353ZM1348 1517H1358V1522H1348ZM1528 1517H1534V1522H1528ZM1559 1517H1565V1522H1559ZM1348 1522H1358V1527H1348ZM1559 1522H1565V1527H1559ZM1348 1527H1353V1532H1348ZM1565 1527H1570V1532H1565ZM1348 1532H1358V1538H1348ZM1539 1532H1544V1538H1539ZM1353 1538H1358V1543H1353ZM1353 1543H1358V1548H1353ZM1353 1548H1358V1553H1353ZM1528 1548H1539V1553H1528ZM1348 1553H1353V1558H1348ZM1348 1558H1353V1563H1348ZM1348 1563H1353V1569H1348ZM1348 1569H1358V1574H1348ZM1353 1574H1358V1579H1353ZM1348 1579H1353V1584H1348ZM1482 1579H1487V1584H1482ZM1492 1579H1497V1584H1492ZM1348 1584H1353V1589H1348ZM1477 1584H1482V1589H1477ZM1492 1584H1497V1589H1492ZM1513 1584H1523V1589H1513ZM1342 1589H1348V1594H1342ZM1503 1589H1508V1594H1503ZM1477 1594H1482V1600H1477ZM1337 1600H1342V1605H1337ZM1337 1605H1342V1610H1337ZM1337 1610H1342V1615H1337ZM1461 1610H1466V1615H1461ZM1337 1620H1342V1625H1337ZM1446 1625H1456V1631H1446ZM1446 1631H1456V1636H1446ZM1342 1636H1348V1641H1342ZM1342 1641H1348V1646H1342ZM1337 1646H1342V1651H1337ZM1435 1646H1446V1651H1435ZM1337 1651H1342V1656H1337ZM1441 1651H1451V1656H1441ZM1332 1656H1337V1662H1332ZM1337 1662H1342V1667H1337ZM1337 1667H1342V1672H1337ZM1435 1667H1441V1672H1435ZM1332 1682H1337V1687H1332ZM1327 1687H1337V1693H1327ZM1337 1698H1342V1703H1337ZM1420 1698H1425V1703H1420ZM1342 1703H1348V1708H1342ZM1348 1708H1353V1713H1348ZM1425 1708H1430V1713H1425ZM1348 1713H1353V1718H1348ZM1425 1713H1430V1718H1425ZM1425 1718H1430V1724H1425ZM1415 1724H1425V1729H1415ZM1373 1729H1379V1734H1373ZM1389 1729H1394V1734H1389ZM1415 1729H1425V1734H1415ZM1353 1734H1373V1739H1353ZM1410 1734H1415V1739H1410ZM1420 1734H1425V1739H1420ZM1404 1739H1415V1744H1404ZM1420 1739H1425V1744H1420ZM1410 1749H1420V1755H1410ZM1404 1755H1420V1760H1404Z"/></g>
<use xlink:href="#grat" href="#grat" x="1263" y="1080"/>
<use xlink:href="#coast" href="#coast" x="1263" y="1080"/>
<rect x="1263" y="1080" width="375" height="700" fill="none" stroke="#000" stroke-width="2.2"/>
</g>
<text x="761.3" y="81.4" font-size="45.3" textLength="614" lengthAdjust="spacingAndGlyphs" xml:space="preserve">Runoff 2000-2019 (mm day</text>
<text x="1378.8" y="64.1" font-size="31.7" textLength="43" lengthAdjust="spacingAndGlyphs">−1</text>
<text x="1424.8" y="81.4" font-size="45.3" textLength="17.3" lengthAdjust="spacingAndGlyphs">)</text>
<text x="488.5" y="223" font-size="45.3" text-anchor="middle" textLength="99.6" lengthAdjust="spacingAndGlyphs">MAR</text>
<text x="625.6" y="914.2" font-size="41">a</text>
<text x="969.5" y="223" font-size="45.3" text-anchor="middle" textLength="158.7" lengthAdjust="spacingAndGlyphs">STD-3L</text>
<text x="1106.6" y="914.2" font-size="41">b</text>
<text x="1450.5" y="223" font-size="45.3" text-anchor="middle" textLength="186.9" lengthAdjust="spacingAndGlyphs">STD-12L</text>
<text x="1587.6" y="914.2" font-size="41">c</text>
<text x="969.5" y="1063" font-size="45.3" text-anchor="middle" textLength="207.4" lengthAdjust="spacingAndGlyphs">ASIM-12L</text>
<text x="1106.6" y="1754.2" font-size="41">d</text>
<text x="1450.5" y="1063" font-size="45.3" text-anchor="middle" textLength="182.2" lengthAdjust="spacingAndGlyphs">OPT-12L</text>
<text x="1587.6" y="1754.2" font-size="41">e</text>
<g shape-rendering="crispEdges">
<rect x="1724.1" y="1560.52" width="58.70" height="65.68" fill="#fcfdbf"/>
<rect x="1724.1" y="1495.33" width="58.70" height="65.68" fill="#fde3a5"/>
<rect x="1724.1" y="1430.15" width="58.70" height="65.68" fill="#feca8d"/>
<rect x="1724.1" y="1364.97" width="58.70" height="65.68" fill="#feb078"/>
<rect x="1724.1" y="1299.78" width="58.70" height="65.68" fill="#fd9668"/>
<rect x="1724.1" y="1234.60" width="58.70" height="65.68" fill="#f97b5d"/>
<rect x="1724.1" y="1169.42" width="58.70" height="65.68" fill="#f1605d"/>
<rect x="1724.1" y="1104.23" width="58.70" height="65.68" fill="#e24d66"/>
<rect x="1724.1" y="1039.05" width="58.70" height="65.68" fill="#cd4071"/>
<rect x="1724.1" y="973.87" width="58.70" height="65.68" fill="#b73779"/>
<rect x="1724.1" y="908.68" width="58.70" height="65.68" fill="#a02f7f"/>
<rect x="1724.1" y="843.50" width="58.70" height="65.68" fill="#892881"/>
<rect x="1724.1" y="778.32" width="58.70" height="65.68" fill="#721f81"/>
<rect x="1724.1" y="713.13" width="58.70" height="65.68" fill="#5c167f"/>
<rect x="1724.1" y="647.95" width="58.70" height="65.68" fill="#451077"/>
<rect x="1724.1" y="582.77" width="58.70" height="65.68" fill="#2d1161"/>
<rect x="1724.1" y="517.58" width="58.70" height="65.68" fill="#19103f"/>
<rect x="1724.1" y="452.40" width="58.70" height="65.68" fill="#090720"/>
</g>
<path d="M1724.1 452.4L1753.45 393.70L1782.8 452.4Z" fill="#000004"/>
<path d="M1724.1 452.4L1753.45 393.70L1782.8 452.4V1625.7H1724.1Z" fill="none" stroke="#000" stroke-width="2.2" stroke-linejoin="miter"/>
<path d="M1782.8 452.40h10.3" stroke="#000" stroke-width="2.2" fill="none"/>
<text x="1801.6" y="467.7" font-size="43.2" textLength="89" lengthAdjust="spacingAndGlyphs">5.00</text>
<path d="M1782.8 582.77h10.3" stroke="#000" stroke-width="2.2" fill="none"/>
<text x="1801.6" y="598.1" font-size="43.2" textLength="89" lengthAdjust="spacingAndGlyphs">4.00</text>
<path d="M1782.8 713.13h10.3" stroke="#000" stroke-width="2.2" fill="none"/>
<text x="1801.6" y="728.4" font-size="43.2" textLength="89" lengthAdjust="spacingAndGlyphs">3.00</text>
<path d="M1782.8 843.50h10.3" stroke="#000" stroke-width="2.2" fill="none"/>
<text x="1801.6" y="858.8" font-size="43.2" textLength="89" lengthAdjust="spacingAndGlyphs">2.00</text>
<path d="M1782.8 973.87h10.3" stroke="#000" stroke-width="2.2" fill="none"/>
<text x="1801.6" y="989.2" font-size="43.2" textLength="89" lengthAdjust="spacingAndGlyphs">1.00</text>
<path d="M1782.8 1104.23h10.3" stroke="#000" stroke-width="2.2" fill="none"/>
<text x="1801.6" y="1119.5" font-size="43.2" textLength="89" lengthAdjust="spacingAndGlyphs">0.40</text>
<path d="M1782.8 1234.60h10.3" stroke="#000" stroke-width="2.2" fill="none"/>
<text x="1801.6" y="1249.9" font-size="43.2" textLength="89" lengthAdjust="spacingAndGlyphs">0.20</text>
<path d="M1782.8 1364.97h10.3" stroke="#000" stroke-width="2.2" fill="none"/>
<text x="1801.6" y="1380.3" font-size="43.2" textLength="89" lengthAdjust="spacingAndGlyphs">0.08</text>
<path d="M1782.8 1495.33h10.3" stroke="#000" stroke-width="2.2" fill="none"/>
<text x="1801.6" y="1510.6" font-size="43.2" textLength="89" lengthAdjust="spacingAndGlyphs">0.04</text>
<path d="M1782.8 1625.70h10.3" stroke="#000" stroke-width="2.2" fill="none"/>
<text x="1801.6" y="1641.0" font-size="43.2" textLength="89" lengthAdjust="spacingAndGlyphs">0.00</text>
<rect x="1916" y="1008" width="2" height="8" fill="#000"/>
</svg></body></html>
